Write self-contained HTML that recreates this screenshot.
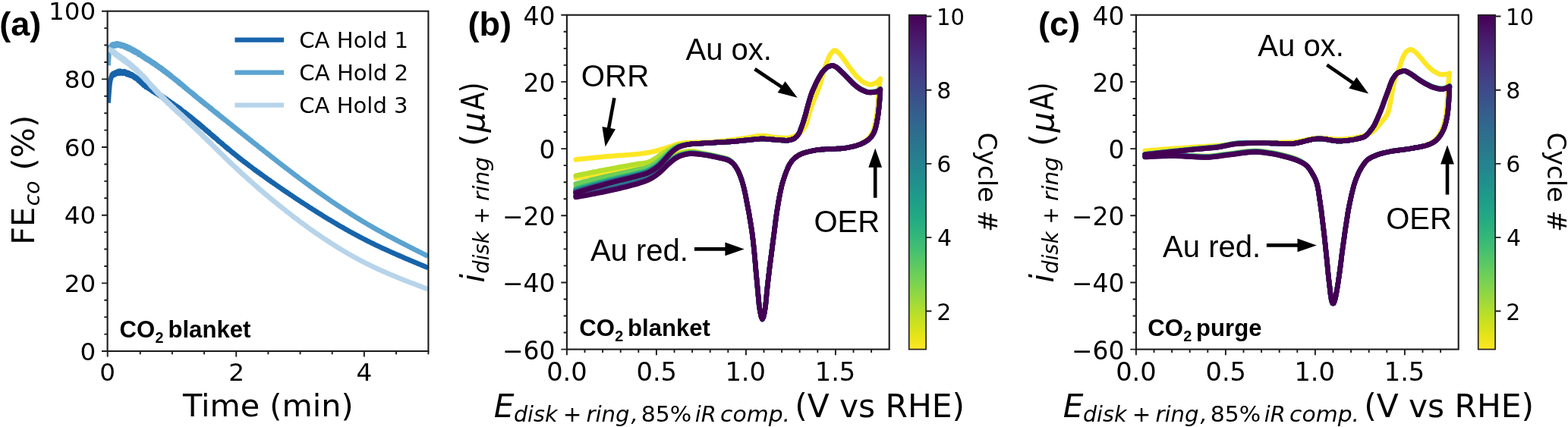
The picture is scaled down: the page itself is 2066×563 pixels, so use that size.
<!DOCTYPE html>
<html lang="en"><head><meta charset="utf-8"><title>Figure</title>
<style>html,body{margin:0;padding:0;background:#fff;overflow:hidden}svg{display:block}</style></head>
<body>
<svg width="2066" height="563" viewBox="0 0 2066 563" role="img" aria-label="Three-panel electrochemistry figure">
<rect width="2066" height="563" fill="#fff"/>
<filter id="soft" x="0" y="0" width="2066" height="563" filterUnits="userSpaceOnUse" color-interpolation-filters="sRGB"><feGaussianBlur stdDeviation="0.45"/></filter>
<g filter="url(#soft)">
<rect width="2066" height="563" fill="#fff"/>
<clipPath id="ca"><rect x="141.6" y="14.7" width="422.79999999999995" height="448.3"/></clipPath>
<g clip-path="url(#ca)">
<path d="M142.6 135.7L143.2 126.8L143.8 118.7L144.4 112.1L145 107.6L145.6 105.1L146.2 103L146.8 101.3L147.5 98.6L148.2 100L148.9 97L149.6 99.2L150.3 96.4L151 98.7L151.7 96L152.3 97.8L153 95L153.7 97.2L154.4 94.9L155.1 96.5L155.8 93.9L156.5 96.9L157.2 94.2L157.9 96.5L158.6 93.6L159.3 96.6L159.9 94.3L160.6 95.9L161.3 94.4L162 96.8L162.7 94.7L163.4 96.6L164.1 94.2L164.8 97L165.5 94.8L166.2 97.2L166.8 95.3L167.5 98.1L168.2 96.4L168.9 98.6L169.6 96.1L170.3 99.1L171 97.3L171.7 99.7L172.4 98L173.1 100L173.8 98L174.4 100.5L175.1 99.2L175.8 101.1L176.5 100.2L177.2 102.4L177.9 101.1L178.6 103.1L179.3 101.9L180 104L180.7 102.9L181.4 105.1L182 104L182.7 106.6L183.4 105.5L184.1 107.5L184.8 106.2L185.5 108.8L186.2 108L186.9 110.1L187.6 108.8L188.3 111.4L189 109.9L189.6 112.7L190.3 111.1L191 113.5L191.7 112.8L192.4 114.9L193.1 113.5L193.8 115.4L194.5 114.1L195.2 116.3L195.9 115L196.6 117.4L197.2 115.8L197.9 118.2L198.6 116.8L199.3 118.9L200 118L200.7 120.2L201.4 118.8L202.1 121.1L202.8 119.6L203.5 121.8L204.2 120.8L204.8 122.9L205.5 121.5L206.2 123.5L206.9 122.5L207.6 124.2L208.3 123.1L209 125.3L209.7 124.5L210.4 126.2L211.1 125.3L211.8 127.1L212.4 125.9L213.1 127.9L213.8 126.8L214.5 129L215.2 128.2L215.9 130L216.6 128.8L217.3 131L218 130L218.7 131.4L219.4 130.5L220 132.7L220.7 131.9L221.4 133.6L222.1 132.5L222.8 134.7L223.5 133.5L224.2 135.2L224.9 134.8L225.6 136.1L226.3 135.8L227 137.1L227.6 136.3L228.3 138.3L229 137.5L229.7 139.4L230.4 138.7L231.1 140.1L231.8 139.4L232.5 141.4L233.2 140.4L233.9 141.9L234.6 141.3L235.2 143L235.9 142.3L236.6 144.1L237.3 143.3L238 145.2L238.7 144.5L239.4 146L240.1 145.7L240.8 147L241.5 146.8L242.2 148L242.8 147.7L243.5 149.3L244.2 148.6L244.9 150L245.6 149.9L246.3 151.5L247 150.8L247.7 152.2L248.4 152L249.1 153.5L249.7 153.1L250.4 154.5L251.1 153.9L251.8 155.7L252.5 155.3L253.2 156.7L253.9 156.2L254.6 157.9L255.3 157.5L256 158.7L256.7 158.7L257.3 160L258 159.6L258.7 161.2L259.4 160.9L260.1 162.5L260.8 161.9L261.5 163.4L262.2 163.1L262.9 164.7L263.6 164.2L264.3 165.7L264.9 165.6L265.6 166.9L266.3 166.6L267 168L267.7 167.7L268.4 169.1L269.1 169.1L269.8 170.5L270.5 170.3L271.2 171.6L271.9 171.3L272.5 172.9L273.2 172.6L273.9 173.8L274.6 173.6L275.3 175.2L276 174.8L276.7 176.4L277.4 176.3L278.1 177.4L278.8 177.3L279.5 178.8L280.1 178.4L280.8 179.9L281.5 179.6L282.2 181.1L282.9 180.9L283.6 182.2L284.3 182.1L285 183.4L285.7 183.2L286.4 184.7L287.1 184.5L287.7 185.9L288.4 185.8L289.1 186.9L289.8 186.9L290.5 188.1L291.2 188.2L291.9 189.4L292.6 189.1L293.3 190.4L294 190.5L294.7 191.6L295.3 191.7L296 192.9L296.7 192.8L297.4 194.1L298.1 193.9L298.8 195.2L299.5 195L300.2 196.4L300.9 196.2L301.6 197.4L302.3 197.3L302.9 198.5L303.6 198.5L304.3 199.7L305 199.8L305.7 200.8L306.4 200.8L307.1 202L307.8 201.9L308.5 203.1L309.2 203L309.9 204.1L310.5 204.1L311.2 205.3L311.9 205.3L312.6 206.3L313.3 206.3L314 207.6L314.7 207.6L315.4 208.7L316.1 208.6L316.8 209.7L317.5 209.6L318.1 210.8L318.8 210.7L319.5 211.8L320.2 211.8L320.9 212.9L321.6 212.8L322.3 214L323 213.9L323.7 215L324.4 214.9L325.1 216L325.7 216L326.4 217.1L327.1 217.1L327.8 218.1L328.5 218.2L329.2 219.1L329.9 219.2L330.6 220.2L331.3 220.2L332 221.3L332.6 221.4L333.3 222.3L334 222.4L334.7 223.4L335.4 223.3L336.1 224.4L336.8 224.4L337.5 225.3L338.2 225.5L338.9 226.4L339.6 226.4L340.2 227.4L340.9 227.4L341.6 228.4L342.3 228.4L343 229.4L343.7 229.4L344.4 230.4L345.1 230.5L345.8 231.3L346.5 231.5L347.2 232.3L347.8 232.4L348.5 233.3L349.2 233.4L349.9 234.4L350.6 234.4L351.3 235.3L352 235.5L352.7 236.3L353.4 236.4L354.8 237.8L356.2 238.4L357.6 239.8L359 240.3L360.4 241.8L361.9 242.4L363.3 243.7L364.7 244.4L366.1 245.7L367.5 246.3L368.9 247.6L370.4 248.3L371.8 249.6L373.2 250.2L374.6 251.5L376 252.2L377.4 253.3L378.8 254L380.3 255.3L381.7 256L383.1 257.2L384.5 257.8L385.9 259.1L387.3 259.8L388.7 261L390.2 261.7L391.6 262.9L393 263.5L394.4 264.7L395.8 265.4L397.2 266.6L398.6 267.2L400.1 268.4L401.5 269.1L402.9 270.3L404.3 270.9L405.7 272.1L407.1 272.8L408.5 273.9L410 274.6L411.4 275.7L412.8 276.4L414.2 277.5L415.6 278.2L417 279.3L418.4 280L419.9 281.1L421.3 281.8L422.7 282.8L424.1 283.5L425.5 284.6L426.9 285.3L428.3 286.4L429.8 287L431.2 288.1L432.6 288.7L434 289.8L435.4 290.4L436.8 291.5L438.3 292.1L439.7 293.2L441.1 293.8L442.5 294.8L443.9 295.5L445.3 296.5L446.7 297.2L448.2 298.2L449.6 298.8L451 299.8L452.4 300.4L453.8 301.4L455.2 302L456.6 303L458.1 303.6L459.5 304.6L460.9 305.2L462.3 306.1L463.7 306.8L465.1 307.7L466.5 308.3L468 309.2L469.4 309.9L470.8 310.8L472.2 311.4L473.6 312.3L475 312.9L476.4 313.7L477.9 314.3L479.3 315.2L480.7 315.8L482.1 316.7L483.5 317.2L484.9 318.1L486.3 318.6L487.8 319.5L489.2 320.1L490.6 320.9L492 321.4L493.4 322.3L494.8 322.8L496.2 323.6L497.7 324.2L499.1 324.9L500.5 325.5L501.9 326.3L503.3 326.8L504.7 327.6L506.2 328.1L507.6 328.9L509 329.4L510.4 330.2L511.8 330.7L513.2 331.5L514.6 332L516.1 332.7L517.5 333.3L518.9 334L520.3 334.5L521.7 335.2L523.1 335.8L524.5 336.5L526 337L527.4 337.7L528.8 338.2L530.2 338.9L531.6 339.5L533 340.1L534.4 340.7L535.9 341.4L537.3 341.9L538.7 342.5L540.1 343.1L541.5 343.7L542.9 344.3L544.3 344.9L545.8 345.5L547.2 346.1L548.6 346.6L550 347.3L551.4 347.8L552.8 348.5L554.2 349L555.7 349.7L557.1 350.2L558.5 350.9L559.9 351.4L561.3 352L562.7 352.5L564.1 353.2" fill="none" stroke="#1764ab" stroke-width="6.6" stroke-linejoin="round" stroke-linecap="butt"/>
<path d="M142.6 86.4L143.2 75.1L143.8 65.3L144.4 62.5L145 62L145.6 61.5L146.2 61.1L146.8 60.7L147.5 59.3L148.2 61.1L148.9 58.4L149.6 60.8L150.3 58.5L151 60.5L151.7 58.1L152.3 60.5L153 57.4L153.7 60.1L154.4 57.3L155.1 59.7L155.8 57.7L156.5 59.7L157.2 57.9L157.9 59.9L158.6 58.4L159.3 60.7L159.9 58.7L160.6 60.6L161.3 59.1L162 61.2L162.7 59.4L163.4 61.6L164.1 59.8L164.8 62.4L165.5 60.5L166.2 62.9L166.8 60.9L167.5 63.7L168.2 62.1L168.9 64.4L169.6 62.1L170.3 64.9L171 62.8L171.7 65.4L172.4 63.7L173.1 66.1L173.8 64.5L174.4 67L175.1 65.1L175.8 67.8L176.5 65.8L177.2 67.9L177.9 66.7L178.6 69.3L179.3 67.5L180 69.5L180.7 68.5L181.4 70.3L182 68.9L182.7 71.9L183.4 69.9L184.1 72.5L184.8 70.9L185.5 73.1L186.2 72.2L186.9 74.3L187.6 73.1L188.3 74.9L189 73.6L189.6 76.1L190.3 74.8L191 76.9L191.7 75.9L192.4 77.8L193.1 76.4L193.8 78.9L194.5 77.6L195.2 79.3L195.9 78.2L196.6 80.3L197.2 79.2L197.9 81.1L198.6 80.1L199.3 82.2L200 81.1L200.7 83.1L201.4 82.1L202.1 84.1L202.8 82.7L203.5 84.7L204.2 84L204.8 85.6L205.5 84.7L206.2 86.9L206.9 86L207.6 87.7L208.3 86.7L209 88.8L209.7 87.9L210.4 89.9L211.1 88.6L211.8 90.4L212.4 89.5L213.1 91.8L213.8 90.6L214.5 92.7L215.2 91.9L215.9 93.9L216.6 92.8L217.3 94.6L218 94L218.7 96L219.4 95L220 96.8L220.7 95.9L221.4 98L222.1 97L222.8 98.7L223.5 98.1L224.2 100L224.9 99.2L225.6 101.2L226.3 100.5L227 102L227.6 101.7L228.3 103.2L229 102.8L229.7 104.4L230.4 103.8L231.1 105.3L231.8 105L232.5 106.5L233.2 106.1L233.9 107.6L234.6 107.1L235.2 108.9L235.9 108.1L236.6 110.2L237.3 109.6L238 111L238.7 110.5L239.4 112.1L240.1 111.6L240.8 113.3L241.5 112.8L242.2 114.6L242.8 113.9L243.5 115.5L244.2 115.3L244.9 116.9L245.6 116.5L246.3 117.7L247 117.5L247.7 119.1L248.4 118.8L249.1 120L249.7 120L250.4 121.3L251.1 120.9L251.8 122.4L252.5 121.9L253.2 123.6L253.9 123.2L254.6 124.7L255.3 124.3L256 126.1L256.7 125.5L257.3 126.9L258 126.7L258.7 128.1L259.4 127.8L260.1 129.3L260.8 129.1L261.5 130.2L262.2 130L262.9 131.6L263.6 131.1L264.3 132.7L264.9 132.3L265.6 133.9L266.3 133.5L267 134.8L267.7 134.4L268.4 136.1L269.1 135.7L269.8 137.2L270.5 136.8L271.2 138.2L271.9 138L272.5 139.1L273.2 138.9L273.9 140.2L274.6 140.1L275.3 141.4L276 141.3L276.7 142.6L277.4 142.2L278.1 143.7L278.8 143.3L279.5 144.9L280.1 144.6L280.8 145.9L281.5 145.8L282.2 146.9L282.9 146.8L283.6 148.1L284.3 147.8L285 149.3L285.7 148.9L286.4 150.4L287.1 150L287.7 151.5L288.4 151.3L289.1 152.5L289.8 152.4L290.5 153.7L291.2 153.4L291.9 154.7L292.6 154.6L293.3 155.9L294 155.6L294.7 156.8L295.3 156.7L296 158.1L296.7 158L297.4 159L298.1 159L298.8 160.1L299.5 160L300.2 161.4L300.9 161.2L301.6 162.5L302.3 162.4L302.9 163.4L303.6 163.4L304.3 164.6L305 164.4L305.7 165.7L306.4 165.7L307.1 166.9L307.8 166.8L308.5 167.8L309.2 167.8L309.9 169L310.5 169L311.2 170.2L311.9 170L312.6 171.2L313.3 171.1L314 172.4L314.7 172.4L315.4 173.5L316.1 173.4L316.8 174.4L317.5 174.5L318.1 175.6L318.8 175.7L319.5 176.6L320.2 176.8L320.9 177.8L321.6 177.8L322.3 178.9L323 178.9L323.7 180L324.4 180.1L325.1 181.2L325.7 181.1L326.4 182.3L327.1 182.3L327.8 183.3L328.5 183.5L329.2 184.5L329.9 184.6L330.6 185.5L331.3 185.6L332 186.7L332.6 186.7L333.3 187.8L334 187.7L334.7 188.9L335.4 188.9L336.1 190L336.8 190L337.5 191.1L338.2 191.1L338.9 192.1L339.6 192.3L340.2 193.2L340.9 193.4L341.6 194.3L342.3 194.4L343 195.5L343.7 195.5L344.4 196.5L345.1 196.6L345.8 197.5L346.5 197.7L347.2 198.7L347.8 198.9L348.5 199.8L349.2 200L349.9 200.8L350.6 201.1L351.3 201.9L352 202L352.7 203L353.4 203.1L354.8 204.6L356.2 205.4L357.6 207L359 207.6L360.4 209.1L361.9 209.8L363.3 211.3L364.7 212.1L366.1 213.5L367.5 214.3L368.9 215.8L370.4 216.4L371.8 217.9L373.2 218.7L374.6 220L376 220.8L377.4 222.2L378.8 223L380.3 224.3L381.7 225.2L383.1 226.5L384.5 227.4L385.9 228.7L387.3 229.5L388.7 230.8L390.2 231.6L391.6 232.9L393 233.8L394.4 235.1L395.8 235.9L397.2 237.2L398.6 238L400.1 239.2L401.5 240.1L402.9 241.3L404.3 242.2L405.7 243.4L407.1 244.2L408.5 245.5L410 246.3L411.4 247.6L412.8 248.3L414.2 249.6L415.6 250.4L417 251.6L418.4 252.4L419.9 253.7L421.3 254.4L422.7 255.7L424.1 256.5L425.5 257.6L426.9 258.4L428.3 259.6L429.8 260.4L431.2 261.6L432.6 262.3L434 263.5L435.4 264.3L436.8 265.5L438.3 266.3L439.7 267.4L441.1 268.2L442.5 269.3L443.9 270.1L445.3 271.2L446.7 271.9L448.2 273.1L449.6 273.9L451 274.9L452.4 275.7L453.8 276.8L455.2 277.5L456.6 278.6L458.1 279.4L459.5 280.4L460.9 281.2L462.3 282.3L463.7 283L465.1 284L466.5 284.8L468 285.8L469.4 286.6L470.8 287.6L472.2 288.3L473.6 289.3L475 290L476.4 291L477.9 291.8L479.3 292.7L480.7 293.4L482.1 294.4L483.5 295.1L484.9 296.1L486.3 296.8L487.8 297.7L489.2 298.4L490.6 299.3L492 300.1L493.4 301L494.8 301.6L496.2 302.6L497.7 303.2L499.1 304.2L500.5 304.8L501.9 305.7L503.3 306.4L504.7 307.3L506.2 308L507.6 308.8L509 309.5L510.4 310.4L511.8 311L513.2 311.9L514.6 312.5L516.1 313.4L517.5 314L518.9 314.9L520.3 315.5L521.7 316.4L523.1 317L524.5 317.9L526 318.5L527.4 319.3L528.8 320L530.2 320.8L531.6 321.4L533 322.3L534.4 322.9L535.9 323.7L537.3 324.3L538.7 325.1L540.1 325.8L541.5 326.6L542.9 327.2L544.3 328L545.8 328.7L547.2 329.4L548.6 330.1L550 330.9L551.4 331.5L552.8 332.3L554.2 332.9L555.7 333.7L557.1 334.4L558.5 335.1L559.9 335.8L561.3 336.5L562.7 337.2L564.1 338" fill="none" stroke="#5ba3d0" stroke-width="6.6" stroke-linejoin="round" stroke-linecap="butt"/>
<path d="M142.6 64L143.2 64.4L143.8 64.9L144.4 65.3L145 65.7L145.6 66.1L146.2 66.6L146.8 67L147.5 66.6L148.2 69.2L148.9 67.7L149.6 70.2L150.3 68L151 71L151.7 69L152.3 72.3L153 70.7L153.7 73.2L154.4 71.5L155.1 74.1L155.8 72.5L156.5 75.3L157.2 73.3L157.9 75.8L158.6 74.3L159.3 77.4L159.9 75.5L160.6 77.9L161.3 76.4L162 79.5L162.7 76.9L163.4 80.3L164.1 78L164.8 81.4L165.5 79.5L166.2 81.8L166.8 80.3L167.5 83.2L168.2 81.7L168.9 84L169.6 82.7L170.3 85.2L171 83.9L171.7 86.2L172.4 84.9L173.1 87.8L173.8 86L174.4 88.5L175.1 87.4L175.8 89.8L176.5 88.7L177.2 90.8L177.9 89.7L178.6 92L179.3 91L180 93.4L180.7 92.1L181.4 95L182 93.5L182.7 96.3L183.4 95.1L184.1 97.6L184.8 96.4L185.5 98.9L186.2 97.8L186.9 100.2L187.6 99.4L188.3 101.4L189 100.2L189.6 102.8L190.3 101.8L191 104.5L191.7 103.2L192.4 105.8L193.1 104.8L193.8 107.1L194.5 106.8L195.2 108.7L195.9 108.3L196.6 110.2L197.2 109.9L197.9 112L198.6 111.4L199.3 113.8L200 112.6L200.7 115.1L201.4 114.1L202.1 116.4L202.8 115.5L203.5 118.2L204.2 117.1L204.8 119.5L205.5 118.5L206.2 121.1L206.9 120.1L207.6 122.7L208.3 121.6L209 123.8L209.7 123.1L210.4 125.1L211.1 124.7L211.8 126.8L212.4 125.8L213.1 128.4L213.8 127.2L214.5 129.5L215.2 129L215.9 130.8L216.6 129.9L217.3 132.4L218 131.5L218.7 133.5L219.4 133L220 134.7L220.7 134.5L221.4 136.4L222.1 135.5L222.8 137.3L223.5 136.9L224.2 138.6L224.9 138.4L225.6 140.3L226.3 139.5L227 141.4L227.6 140.9L228.3 142.8L229 141.9L229.7 144L230.4 143.6L231.1 145.1L231.8 144.9L232.5 146.8L233.2 146L233.9 148L234.6 147.4L235.2 149L235.9 148.5L236.6 150.5L237.3 149.9L238 151.4L238.7 151L239.4 152.8L240.1 152.3L240.8 154L241.5 153.6L242.2 155.6L242.8 154.9L243.5 156.6L244.2 156.2L244.9 157.8L245.6 157.6L246.3 159.2L247 158.7L247.7 160.4L248.4 160L249.1 161.9L249.7 161.2L250.4 163L251.1 162.9L251.8 164.3L252.5 163.9L253.2 165.9L253.9 165.3L254.6 167L255.3 166.8L256 168.5L256.7 167.9L257.3 169.5L258 169.5L258.7 171.1L259.4 170.6L260.1 172.2L260.8 172.1L261.5 173.6L262.2 173.4L262.9 174.8L263.6 174.7L264.3 176.3L264.9 176L265.6 177.6L266.3 177.3L267 179.1L267.7 178.9L268.4 180.5L269.1 180.1L269.8 181.9L270.5 181.7L271.2 183L271.9 182.9L272.5 184.4L273.2 184.3L273.9 185.7L274.6 185.5L275.3 187.2L276 187L276.7 188.4L277.4 188.4L278.1 189.8L278.8 189.7L279.5 191.3L280.1 191.3L280.8 192.5L281.5 192.5L282.2 193.9L282.9 194L283.6 195.3L284.3 195.3L285 196.7L285.7 196.6L286.4 198L287.1 198L287.7 199.3L288.4 199.5L289.1 200.9L289.8 200.9L290.5 202.1L291.2 202.2L291.9 203.5L292.6 203.6L293.3 204.7L294 204.9L294.7 206.1L295.3 206.2L296 207.6L296.7 207.5L297.4 208.9L298.1 208.9L298.8 210.1L299.5 210.3L300.2 211.5L300.9 211.5L301.6 212.8L302.3 213L302.9 214.3L303.6 214.3L304.3 215.5L305 215.4L305.7 216.8L306.4 216.9L307.1 218.2L307.8 218.2L308.5 219.4L309.2 219.6L309.9 220.7L310.5 220.9L311.2 221.9L311.9 222L312.6 223.2L313.3 223.4L314 224.7L314.7 224.6L315.4 225.9L316.1 225.9L316.8 227.2L317.5 227.2L318.1 228.5L318.8 228.6L319.5 229.7L320.2 229.9L320.9 231L321.6 231L322.3 232.2L323 232.2L323.7 233.4L324.4 233.5L325.1 234.6L325.7 234.8L326.4 236L327.1 235.9L327.8 237.1L328.5 237.3L329.2 238.5L329.9 238.5L330.6 239.5L331.3 239.7L332 240.8L332.6 240.9L333.3 242L334 242.2L334.7 243.2L335.4 243.4L336.1 244.5L336.8 244.6L337.5 245.7L338.2 245.8L338.9 246.8L339.6 247L340.2 248.1L340.9 248.2L341.6 249.3L342.3 249.5L343 250.5L343.7 250.7L344.4 251.6L345.1 251.9L345.8 252.7L346.5 253L347.2 254L347.8 254.1L348.5 255.2L349.2 255.3L349.9 256.3L350.6 256.5L351.3 257.5L352 257.7L352.7 258.7L353.4 258.8L354.8 260.5L356.2 261.2L357.6 262.8L359 263.5L360.4 265L361.9 265.9L363.3 267.3L364.7 268.2L366.1 269.6L367.5 270.5L368.9 271.9L370.4 272.7L371.8 274.2L373.2 275L374.6 276.4L376 277.2L377.4 278.7L378.8 279.4L380.3 280.9L381.7 281.7L383.1 283L384.5 283.8L385.9 285.3L387.3 286.1L388.7 287.4L390.2 288.1L391.6 289.5L393 290.3L394.4 291.7L395.8 292.5L397.2 293.8L398.6 294.5L400.1 295.9L401.5 296.6L402.9 297.9L404.3 298.7L405.7 300L407.1 300.8L408.5 302L410 302.8L411.4 304L412.8 304.7L414.2 305.9L415.6 306.8L417 307.9L418.4 308.7L419.9 309.9L421.3 310.6L422.7 311.8L424.1 312.6L425.5 313.7L426.9 314.5L428.3 315.6L429.8 316.3L431.2 317.5L432.6 318.2L434 319.3L435.4 320L436.8 321.1L438.3 321.9L439.7 322.9L441.1 323.7L442.5 324.7L443.9 325.5L445.3 326.5L446.7 327.2L448.2 328.2L449.6 328.9L451 329.9L452.4 330.6L453.8 331.6L455.2 332.3L456.6 333.2L458.1 333.9L459.5 334.9L460.9 335.6L462.3 336.5L463.7 337.2L465.1 338.1L466.5 338.7L468 339.7L469.4 340.3L470.8 341.2L472.2 341.8L473.6 342.7L475 343.3L476.4 344.2L477.9 344.8L479.3 345.7L480.7 346.3L482.1 347.1L483.5 347.7L484.9 348.5L486.3 349.1L487.8 349.9L489.2 350.5L490.6 351.3L492 351.9L493.4 352.6L494.8 353.2L496.2 354L497.7 354.5L499.1 355.3L500.5 355.8L501.9 356.5L503.3 357.1L504.7 357.8L506.2 358.3L507.6 359L509 359.6L510.4 360.3L511.8 360.8L513.2 361.5L514.6 362L516.1 362.7L517.5 363.2L518.9 363.8L520.3 364.4L521.7 365L523.1 365.5L524.5 366.2L526 366.7L527.4 367.3L528.8 367.8L530.2 368.5L531.6 368.9L533 369.6L534.4 370.1L535.9 370.7L537.3 371.2L538.7 371.8L540.1 372.3L541.5 372.9L542.9 373.3L544.3 373.9L545.8 374.4L547.2 375L548.6 375.5L550 376.1L551.4 376.6L552.8 377.2L554.2 377.6L555.7 378.3L557.1 378.7L558.5 379.3L559.9 379.8L561.3 380.4L562.7 380.8L564.1 381.4" fill="none" stroke="#b7d4ea" stroke-width="6.6" stroke-linejoin="round" stroke-linecap="butt"/>
</g>
<path d="M141.7 463V470.6M311.22 463V470.6M479.84 463V470.6M184.75 463V467.3M226.91 463V467.3M269.06 463V467.3M353.38 463V467.3M395.53 463V467.3M437.69 463V467.3M522 463V467.3M564.4 463V467.3M141.6 463H134M141.6 373.34H134M141.6 283.68H134M141.6 194.02H134M141.6 104.36H134M141.6 14.7H134M141.6 440.58H137.3M141.6 418.17H137.3M141.6 395.75H137.3M141.6 350.93H137.3M141.6 328.51H137.3M141.6 306.1H137.3M141.6 261.26H137.3M141.6 238.85H137.3M141.6 216.44H137.3M141.6 171.61H137.3M141.6 149.19H137.3M141.6 126.77H137.3M141.6 81.94H137.3M141.6 59.53H137.3M141.6 37.12H137.3" stroke="#1c1c1c" stroke-width="1.9" fill="none"/>
<rect x="141.6" y="14.7" width="422.8" height="448.3" fill="none" stroke="#1c1c1c" stroke-width="2.1"/>
<text transform="translate(131.32,502.2) scale(1.0200,1)" font-size="32" font-family="'DejaVu Sans', 'Liberation Sans', sans-serif" font-weight="normal" font-style="normal" fill="#000">0</text>
<text transform="translate(301.28,502.2) scale(1.0200,1)" font-size="32" font-family="'DejaVu Sans', 'Liberation Sans', sans-serif" font-weight="normal" font-style="normal" fill="#000">2</text>
<text transform="translate(469.58,502.2) scale(1.0200,1)" font-size="32" font-family="'DejaVu Sans', 'Liberation Sans', sans-serif" font-weight="normal" font-style="normal" fill="#000">4</text>
<text transform="translate(105.5,474.65) scale(1.0200,1)" font-size="32" font-family="'DejaVu Sans', 'Liberation Sans', sans-serif" font-weight="normal" font-style="normal" fill="#000">0</text>
<text transform="translate(84.73,384.99) scale(1.0200,1)" font-size="32" font-family="'DejaVu Sans', 'Liberation Sans', sans-serif" font-weight="normal" font-style="normal" fill="#000">20</text>
<text transform="translate(84.73,295.33) scale(1.0200,1)" font-size="32" font-family="'DejaVu Sans', 'Liberation Sans', sans-serif" font-weight="normal" font-style="normal" fill="#000">40</text>
<text transform="translate(84.73,205.67) scale(1.0200,1)" font-size="32" font-family="'DejaVu Sans', 'Liberation Sans', sans-serif" font-weight="normal" font-style="normal" fill="#000">60</text>
<text transform="translate(84.73,116.01) scale(1.0200,1)" font-size="32" font-family="'DejaVu Sans', 'Liberation Sans', sans-serif" font-weight="normal" font-style="normal" fill="#000">80</text>
<text transform="translate(63.97,26.35) scale(1.0200,1)" font-size="32" font-family="'DejaVu Sans', 'Liberation Sans', sans-serif" font-weight="normal" font-style="normal" fill="#000">100</text>
<path d="M309.4 52.7H374" stroke="#1764ab" stroke-width="6.3" fill="none"/>
<text transform="translate(394.26,63.3) scale(1.0411,1)" font-size="28" font-family="'DejaVu Sans', 'Liberation Sans', sans-serif" font-weight="normal" font-style="normal" fill="#000">CA Hold 1</text>
<path d="M309.4 95.7H374" stroke="#5ba3d0" stroke-width="6.3" fill="none"/>
<text transform="translate(394.26,106.3) scale(1.0428,1)" font-size="28" font-family="'DejaVu Sans', 'Liberation Sans', sans-serif" font-weight="normal" font-style="normal" fill="#000">CA Hold 2</text>
<path d="M309.4 138.7H374" stroke="#b7d4ea" stroke-width="6.3" fill="none"/>
<text transform="translate(394.27,149.3) scale(1.0384,1)" font-size="28" font-family="'DejaVu Sans', 'Liberation Sans', sans-serif" font-weight="normal" font-style="normal" fill="#000">CA Hold 3</text>
<text transform="translate(241.02,549.3) scale(1.0134,1)" font-size="40.8" font-family="'DejaVu Sans', 'Liberation Sans', sans-serif" font-weight="normal" font-style="normal" fill="#000">Time (min)</text>
<text transform="translate(45,322.65) rotate(-90)" font-size="41.3" font-family="'DejaVu Sans', 'Liberation Sans', sans-serif" font-weight="normal" font-style="normal" fill="#000">FE</text>
<text transform="translate(51.6,271.4) rotate(-90) scale(0.9936,1)" font-size="28.6" font-family="'DejaVu Sans', 'Liberation Sans', sans-serif" font-weight="normal" font-style="italic" fill="#000">co</text>
<text transform="translate(44.6,224.63) rotate(-90) scale(1.0222,1)" font-size="41.3" font-family="'DejaVu Sans', 'Liberation Sans', sans-serif" font-weight="normal" font-style="normal" fill="#000">(%)</text>
<text transform="translate(-0.85,46.8) scale(1.0250,1)" font-size="44" font-family="'Liberation Sans', 'DejaVu Sans', sans-serif" font-weight="bold" font-style="normal" fill="#000">(a)</text>
<text transform="translate(157.62,445.3)" font-size="31.1" font-family="'Liberation Sans', 'DejaVu Sans', sans-serif" font-weight="bold" font-style="normal" fill="#000">CO</text>
<text transform="translate(204.57,452.2)" font-size="19.8" font-family="'Liberation Sans', 'DejaVu Sans', sans-serif" font-weight="bold" font-style="normal" fill="#000">2</text>
<text transform="translate(221.47,445.3)" font-size="31.1" font-family="'Liberation Sans', 'DejaVu Sans', sans-serif" font-weight="bold" font-style="normal" fill="#000">blanket</text>
<clipPath id="cb"><rect x="746.9" y="19.75" width="424.8" height="440.85"/></clipPath>
<g clip-path="url(#cb)" fill="none" stroke-width="6.5" stroke-linejoin="round" stroke-linecap="round">
<path d="M758.7 210.4L762.1 210L765.5 209.6L768.9 209.3L772.3 208.9L775.7 208.6L779.1 208.2L782.5 207.9L785.9 207.5L789.3 207.2L792.7 206.9L796.1 206.6L799.5 206.2L802.9 205.9L806.3 205.7L809.7 205.4L813.1 205.1L816.5 204.9L819.9 204.7L823.3 204.5L826.7 204.2L830.1 204L833.5 203.7L836.9 203.4L840.3 203.1L843.7 202.7L847.1 202.3L850.5 201.8L853.9 201.2L857.3 200.6L860.7 199.8L864.1 199L867.5 198.1L870.9 197.1L874.3 196.1L877.7 195L881.1 193.9L884.5 192.8L887.9 191.6L891.3 190.3L894.7 189.4L898.1 188.9L901.5 188.5L904.9 188.3L908.3 188.1L911.7 187.9L915.1 187.9L918.5 187.8L921.9 187.8L925.3 187.8L928.7 187.7L932.1 187.7L935.5 187.5L938.9 187.3L942.3 187L945.7 186.6L949.1 186.3L952.5 185.9L955.9 185.5L959.3 185L960.7 184.9L962 184.7L963.4 184.6L964.8 184.4L966.1 184.2L967.5 184.1L968.9 183.9L970.2 183.7L971.6 183.6L973 183.4L974.3 183.2L975.7 183L977.1 182.8L978.5 182.6L979.8 182.5L981.2 182.3L982.6 182.1L983.9 181.9L985.3 181.7L986.7 181.5L988 181.2L989.4 181L990.8 180.7L992.1 180.4L993.5 180.2L994.9 180L996.2 179.7L997.6 179.5L999 179.3L1000.3 179.2L1001.7 179.1L1003.1 179L1004.4 179L1005.8 179L1007.2 179.1L1008.6 179.2L1009.9 179.4L1011.3 179.6L1012.7 179.8L1014 180.1L1015.4 180.3L1016.8 180.6L1018.1 180.8L1019.5 181L1020.9 181.1L1022.2 181.3L1023.6 181.4L1025 181.5L1026.3 181.6L1027.7 181.7L1029.1 181.7L1030.4 181.8L1031.8 181.9L1033.2 181.9L1034.5 182L1035.9 182L1037.3 182L1038.7 181.8L1040 181.6L1041.4 181.3L1042.8 180.8L1044.1 180.3L1045.5 179.8L1046.9 179.2L1048.2 178.5L1049.6 177.8L1051 177.1L1052.3 176.3L1053.7 175.3L1054.9 174.2L1056.1 173L1057.3 171.7L1058.5 170.2L1059.7 168.5L1060.9 166.6L1062.1 164.3L1063.2 160.7L1064.4 156.2L1065.6 151.6L1066.8 147.6L1068 144.1L1069.2 140.7L1070.4 137.5L1071.6 134.3L1072.8 131.2L1074 128.2L1075.2 125.3L1076.4 122.3L1077.6 119.3L1078.8 116.2L1080 112.9L1081.1 109.2L1082.3 105.2L1083.5 100.9L1084.7 96.6L1085.9 92.4L1087.1 88.5L1088.3 85.1L1089.5 81.9L1090.7 78.8L1091.9 75.9L1093.1 73.4L1094.3 71.5L1095.5 69.9L1096.7 68.4L1097.9 67.3L1099 66.6L1100.2 66.5L1101.4 67L1102.6 67.8L1103.8 68.7L1105 69.7L1106.2 70.8L1107.4 72.2L1108.6 73.7L1109.8 75.4L1111 77.1L1112.2 78.7L1113.4 80.3L1114.6 82L1115.7 83.7L1116.9 85.4L1118.1 87.1L1119.3 88.8L1120.5 90.4L1121.7 92L1122.9 93.5L1124.1 95.1L1125.3 96.6L1126.5 98L1127.7 99.4L1128.9 100.7L1130.1 101.9L1131.3 103L1132.5 104.1L1133.6 105.2L1134.8 106.2L1136 107.2L1137.2 108L1138.4 108.7L1139.6 109.2L1140.8 109.8L1142 110.3L1143.2 110.8L1144.4 111.1L1145.6 111.4L1146.8 111.4L1148 111.4L1149.2 111.1L1150.4 110.8L1151.5 110.3L1152.7 109.8L1153.9 109.2L1155.1 108.6L1156.3 107.7L1157.5 106.6L1158.7 105.3L1159.9 104L1157.9 118.1L1156.7 136.2L1155.5 148.2L1154.3 155.9L1153.1 162.4L1151.9 167.7L1150.7 171.7L1149.5 174.7L1148.4 176.8L1147.2 178.7L1146 180.3L1144.8 181.7L1143.7 182.9L1142.5 184L1141.4 184.9L1140.3 185.8L1139.1 186.5L1138 187.3L1136.8 187.9L1135.7 188.6L1134.5 189.1L1133.4 189.7L1132.3 190.2L1131.1 190.6L1130 191L1128.8 191.4L1127.7 191.8L1126.5 192.1L1125.4 192.5L1124.3 192.8L1123.1 193.1L1122 193.4L1120.8 193.7L1119.7 193.9L1118.5 194.2L1117.4 194.4L1116.3 194.7L1115.1 194.9L1114 195.1L1112.8 195.2L1111.7 195.4L1110.5 195.5L1109.4 195.7L1108.3 195.8L1107.1 195.9L1106 195.9L1104.8 196L1103.7 196.1L1102.6 196.1L1101.4 196.2L1100.2 196.3L1099 196.3L1097.9 196.4L1096.7 196.4L1095.5 196.4L1094.3 196.5L1093.1 196.5L1091.9 196.6L1090.7 196.6L1089.5 196.7L1088.3 196.7L1087.1 196.8L1085.9 196.9L1084.7 196.9L1083.5 197L1082.3 197.1L1081.1 197.2L1080 197.3L1078.8 197.4L1077.6 197.6L1076.4 197.7L1075.2 197.9L1074 198.2L1072.8 198.4L1071.6 198.6L1070.4 198.8L1069.2 199.1L1068 199.3L1066.8 199.6L1065.6 199.9L1064.4 200.1L1063.2 200.5L1062.1 200.8L1060.9 201.1L1059.7 201.5L1058.5 201.9L1057.3 202.3L1056.1 202.8L1054.9 203.4L1053.7 204L1052.3 204.7L1051 205.6L1049.6 206.5L1048.2 207.5L1046.9 208.6L1045.5 209.9L1044.1 211.4L1042.8 213.2L1041.4 215.1L1040 217.3L1038.7 219.9L1037.3 223.1L1035.9 226.6L1034.5 230.3L1033.2 234.2L1031.8 238.5L1030.4 243.3L1029.1 248.9L1027.7 255.4L1026.3 262.8L1025 270.7L1023.6 279.3L1022.2 289.2L1020.9 299.9L1019.5 310.8L1018.1 321.3L1016.8 331.8L1015.4 342.3L1014 353.1L1012.7 364.3L1011.3 376.1L1009.9 390.5L1008.6 404L1007.2 412.4L1005.8 418.4L1004.4 420.9L1003.1 418.1L1001.7 411.9L1000.3 403.2L999 389.4L997.6 373.8L996.2 359.3L994.9 343.8L993.5 328.7L992.1 315.9L990.8 305.7L989.4 296.4L988 288.1L986.7 280.3L985.3 273L983.9 265.8L982.6 258.8L981.2 252.2L979.8 246.3L978.5 241.4L977.1 236.8L975.7 232.8L974.3 229.2L973 226L971.6 223.3L970.2 220.9L968.9 218.7L967.5 216.7L966.1 215.1L964.8 213.7L963.4 212.5L962 211.5L960.7 210.5L959.3 209.7L955.9 208.6L952.5 207.7L949.1 207L945.7 206.2L942.3 205.5L938.9 204.7L935.5 204L932.1 203.3L928.7 202.6L925.3 201.9L921.9 201.2L918.5 200.5L915.1 199.8L911.7 199.5L908.3 199.3L904.9 199.6L901.5 200.2L898.1 200.7L894.7 201.4L891.3 202.5L887.9 203.7L884.5 205L881.1 206.7L877.7 208.5L874.3 210.3L870.9 212.2L867.5 213.9L864.1 215.2L860.7 216.4L857.3 217.5L853.9 218.4L850.5 219.1L847.1 219.6L843.7 220L840.3 220.5L836.9 221L833.5 221.5L830.1 221.9L826.7 222.3L823.3 222.7L819.9 223.2L816.5 223.7L813.1 224.2L809.7 224.8L806.3 225.5L802.9 226.2L799.5 226.9L796.1 227.6L792.7 228.3L789.3 229L785.9 229.7L782.5 230.4L779.1 231L775.7 231.7L772.3 232.3L768.9 232.9L765.5 233.5L762.1 234.1L758.7 234.6" stroke="#fde725"/>
<path d="M758.7 231.6L762.1 230.9L765.5 230.2L768.9 229.5L772.3 228.9L775.7 228.2L779.1 227.5L782.5 226.8L785.9 226.2L789.3 225.5L792.7 224.8L796.1 224.2L799.5 223.5L802.9 222.9L806.3 222.2L809.7 221.6L813.1 221L816.5 220.3L819.9 219.7L823.3 219.1L826.7 218.5L830.1 217.9L833.5 217.3L836.9 216.7L840.3 216L843.7 215.6L847.1 215.2L850.5 214.7L853.9 213.9L857.3 212.6L860.7 210.7L864.1 208.6L867.5 206.2L870.9 203.6L874.3 201.4L877.7 199.4L881.1 197.3L884.5 195.3L887.9 193.6L891.3 192.4L894.7 191.5L898.1 191L901.5 190.7L904.9 190.5L908.3 190.1L911.7 189.8L915.1 189.6L918.5 189.3L921.9 189.2L925.3 189L928.7 188.8L932.1 188.6L935.5 188.4L938.9 188.2L942.3 188L945.7 187.8L949.1 187.7L952.5 187.5L955.9 187.3L959.3 187L960.7 187L962 186.9L963.4 186.8L964.8 186.7L966.1 186.6L967.5 186.4L968.9 186.3L970.2 186.2L971.6 186L973 185.9L974.3 185.8L975.7 185.6L977.1 185.5L978.5 185.3L979.8 185.2L981.2 185L982.6 184.9L983.9 184.8L985.3 184.7L986.7 184.5L988 184.4L989.4 184.2L990.8 184.1L992.1 183.9L993.5 183.8L994.9 183.6L996.2 183.5L997.6 183.4L999 183.3L1000.3 183.2L1001.7 183.1L1003.1 183.1L1004.4 183.1L1005.8 183.1L1007.2 183.1L1008.6 183.2L1009.9 183.3L1011.3 183.4L1012.7 183.5L1014 183.6L1015.4 183.7L1016.8 183.9L1018.1 184L1019.5 184.1L1020.9 184.2L1022.2 184.3L1023.6 184.4L1025 184.5L1026.3 184.6L1027.7 184.7L1029.1 184.8L1030.4 185L1031.8 185L1033.2 185.1L1034.5 185.2L1035.9 185.2L1037.3 185.2L1038.7 185L1040 184.8L1041.4 184.5L1042.8 184.1L1044.1 183.6L1045.5 183.1L1046.9 182.4L1048.2 181.3L1049.6 180L1051 178.4L1052.3 176.6L1053.7 173.9L1054.9 170.7L1056.1 167.4L1057.3 164L1058.5 160.4L1059.7 156.6L1060.9 152.5L1062.1 148.1L1063.2 143.7L1064.4 139.5L1065.6 135.2L1066.8 131.1L1068 127.1L1069.2 123.5L1070.4 120.4L1071.6 117.6L1072.8 115L1074 112.4L1075.2 109.7L1076.4 107.2L1077.6 104.9L1078.8 102.7L1080 100.7L1081.1 98.7L1082.3 96.9L1083.5 95.2L1084.7 93.7L1085.9 92.4L1087.1 91.2L1088.3 90L1089.5 89L1090.7 88.2L1091.9 87.7L1093.1 87.3L1094.3 86.9L1095.5 86.7L1096.7 86.5L1097.9 86.6L1099 87L1100.2 87.5L1101.4 88.1L1102.6 88.8L1103.8 89.7L1105 90.7L1106.2 91.9L1107.4 92.9L1108.6 94L1109.8 95.1L1111 96.2L1112.2 97.4L1113.4 98.6L1114.6 99.8L1115.7 101L1116.9 102.2L1118.1 103.4L1119.3 104.6L1120.5 105.9L1121.7 107.1L1122.9 108.3L1124.1 109.5L1125.3 110.6L1126.5 111.6L1127.7 112.6L1128.9 113.5L1130.1 114.5L1131.3 115.3L1132.5 116.1L1133.6 116.8L1134.8 117.5L1136 118L1137.2 118.6L1138.4 119.1L1139.6 119.7L1140.8 120.1L1142 120.6L1143.2 120.9L1144.4 121.1L1145.6 121.2L1146.8 121.2L1148 121.1L1149.2 121L1150.4 120.9L1151.5 120.8L1152.7 120.7L1153.9 120.5L1155.1 120.2L1156.3 119.8L1157.5 119L1158.7 118.2L1159.9 117.2L1159.9 118.1L1158.7 136.2L1157.5 148.2L1156.3 155.9L1155.1 162.4L1153.9 167.7L1152.7 171.7L1151.5 174.7L1150.4 176.8L1149.2 178.7L1148 180.3L1146.8 181.7L1145.6 182.9L1144.4 184L1143.2 184.9L1142 185.8L1140.8 186.5L1139.6 187.3L1138.4 187.9L1137.2 188.6L1136 189.1L1134.8 189.7L1133.6 190.2L1132.5 190.6L1131.3 191L1130.1 191.4L1128.9 191.8L1127.7 192.1L1126.5 192.5L1125.3 192.8L1124.1 193.1L1122.9 193.4L1121.7 193.7L1120.5 193.9L1119.3 194.2L1118.1 194.4L1116.9 194.7L1115.7 194.9L1114.6 195.1L1113.4 195.2L1112.2 195.4L1111 195.5L1109.8 195.7L1108.6 195.8L1107.4 195.9L1106.2 195.9L1105 196L1103.8 196.1L1102.6 196.1L1101.4 196.2L1100.2 196.3L1099 196.3L1097.9 196.4L1096.7 196.4L1095.5 196.4L1094.3 196.5L1093.1 196.5L1091.9 196.6L1090.7 196.6L1089.5 196.7L1088.3 196.7L1087.1 196.8L1085.9 196.9L1084.7 196.9L1083.5 197L1082.3 197.1L1081.1 197.2L1080 197.3L1078.8 197.4L1077.6 197.6L1076.4 197.7L1075.2 197.9L1074 198.2L1072.8 198.4L1071.6 198.6L1070.4 198.8L1069.2 199.1L1068 199.3L1066.8 199.6L1065.6 199.9L1064.4 200.1L1063.2 200.5L1062.1 200.8L1060.9 201.1L1059.7 201.5L1058.5 201.9L1057.3 202.3L1056.1 202.8L1054.9 203.4L1053.7 204L1052.3 204.7L1051 205.6L1049.6 206.5L1048.2 207.5L1046.9 208.6L1045.5 209.9L1044.1 211.4L1042.8 213.2L1041.4 215.1L1040 217.3L1038.7 219.9L1037.3 223.1L1035.9 226.6L1034.5 230.3L1033.2 234.2L1031.8 238.5L1030.4 243.3L1029.1 248.9L1027.7 255.4L1026.3 262.8L1025 270.7L1023.6 279.3L1022.2 289.2L1020.9 299.9L1019.5 310.8L1018.1 321.3L1016.8 331.8L1015.4 342.3L1014 353.1L1012.7 364.3L1011.3 376.1L1009.9 390.5L1008.6 404L1007.2 412.4L1005.8 418.4L1004.4 420.9L1003.1 418.1L1001.7 411.9L1000.3 403.2L999 389.4L997.6 373.8L996.2 359.3L994.9 343.8L993.5 328.7L992.1 315.9L990.8 305.7L989.4 296.4L988 288.1L986.7 280.3L985.3 273L983.9 265.8L982.6 258.8L981.2 252.2L979.8 246.3L978.5 241.4L977.1 236.9L975.7 232.8L974.3 229.2L973 226.1L971.6 223.4L970.2 221L968.9 218.8L967.5 216.8L966.1 215.2L964.8 213.8L963.4 212.7L962 211.6L960.7 210.7L959.3 209.9L955.9 208.7L952.5 207.9L949.1 207.2L945.7 206.4L942.3 205.6L938.9 204.9L935.5 204.1L932.1 203.5L928.7 202.8L925.3 202.1L921.9 201.4L918.5 200.6L915.1 200L911.7 199.7L908.3 199.7L904.9 200.2L901.5 200.9L898.1 201.8L894.7 202.9L891.3 204.6L887.9 206.3L884.5 208.4L881.1 210.7L877.7 213L874.3 215.2L870.9 217.6L867.5 220.2L864.1 222.6L860.7 224.8L857.3 226.7L853.9 228.2L850.5 229.3L847.1 230.1L843.7 230.9L840.3 231.6L836.9 232.4L833.5 233.2L830.1 234L826.7 234.7L823.3 235.4L819.9 236.2L816.5 236.9L813.1 237.5L809.7 238.2L806.3 238.8L802.9 239.4L799.5 239.9L796.1 240.5L792.7 241L789.3 241.5L785.9 242L782.5 242.5L779.1 243L775.7 243.4L772.3 243.9L768.9 244.3L765.5 244.7L762.1 245L758.7 245.4" stroke="#b5de2b"/>
<path d="M758.7 242.3L762.1 241.4L765.5 240.6L768.9 239.7L772.3 238.9L775.7 238.1L779.1 237.2L782.5 236.4L785.9 235.6L789.3 234.8L792.7 234L796.1 233.2L799.5 232.4L802.9 231.6L806.3 230.9L809.7 230.1L813.1 229.4L816.5 228.6L819.9 227.9L823.3 227.2L826.7 226.5L830.1 225.8L833.5 225L836.9 224.3L840.3 223.5L843.7 222.8L847.1 222.2L850.5 221.4L853.9 220.4L857.3 218.9L860.7 216.9L864.1 214.8L867.5 212.3L870.9 209.4L874.3 206.4L877.7 203.6L881.1 200.6L884.5 197.9L887.9 195.6L891.3 193.8L894.7 192.4L898.1 191.6L901.5 191L904.9 190.6L908.3 190.1L911.7 189.8L915.1 189.6L918.5 189.3L921.9 189.2L925.3 189L928.7 188.8L932.1 188.6L935.5 188.4L938.9 188.2L942.3 188L945.7 187.8L949.1 187.7L952.5 187.5L955.9 187.3L959.3 187L960.7 187L962 186.9L963.4 186.8L964.8 186.7L966.1 186.6L967.5 186.4L968.9 186.3L970.2 186.2L971.6 186L973 185.9L974.3 185.8L975.7 185.6L977.1 185.5L978.5 185.3L979.8 185.2L981.2 185L982.6 184.9L983.9 184.8L985.3 184.7L986.7 184.5L988 184.4L989.4 184.2L990.8 184.1L992.1 183.9L993.5 183.8L994.9 183.6L996.2 183.5L997.6 183.4L999 183.3L1000.3 183.2L1001.7 183.1L1003.1 183.1L1004.4 183.1L1005.8 183.1L1007.2 183.1L1008.6 183.2L1009.9 183.3L1011.3 183.4L1012.7 183.5L1014 183.6L1015.4 183.7L1016.8 183.9L1018.1 184L1019.5 184.1L1020.9 184.2L1022.2 184.3L1023.6 184.4L1025 184.5L1026.3 184.6L1027.7 184.7L1029.1 184.8L1030.4 185L1031.8 185L1033.2 185.1L1034.5 185.2L1035.9 185.2L1037.3 185.2L1038.7 185L1040 184.8L1041.4 184.5L1042.8 184.1L1044.1 183.6L1045.5 183.1L1046.9 182.4L1048.2 181.3L1049.6 180L1051 178.4L1052.3 176.6L1053.7 173.9L1054.9 170.7L1056.1 167.4L1057.3 164L1058.5 160.4L1059.7 156.6L1060.9 152.5L1062.1 148.1L1063.2 143.7L1064.4 139.5L1065.6 135.2L1066.8 131.1L1068 127.1L1069.2 123.5L1070.4 120.4L1071.6 117.6L1072.8 115L1074 112.4L1075.2 109.7L1076.4 107.2L1077.6 104.9L1078.8 102.7L1080 100.7L1081.1 98.7L1082.3 96.9L1083.5 95.2L1084.7 93.7L1085.9 92.4L1087.1 91.2L1088.3 90L1089.5 89L1090.7 88.2L1091.9 87.7L1093.1 87.3L1094.3 86.9L1095.5 86.7L1096.7 86.5L1097.9 86.6L1099 87L1100.2 87.5L1101.4 88.2L1102.6 88.8L1103.8 89.7L1105 90.8L1106.2 91.9L1107.4 93L1108.6 94.1L1109.8 95.2L1111 96.3L1112.2 97.5L1113.4 98.7L1114.6 99.9L1115.7 101.1L1116.9 102.3L1118.1 103.5L1119.3 104.7L1120.5 106L1121.7 107.2L1122.9 108.4L1124.1 109.6L1125.3 110.7L1126.5 111.7L1127.7 112.7L1128.9 113.6L1130.1 114.6L1131.3 115.4L1132.5 116.2L1133.6 117L1134.8 117.6L1136 118.1L1137.2 118.7L1138.4 119.2L1139.6 119.8L1140.8 120.2L1142 120.7L1143.2 121L1144.4 121.2L1145.6 121.3L1146.8 121.3L1148 121.2L1149.2 121.2L1150.4 121L1151.5 120.9L1152.7 120.8L1153.9 120.6L1155.1 120.4L1156.3 119.9L1157.5 119.1L1158.7 118.3L1159.9 117.3L1159.9 118.1L1158.7 136.2L1157.5 148.2L1156.3 155.9L1155.1 162.4L1153.9 167.7L1152.7 171.7L1151.5 174.7L1150.4 176.8L1149.2 178.7L1148 180.3L1146.8 181.7L1145.6 182.9L1144.4 184L1143.2 184.9L1142 185.8L1140.8 186.5L1139.6 187.3L1138.4 187.9L1137.2 188.6L1136 189.1L1134.8 189.7L1133.6 190.2L1132.5 190.6L1131.3 191L1130.1 191.4L1128.9 191.8L1127.7 192.1L1126.5 192.5L1125.3 192.8L1124.1 193.1L1122.9 193.4L1121.7 193.7L1120.5 193.9L1119.3 194.2L1118.1 194.4L1116.9 194.7L1115.7 194.9L1114.6 195.1L1113.4 195.2L1112.2 195.4L1111 195.5L1109.8 195.7L1108.6 195.8L1107.4 195.9L1106.2 195.9L1105 196L1103.8 196.1L1102.6 196.1L1101.4 196.2L1100.2 196.3L1099 196.3L1097.9 196.4L1096.7 196.4L1095.5 196.4L1094.3 196.5L1093.1 196.5L1091.9 196.6L1090.7 196.6L1089.5 196.7L1088.3 196.7L1087.1 196.8L1085.9 196.9L1084.7 196.9L1083.5 197L1082.3 197.1L1081.1 197.2L1080 197.3L1078.8 197.4L1077.6 197.6L1076.4 197.7L1075.2 197.9L1074 198.2L1072.8 198.4L1071.6 198.6L1070.4 198.8L1069.2 199.1L1068 199.3L1066.8 199.6L1065.6 199.9L1064.4 200.1L1063.2 200.5L1062.1 200.8L1060.9 201.1L1059.7 201.5L1058.5 201.9L1057.3 202.3L1056.1 202.8L1054.9 203.4L1053.7 204L1052.3 204.7L1051 205.6L1049.6 206.5L1048.2 207.5L1046.9 208.6L1045.5 209.9L1044.1 211.4L1042.8 213.2L1041.4 215.1L1040 217.3L1038.7 219.9L1037.3 223.1L1035.9 226.6L1034.5 230.3L1033.2 234.2L1031.8 238.5L1030.4 243.3L1029.1 248.9L1027.7 255.4L1026.3 262.8L1025 270.7L1023.6 279.3L1022.2 289.2L1020.9 299.9L1019.5 310.8L1018.1 321.3L1016.8 331.8L1015.4 342.3L1014 353.1L1012.7 364.3L1011.3 376.1L1009.9 390.5L1008.6 404L1007.2 412.4L1005.8 418.4L1004.4 420.9L1003.1 418.1L1001.7 411.9L1000.3 403.2L999 389.4L997.6 373.8L996.2 359.3L994.9 343.8L993.5 328.7L992.1 315.9L990.8 305.7L989.4 296.4L988 288.1L986.7 280.3L985.3 273L983.9 265.8L982.6 258.8L981.2 252.2L979.8 246.3L978.5 241.4L977.1 236.9L975.7 232.8L974.3 229.3L973 226.1L971.6 223.4L970.2 221.1L968.9 218.9L967.5 216.9L966.1 215.3L964.8 214L963.4 212.8L962 211.8L960.7 210.9L959.3 210.1L955.9 208.9L952.5 208.1L949.1 207.4L945.7 206.6L942.3 205.8L938.9 205.1L935.5 204.4L932.1 203.8L928.7 203.3L925.3 202.8L921.9 202.3L918.5 201.9L915.1 201.6L911.7 201.5L908.3 201.6L904.9 202.1L901.5 202.7L898.1 203.5L894.7 204.4L891.3 206L887.9 207.7L884.5 209.9L881.1 212.3L877.7 214.9L874.3 217.5L870.9 220.1L867.5 222.8L864.1 225.3L860.7 227.5L857.3 229.5L853.9 231.1L850.5 232.2L847.1 233.2L843.7 234L840.3 234.9L836.9 235.7L833.5 236.6L830.1 237.4L826.7 238.2L823.3 238.9L819.9 239.7L816.5 240.4L813.1 241.2L809.7 241.9L806.3 242.5L802.9 243.2L799.5 243.8L796.1 244.4L792.7 245L789.3 245.5L785.9 246.1L782.5 246.6L779.1 247.2L775.7 247.7L772.3 248.2L768.9 248.6L765.5 249.1L762.1 249.5L758.7 250" stroke="#6ece58"/>
<path d="M758.7 248.8L762.1 247.8L765.5 246.9L768.9 245.9L772.3 245L775.7 244.1L779.1 243.1L782.5 242.2L785.9 241.3L789.3 240.4L792.7 239.6L796.1 238.7L799.5 237.8L802.9 236.9L806.3 236.1L809.7 235.3L813.1 234.5L816.5 233.7L819.9 232.9L823.3 232.2L826.7 231.4L830.1 230.6L833.5 229.8L836.9 229L840.3 228.1L843.7 227.3L847.1 226.5L850.5 225.5L853.9 224.4L857.3 222.7L860.7 220.7L864.1 218.5L867.5 216L870.9 212.9L874.3 209.5L877.7 206.1L881.1 202.6L884.5 199.5L887.9 196.8L891.3 194.7L894.7 193L898.1 192L901.5 191.2L904.9 190.6L908.3 190.1L911.7 189.8L915.1 189.6L918.5 189.3L921.9 189.2L925.3 189L928.7 188.8L932.1 188.6L935.5 188.4L938.9 188.2L942.3 188L945.7 187.8L949.1 187.7L952.5 187.5L955.9 187.3L959.3 187L960.7 187L962 186.9L963.4 186.8L964.8 186.7L966.1 186.6L967.5 186.4L968.9 186.3L970.2 186.2L971.6 186L973 185.9L974.3 185.8L975.7 185.6L977.1 185.5L978.5 185.3L979.8 185.2L981.2 185L982.6 184.9L983.9 184.8L985.3 184.7L986.7 184.5L988 184.4L989.4 184.2L990.8 184.1L992.1 183.9L993.5 183.8L994.9 183.6L996.2 183.5L997.6 183.4L999 183.3L1000.3 183.2L1001.7 183.1L1003.1 183.1L1004.4 183.1L1005.8 183.1L1007.2 183.1L1008.6 183.2L1009.9 183.3L1011.3 183.4L1012.7 183.5L1014 183.6L1015.4 183.7L1016.8 183.9L1018.1 184L1019.5 184.1L1020.9 184.2L1022.2 184.3L1023.6 184.4L1025 184.5L1026.3 184.6L1027.7 184.7L1029.1 184.8L1030.4 185L1031.8 185L1033.2 185.1L1034.5 185.2L1035.9 185.2L1037.3 185.2L1038.7 185L1040 184.8L1041.4 184.5L1042.8 184.1L1044.1 183.6L1045.5 183.1L1046.9 182.4L1048.2 181.3L1049.6 180L1051 178.4L1052.3 176.6L1053.7 173.9L1054.9 170.7L1056.1 167.4L1057.3 164L1058.5 160.4L1059.7 156.6L1060.9 152.5L1062.1 148.1L1063.2 143.7L1064.4 139.5L1065.6 135.2L1066.8 131.1L1068 127.1L1069.2 123.5L1070.4 120.4L1071.6 117.6L1072.8 115L1074 112.4L1075.2 109.7L1076.4 107.2L1077.6 104.9L1078.8 102.7L1080 100.7L1081.1 98.7L1082.3 96.9L1083.5 95.2L1084.7 93.7L1085.9 92.4L1087.1 91.2L1088.3 90L1089.5 89L1090.7 88.2L1091.9 87.7L1093.1 87.3L1094.3 86.9L1095.5 86.7L1096.7 86.5L1097.9 86.6L1099 87L1100.2 87.5L1101.4 88.2L1102.6 88.9L1103.8 89.8L1105 90.9L1106.2 92L1107.4 93.1L1108.6 94.2L1109.8 95.3L1111 96.4L1112.2 97.6L1113.4 98.8L1114.6 100L1115.7 101.2L1116.9 102.4L1118.1 103.6L1119.3 104.8L1120.5 106.1L1121.7 107.3L1122.9 108.5L1124.1 109.7L1125.3 110.8L1126.5 111.8L1127.7 112.8L1128.9 113.8L1130.1 114.7L1131.3 115.5L1132.5 116.3L1133.6 117.1L1134.8 117.7L1136 118.2L1137.2 118.8L1138.4 119.4L1139.6 119.9L1140.8 120.4L1142 120.8L1143.2 121.1L1144.4 121.3L1145.6 121.4L1146.8 121.4L1148 121.3L1149.2 121.3L1150.4 121.2L1151.5 121L1152.7 120.9L1153.9 120.7L1155.1 120.5L1156.3 120L1157.5 119.2L1158.7 118.4L1159.9 117.4L1159.9 118.1L1158.7 136.2L1157.5 148.2L1156.3 155.9L1155.1 162.4L1153.9 167.7L1152.7 171.7L1151.5 174.7L1150.4 176.8L1149.2 178.7L1148 180.3L1146.8 181.7L1145.6 182.9L1144.4 184L1143.2 184.9L1142 185.8L1140.8 186.5L1139.6 187.3L1138.4 187.9L1137.2 188.6L1136 189.1L1134.8 189.7L1133.6 190.2L1132.5 190.6L1131.3 191L1130.1 191.4L1128.9 191.8L1127.7 192.1L1126.5 192.5L1125.3 192.8L1124.1 193.1L1122.9 193.4L1121.7 193.7L1120.5 193.9L1119.3 194.2L1118.1 194.4L1116.9 194.7L1115.7 194.9L1114.6 195.1L1113.4 195.2L1112.2 195.4L1111 195.5L1109.8 195.7L1108.6 195.8L1107.4 195.9L1106.2 195.9L1105 196L1103.8 196.1L1102.6 196.1L1101.4 196.2L1100.2 196.3L1099 196.3L1097.9 196.4L1096.7 196.4L1095.5 196.4L1094.3 196.5L1093.1 196.5L1091.9 196.6L1090.7 196.6L1089.5 196.7L1088.3 196.7L1087.1 196.8L1085.9 196.9L1084.7 196.9L1083.5 197L1082.3 197.1L1081.1 197.2L1080 197.3L1078.8 197.4L1077.6 197.6L1076.4 197.7L1075.2 197.9L1074 198.2L1072.8 198.4L1071.6 198.6L1070.4 198.8L1069.2 199.1L1068 199.3L1066.8 199.6L1065.6 199.9L1064.4 200.1L1063.2 200.5L1062.1 200.8L1060.9 201.1L1059.7 201.5L1058.5 201.9L1057.3 202.3L1056.1 202.8L1054.9 203.4L1053.7 204L1052.3 204.7L1051 205.6L1049.6 206.5L1048.2 207.5L1046.9 208.6L1045.5 209.9L1044.1 211.4L1042.8 213.2L1041.4 215.1L1040 217.3L1038.7 219.9L1037.3 223.1L1035.9 226.6L1034.5 230.3L1033.2 234.2L1031.8 238.5L1030.4 243.3L1029.1 248.9L1027.7 255.4L1026.3 262.8L1025 270.7L1023.6 279.3L1022.2 289.2L1020.9 299.9L1019.5 310.8L1018.1 321.3L1016.8 331.8L1015.4 342.3L1014 353.1L1012.7 364.3L1011.3 376.1L1009.9 390.5L1008.6 404L1007.2 412.4L1005.8 418.4L1004.4 420.9L1003.1 418.1L1001.7 411.9L1000.3 403.2L999 389.4L997.6 373.8L996.2 359.3L994.9 343.8L993.5 328.7L992.1 315.9L990.8 305.7L989.4 296.4L988 288.1L986.7 280.3L985.3 273L983.9 265.8L982.6 258.8L981.2 252.2L979.8 246.3L978.5 241.4L977.1 236.9L975.7 232.9L974.3 229.3L973 226.2L971.6 223.5L970.2 221.1L968.9 219L967.5 217L966.1 215.4L964.8 214.1L963.4 212.9L962 211.9L960.7 211L959.3 210.3L955.9 209.1L952.5 208.3L949.1 207.5L945.7 206.8L942.3 206L938.9 205.3L935.5 204.6L932.1 204L928.7 203.5L925.3 203L921.9 202.5L918.5 202.1L915.1 201.8L911.7 201.7L908.3 201.8L904.9 202.3L901.5 203L898.1 203.8L894.7 204.8L891.3 206.5L887.9 208.4L884.5 210.7L881.1 213.3L877.7 216.1L874.3 218.9L870.9 221.7L867.5 224.5L864.1 227L860.7 229.2L857.3 231.2L853.9 232.8L850.5 234.1L847.1 235.1L843.7 236L840.3 236.9L836.9 237.8L833.5 238.7L830.1 239.5L826.7 240.3L823.3 241.1L819.9 241.9L816.5 242.7L813.1 243.4L809.7 244.1L806.3 244.8L802.9 245.5L799.5 246.1L796.1 246.8L792.7 247.4L789.3 248L785.9 248.6L782.5 249.2L779.1 249.7L775.7 250.3L772.3 250.8L768.9 251.3L765.5 251.8L762.1 252.3L758.7 252.8" stroke="#35b779"/>
<path d="M758.7 250.7L762.1 249.7L765.5 248.7L768.9 247.7L772.3 246.8L775.7 245.8L779.1 244.9L782.5 243.9L785.9 243L789.3 242.1L792.7 241.2L796.1 240.3L799.5 239.4L802.9 238.5L806.3 237.6L809.7 236.8L813.1 236L816.5 235.2L819.9 234.4L823.3 233.6L826.7 232.8L830.1 232L833.5 231.2L836.9 230.3L840.3 229.4L843.7 228.6L847.1 227.7L850.5 226.8L853.9 225.5L857.3 223.9L860.7 221.9L864.1 219.6L867.5 217.1L870.9 214L874.3 210.5L877.7 206.9L881.1 203.3L884.5 200L887.9 197.2L891.3 195L894.7 193.2L898.1 192.1L901.5 191.3L904.9 190.7L908.3 190.2L911.7 189.8L915.1 189.6L918.5 189.3L921.9 189.2L925.3 189L928.7 188.8L932.1 188.6L935.5 188.4L938.9 188.2L942.3 188L945.7 187.8L949.1 187.7L952.5 187.5L955.9 187.3L959.3 187L960.7 187L962 186.9L963.4 186.8L964.8 186.7L966.1 186.6L967.5 186.4L968.9 186.3L970.2 186.2L971.6 186L973 185.9L974.3 185.8L975.7 185.6L977.1 185.5L978.5 185.3L979.8 185.2L981.2 185L982.6 184.9L983.9 184.8L985.3 184.7L986.7 184.5L988 184.4L989.4 184.2L990.8 184.1L992.1 183.9L993.5 183.8L994.9 183.6L996.2 183.5L997.6 183.4L999 183.3L1000.3 183.2L1001.7 183.1L1003.1 183.1L1004.4 183.1L1005.8 183.1L1007.2 183.1L1008.6 183.2L1009.9 183.3L1011.3 183.4L1012.7 183.5L1014 183.6L1015.4 183.7L1016.8 183.9L1018.1 184L1019.5 184.1L1020.9 184.2L1022.2 184.3L1023.6 184.4L1025 184.5L1026.3 184.6L1027.7 184.7L1029.1 184.8L1030.4 185L1031.8 185L1033.2 185.1L1034.5 185.2L1035.9 185.2L1037.3 185.2L1038.7 185L1040 184.8L1041.4 184.5L1042.8 184.1L1044.1 183.6L1045.5 183.1L1046.9 182.4L1048.2 181.3L1049.6 180L1051 178.4L1052.3 176.6L1053.7 173.9L1054.9 170.7L1056.1 167.4L1057.3 164L1058.5 160.4L1059.7 156.6L1060.9 152.5L1062.1 148.1L1063.2 143.7L1064.4 139.5L1065.6 135.2L1066.8 131.1L1068 127.1L1069.2 123.5L1070.4 120.4L1071.6 117.6L1072.8 115L1074 112.4L1075.2 109.7L1076.4 107.2L1077.6 104.9L1078.8 102.7L1080 100.7L1081.1 98.7L1082.3 96.9L1083.5 95.2L1084.7 93.7L1085.9 92.4L1087.1 91.2L1088.3 90L1089.5 89L1090.7 88.2L1091.9 87.7L1093.1 87.3L1094.3 86.9L1095.5 86.7L1096.7 86.5L1097.9 86.6L1099 87L1100.2 87.5L1101.4 88.2L1102.6 88.9L1103.8 89.8L1105 90.9L1106.2 92.1L1107.4 93.2L1108.6 94.3L1109.8 95.4L1111 96.5L1112.2 97.7L1113.4 98.9L1114.6 100.1L1115.7 101.3L1116.9 102.5L1118.1 103.7L1119.3 104.9L1120.5 106.2L1121.7 107.4L1122.9 108.6L1124.1 109.8L1125.3 110.9L1126.5 111.9L1127.7 112.9L1128.9 113.9L1130.1 114.8L1131.3 115.6L1132.5 116.4L1133.6 117.2L1134.8 117.8L1136 118.4L1137.2 118.9L1138.4 119.5L1139.6 120L1140.8 120.5L1142 120.9L1143.2 121.2L1144.4 121.4L1145.6 121.5L1146.8 121.5L1148 121.4L1149.2 121.4L1150.4 121.3L1151.5 121.1L1152.7 121L1153.9 120.8L1155.1 120.6L1156.3 120.1L1157.5 119.4L1158.7 118.5L1159.9 117.5L1159.9 118.1L1158.7 136.2L1157.5 148.2L1156.3 155.9L1155.1 162.4L1153.9 167.7L1152.7 171.7L1151.5 174.7L1150.4 176.8L1149.2 178.7L1148 180.3L1146.8 181.7L1145.6 182.9L1144.4 184L1143.2 184.9L1142 185.8L1140.8 186.5L1139.6 187.3L1138.4 187.9L1137.2 188.6L1136 189.1L1134.8 189.7L1133.6 190.2L1132.5 190.6L1131.3 191L1130.1 191.4L1128.9 191.8L1127.7 192.1L1126.5 192.5L1125.3 192.8L1124.1 193.1L1122.9 193.4L1121.7 193.7L1120.5 193.9L1119.3 194.2L1118.1 194.4L1116.9 194.7L1115.7 194.9L1114.6 195.1L1113.4 195.2L1112.2 195.4L1111 195.5L1109.8 195.7L1108.6 195.8L1107.4 195.9L1106.2 195.9L1105 196L1103.8 196.1L1102.6 196.1L1101.4 196.2L1100.2 196.3L1099 196.3L1097.9 196.4L1096.7 196.4L1095.5 196.4L1094.3 196.5L1093.1 196.5L1091.9 196.6L1090.7 196.6L1089.5 196.7L1088.3 196.7L1087.1 196.8L1085.9 196.9L1084.7 196.9L1083.5 197L1082.3 197.1L1081.1 197.2L1080 197.3L1078.8 197.4L1077.6 197.6L1076.4 197.7L1075.2 197.9L1074 198.2L1072.8 198.4L1071.6 198.6L1070.4 198.8L1069.2 199.1L1068 199.3L1066.8 199.6L1065.6 199.9L1064.4 200.1L1063.2 200.5L1062.1 200.8L1060.9 201.1L1059.7 201.5L1058.5 201.9L1057.3 202.3L1056.1 202.8L1054.9 203.4L1053.7 204L1052.3 204.7L1051 205.6L1049.6 206.5L1048.2 207.5L1046.9 208.6L1045.5 209.9L1044.1 211.4L1042.8 213.2L1041.4 215.1L1040 217.3L1038.7 219.9L1037.3 223.1L1035.9 226.6L1034.5 230.3L1033.2 234.2L1031.8 238.5L1030.4 243.3L1029.1 248.9L1027.7 255.4L1026.3 262.8L1025 270.7L1023.6 279.3L1022.2 289.2L1020.9 299.9L1019.5 310.8L1018.1 321.3L1016.8 331.8L1015.4 342.3L1014 353.1L1012.7 364.3L1011.3 376.1L1009.9 390.5L1008.6 404L1007.2 412.4L1005.8 418.4L1004.4 420.9L1003.1 418.1L1001.7 411.9L1000.3 403.2L999 389.4L997.6 373.8L996.2 359.3L994.9 343.8L993.5 328.7L992.1 315.9L990.8 305.7L989.4 296.4L988 288.1L986.7 280.3L985.3 273L983.9 265.8L982.6 258.8L981.2 252.2L979.8 246.3L978.5 241.4L977.1 236.9L975.7 232.9L974.3 229.3L973 226.2L971.6 223.5L970.2 221.2L968.9 219.1L967.5 217.1L966.1 215.5L964.8 214.2L963.4 213.1L962 212.1L960.7 211.2L959.3 210.4L955.9 209.3L952.5 208.4L949.1 207.7L945.7 207L942.3 206.2L938.9 205.5L935.5 204.8L932.1 204.2L928.7 203.7L925.3 203.2L921.9 202.7L918.5 202.3L915.1 202L911.7 201.8L908.3 202L904.9 202.5L901.5 203.2L898.1 204.1L894.7 205.2L891.3 206.9L887.9 208.9L884.5 211.3L881.1 214L877.7 217L874.3 219.9L870.9 222.8L867.5 225.7L864.1 228.2L860.7 230.4L857.3 232.4L853.9 234.1L850.5 235.4L847.1 236.4L843.7 237.4L840.3 238.3L836.9 239.2L833.5 240.1L830.1 241L826.7 241.8L823.3 242.6L819.9 243.4L816.5 244.2L813.1 245L809.7 245.7L806.3 246.4L802.9 247.1L799.5 247.8L796.1 248.4L792.7 249.1L789.3 249.7L785.9 250.3L782.5 250.9L779.1 251.5L775.7 252.1L772.3 252.7L768.9 253.2L765.5 253.7L762.1 254.2L758.7 254.7" stroke="#1f9e89"/>
<path d="M758.7 251.9L762.1 250.9L765.5 249.9L768.9 248.9L772.3 247.9L775.7 246.9L779.1 246L782.5 245L785.9 244.1L789.3 243.1L792.7 242.2L796.1 241.3L799.5 240.4L802.9 239.5L806.3 238.6L809.7 237.8L813.1 236.9L816.5 236.1L819.9 235.3L823.3 234.5L826.7 233.7L830.1 232.9L833.5 232.1L836.9 231.2L840.3 230.3L843.7 229.4L847.1 228.6L850.5 227.6L853.9 226.3L857.3 224.6L860.7 222.6L864.1 220.4L867.5 217.8L870.9 214.7L874.3 211.1L877.7 207.4L881.1 203.7L884.5 200.4L887.9 197.5L891.3 195.3L894.7 193.4L898.1 192.2L901.5 191.4L904.9 190.7L908.3 190.2L911.7 189.8L915.1 189.6L918.5 189.3L921.9 189.2L925.3 189L928.7 188.8L932.1 188.6L935.5 188.4L938.9 188.2L942.3 188L945.7 187.8L949.1 187.7L952.5 187.5L955.9 187.3L959.3 187L960.7 187L962 186.9L963.4 186.8L964.8 186.7L966.1 186.6L967.5 186.4L968.9 186.3L970.2 186.2L971.6 186L973 185.9L974.3 185.8L975.7 185.6L977.1 185.5L978.5 185.3L979.8 185.2L981.2 185L982.6 184.9L983.9 184.8L985.3 184.7L986.7 184.5L988 184.4L989.4 184.2L990.8 184.1L992.1 183.9L993.5 183.8L994.9 183.6L996.2 183.5L997.6 183.4L999 183.3L1000.3 183.2L1001.7 183.1L1003.1 183.1L1004.4 183.1L1005.8 183.1L1007.2 183.1L1008.6 183.2L1009.9 183.3L1011.3 183.4L1012.7 183.5L1014 183.6L1015.4 183.7L1016.8 183.9L1018.1 184L1019.5 184.1L1020.9 184.2L1022.2 184.3L1023.6 184.4L1025 184.5L1026.3 184.6L1027.7 184.7L1029.1 184.8L1030.4 185L1031.8 185L1033.2 185.1L1034.5 185.2L1035.9 185.2L1037.3 185.2L1038.7 185L1040 184.8L1041.4 184.5L1042.8 184.1L1044.1 183.6L1045.5 183.1L1046.9 182.4L1048.2 181.3L1049.6 180L1051 178.4L1052.3 176.6L1053.7 173.9L1054.9 170.7L1056.1 167.4L1057.3 164L1058.5 160.4L1059.7 156.6L1060.9 152.5L1062.1 148.1L1063.2 143.7L1064.4 139.5L1065.6 135.2L1066.8 131.1L1068 127.1L1069.2 123.5L1070.4 120.4L1071.6 117.6L1072.8 115L1074 112.4L1075.2 109.7L1076.4 107.2L1077.6 104.9L1078.8 102.7L1080 100.7L1081.1 98.7L1082.3 96.9L1083.5 95.2L1084.7 93.7L1085.9 92.4L1087.1 91.2L1088.3 90L1089.5 89L1090.7 88.2L1091.9 87.7L1093.1 87.3L1094.3 86.9L1095.5 86.7L1096.7 86.5L1097.9 86.6L1099 87L1100.2 87.6L1101.4 88.2L1102.6 88.9L1103.8 89.8L1105 91L1106.2 92.1L1107.4 93.2L1108.6 94.4L1109.8 95.5L1111 96.6L1112.2 97.8L1113.4 99L1114.6 100.2L1115.7 101.4L1116.9 102.6L1118.1 103.8L1119.3 105L1120.5 106.3L1121.7 107.5L1122.9 108.8L1124.1 109.9L1125.3 111L1126.5 112L1127.7 113L1128.9 114L1130.1 114.9L1131.3 115.7L1132.5 116.5L1133.6 117.3L1134.8 117.9L1136 118.5L1137.2 119L1138.4 119.6L1139.6 120.1L1140.8 120.6L1142 121L1143.2 121.3L1144.4 121.5L1145.6 121.6L1146.8 121.6L1148 121.5L1149.2 121.5L1150.4 121.4L1151.5 121.2L1152.7 121.1L1153.9 120.9L1155.1 120.7L1156.3 120.2L1157.5 119.5L1158.7 118.6L1159.9 117.6L1159.9 118.1L1158.7 136.2L1157.5 148.2L1156.3 155.9L1155.1 162.4L1153.9 167.7L1152.7 171.7L1151.5 174.7L1150.4 176.8L1149.2 178.7L1148 180.3L1146.8 181.7L1145.6 182.9L1144.4 184L1143.2 184.9L1142 185.8L1140.8 186.5L1139.6 187.3L1138.4 187.9L1137.2 188.6L1136 189.1L1134.8 189.7L1133.6 190.2L1132.5 190.6L1131.3 191L1130.1 191.4L1128.9 191.8L1127.7 192.1L1126.5 192.5L1125.3 192.8L1124.1 193.1L1122.9 193.4L1121.7 193.7L1120.5 193.9L1119.3 194.2L1118.1 194.4L1116.9 194.7L1115.7 194.9L1114.6 195.1L1113.4 195.2L1112.2 195.4L1111 195.5L1109.8 195.7L1108.6 195.8L1107.4 195.9L1106.2 195.9L1105 196L1103.8 196.1L1102.6 196.1L1101.4 196.2L1100.2 196.3L1099 196.3L1097.9 196.4L1096.7 196.4L1095.5 196.4L1094.3 196.5L1093.1 196.5L1091.9 196.6L1090.7 196.6L1089.5 196.7L1088.3 196.7L1087.1 196.8L1085.9 196.9L1084.7 196.9L1083.5 197L1082.3 197.1L1081.1 197.2L1080 197.3L1078.8 197.4L1077.6 197.6L1076.4 197.7L1075.2 197.9L1074 198.2L1072.8 198.4L1071.6 198.6L1070.4 198.8L1069.2 199.1L1068 199.3L1066.8 199.6L1065.6 199.9L1064.4 200.1L1063.2 200.5L1062.1 200.8L1060.9 201.1L1059.7 201.5L1058.5 201.9L1057.3 202.3L1056.1 202.8L1054.9 203.4L1053.7 204L1052.3 204.7L1051 205.6L1049.6 206.5L1048.2 207.5L1046.9 208.6L1045.5 209.9L1044.1 211.4L1042.8 213.2L1041.4 215.1L1040 217.3L1038.7 219.9L1037.3 223.1L1035.9 226.6L1034.5 230.3L1033.2 234.2L1031.8 238.5L1030.4 243.3L1029.1 248.9L1027.7 255.4L1026.3 262.8L1025 270.7L1023.6 279.3L1022.2 289.2L1020.9 299.9L1019.5 310.8L1018.1 321.3L1016.8 331.8L1015.4 342.3L1014 353.1L1012.7 364.3L1011.3 376.1L1009.9 390.5L1008.6 404L1007.2 412.4L1005.8 418.4L1004.4 420.9L1003.1 418.1L1001.7 411.9L1000.3 403.2L999 389.4L997.6 373.8L996.2 359.3L994.9 343.8L993.5 328.7L992.1 315.9L990.8 305.7L989.4 296.4L988 288.1L986.7 280.3L985.3 273L983.9 265.8L982.6 258.8L981.2 252.2L979.8 246.3L978.5 241.4L977.1 236.9L975.7 232.9L974.3 229.4L973 226.3L971.6 223.6L970.2 221.3L968.9 219.2L967.5 217.2L966.1 215.6L964.8 214.3L963.4 213.2L962 212.2L960.7 211.4L959.3 210.6L955.9 209.4L952.5 208.6L949.1 207.9L945.7 207.1L942.3 206.4L938.9 205.6L935.5 205L932.1 204.4L928.7 203.8L925.3 203.4L921.9 202.9L918.5 202.5L915.1 202.1L911.7 202L908.3 202.1L904.9 202.6L901.5 203.4L898.1 204.3L894.7 205.4L891.3 207.2L887.9 209.3L884.5 211.8L881.1 214.6L877.7 217.6L874.3 220.7L870.9 223.7L867.5 226.6L864.1 229.2L860.7 231.4L857.3 233.4L853.9 235L850.5 236.4L847.1 237.5L843.7 238.4L840.3 239.4L836.9 240.3L833.5 241.3L830.1 242.1L826.7 243L823.3 243.8L819.9 244.6L816.5 245.4L813.1 246.2L809.7 246.9L806.3 247.7L802.9 248.4L799.5 249L796.1 249.7L792.7 250.4L789.3 251L785.9 251.7L782.5 252.3L779.1 252.9L775.7 253.5L772.3 254.1L768.9 254.6L765.5 255.2L762.1 255.7L758.7 256.2" stroke="#26828e"/>
<path d="M758.7 252.6L762.1 251.6L765.5 250.6L768.9 249.6L772.3 248.6L775.7 247.6L779.1 246.7L782.5 245.7L785.9 244.8L789.3 243.8L792.7 242.9L796.1 242L799.5 241L802.9 240.1L806.3 239.3L809.7 238.4L813.1 237.6L816.5 236.7L819.9 235.9L823.3 235.1L826.7 234.3L830.1 233.5L833.5 232.7L836.9 231.8L840.3 230.9L843.7 230L847.1 229.1L850.5 228.1L853.9 226.8L857.3 225.1L860.7 223.1L864.1 220.9L867.5 218.3L870.9 215.2L874.3 211.5L877.7 207.8L881.1 204L884.5 200.7L887.9 197.7L891.3 195.4L894.7 193.5L898.1 192.3L901.5 191.4L904.9 190.7L908.3 190.2L911.7 189.8L915.1 189.6L918.5 189.3L921.9 189.2L925.3 189L928.7 188.8L932.1 188.6L935.5 188.4L938.9 188.2L942.3 188L945.7 187.8L949.1 187.7L952.5 187.5L955.9 187.3L959.3 187L960.7 187L962 186.9L963.4 186.8L964.8 186.7L966.1 186.6L967.5 186.4L968.9 186.3L970.2 186.2L971.6 186L973 185.9L974.3 185.8L975.7 185.6L977.1 185.5L978.5 185.3L979.8 185.2L981.2 185L982.6 184.9L983.9 184.8L985.3 184.7L986.7 184.5L988 184.4L989.4 184.2L990.8 184.1L992.1 183.9L993.5 183.8L994.9 183.6L996.2 183.5L997.6 183.4L999 183.3L1000.3 183.2L1001.7 183.1L1003.1 183.1L1004.4 183.1L1005.8 183.1L1007.2 183.1L1008.6 183.2L1009.9 183.3L1011.3 183.4L1012.7 183.5L1014 183.6L1015.4 183.7L1016.8 183.9L1018.1 184L1019.5 184.1L1020.9 184.2L1022.2 184.3L1023.6 184.4L1025 184.5L1026.3 184.6L1027.7 184.7L1029.1 184.8L1030.4 185L1031.8 185L1033.2 185.1L1034.5 185.2L1035.9 185.2L1037.3 185.2L1038.7 185L1040 184.8L1041.4 184.5L1042.8 184.1L1044.1 183.6L1045.5 183.1L1046.9 182.4L1048.2 181.3L1049.6 180L1051 178.4L1052.3 176.6L1053.7 173.9L1054.9 170.7L1056.1 167.4L1057.3 164L1058.5 160.4L1059.7 156.6L1060.9 152.5L1062.1 148.1L1063.2 143.7L1064.4 139.5L1065.6 135.2L1066.8 131.1L1068 127.1L1069.2 123.5L1070.4 120.4L1071.6 117.6L1072.8 115L1074 112.4L1075.2 109.7L1076.4 107.2L1077.6 104.9L1078.8 102.7L1080 100.7L1081.1 98.7L1082.3 96.9L1083.5 95.2L1084.7 93.7L1085.9 92.4L1087.1 91.2L1088.3 90L1089.5 89L1090.7 88.2L1091.9 87.7L1093.1 87.3L1094.3 86.9L1095.5 86.7L1096.7 86.5L1097.9 86.6L1099 87L1100.2 87.6L1101.4 88.3L1102.6 89L1103.8 89.9L1105 91L1106.2 92.2L1107.4 93.3L1108.6 94.4L1109.8 95.6L1111 96.8L1112.2 97.9L1113.4 99.1L1114.6 100.3L1115.7 101.5L1116.9 102.7L1118.1 103.9L1119.3 105.1L1120.5 106.4L1121.7 107.6L1122.9 108.9L1124.1 110L1125.3 111.1L1126.5 112.2L1127.7 113.1L1128.9 114.1L1130.1 115L1131.3 115.9L1132.5 116.7L1133.6 117.4L1134.8 118L1136 118.6L1137.2 119.1L1138.4 119.7L1139.6 120.2L1140.8 120.7L1142 121.1L1143.2 121.4L1144.4 121.6L1145.6 121.7L1146.8 121.7L1148 121.7L1149.2 121.6L1150.4 121.5L1151.5 121.3L1152.7 121.2L1153.9 121L1155.1 120.8L1156.3 120.3L1157.5 119.6L1158.7 118.7L1159.9 117.7L1159.9 118.1L1158.7 136.2L1157.5 148.2L1156.3 155.9L1155.1 162.4L1153.9 167.7L1152.7 171.7L1151.5 174.7L1150.4 176.8L1149.2 178.7L1148 180.3L1146.8 181.7L1145.6 182.9L1144.4 184L1143.2 184.9L1142 185.8L1140.8 186.5L1139.6 187.3L1138.4 187.9L1137.2 188.6L1136 189.1L1134.8 189.7L1133.6 190.2L1132.5 190.6L1131.3 191L1130.1 191.4L1128.9 191.8L1127.7 192.1L1126.5 192.5L1125.3 192.8L1124.1 193.1L1122.9 193.4L1121.7 193.7L1120.5 193.9L1119.3 194.2L1118.1 194.4L1116.9 194.7L1115.7 194.9L1114.6 195.1L1113.4 195.2L1112.2 195.4L1111 195.5L1109.8 195.7L1108.6 195.8L1107.4 195.9L1106.2 195.9L1105 196L1103.8 196.1L1102.6 196.1L1101.4 196.2L1100.2 196.3L1099 196.3L1097.9 196.4L1096.7 196.4L1095.5 196.4L1094.3 196.5L1093.1 196.5L1091.9 196.6L1090.7 196.6L1089.5 196.7L1088.3 196.7L1087.1 196.8L1085.9 196.9L1084.7 196.9L1083.5 197L1082.3 197.1L1081.1 197.2L1080 197.3L1078.8 197.4L1077.6 197.6L1076.4 197.7L1075.2 197.9L1074 198.2L1072.8 198.4L1071.6 198.6L1070.4 198.8L1069.2 199.1L1068 199.3L1066.8 199.6L1065.6 199.9L1064.4 200.1L1063.2 200.5L1062.1 200.8L1060.9 201.1L1059.7 201.5L1058.5 201.9L1057.3 202.3L1056.1 202.8L1054.9 203.4L1053.7 204L1052.3 204.7L1051 205.6L1049.6 206.5L1048.2 207.5L1046.9 208.6L1045.5 209.9L1044.1 211.4L1042.8 213.2L1041.4 215.1L1040 217.3L1038.7 219.9L1037.3 223.1L1035.9 226.6L1034.5 230.3L1033.2 234.2L1031.8 238.5L1030.4 243.3L1029.1 248.9L1027.7 255.4L1026.3 262.8L1025 270.7L1023.6 279.3L1022.2 289.2L1020.9 299.9L1019.5 310.8L1018.1 321.3L1016.8 331.8L1015.4 342.3L1014 353.1L1012.7 364.3L1011.3 376.1L1009.9 390.5L1008.6 404L1007.2 412.4L1005.8 418.4L1004.4 420.9L1003.1 418.1L1001.7 411.9L1000.3 403.2L999 389.4L997.6 373.8L996.2 359.3L994.9 343.8L993.5 328.7L992.1 315.9L990.8 305.7L989.4 296.4L988 288.1L986.7 280.3L985.3 273L983.9 265.8L982.6 258.8L981.2 252.2L979.8 246.3L978.5 241.4L977.1 236.9L975.7 232.9L974.3 229.4L973 226.3L971.6 223.7L970.2 221.4L968.9 219.2L967.5 217.3L966.1 215.7L964.8 214.5L963.4 213.4L962 212.4L960.7 211.5L959.3 210.8L955.9 209.6L952.5 208.8L949.1 208.1L945.7 207.3L942.3 206.5L938.9 205.8L935.5 205.1L932.1 204.5L928.7 204L925.3 203.5L921.9 203L918.5 202.6L915.1 202.3L911.7 202.2L908.3 202.3L904.9 202.8L901.5 203.6L898.1 204.5L894.7 205.7L891.3 207.5L887.9 209.6L884.5 212.2L881.1 215.1L877.7 218.2L874.3 221.4L870.9 224.5L867.5 227.4L864.1 230L860.7 232.2L857.3 234.2L853.9 235.9L850.5 237.2L847.1 238.4L843.7 239.4L840.3 240.3L836.9 241.3L833.5 242.2L830.1 243.1L826.7 244L823.3 244.8L819.9 245.6L816.5 246.4L813.1 247.2L809.7 248L806.3 248.7L802.9 249.4L799.5 250.1L796.1 250.8L792.7 251.5L789.3 252.2L785.9 252.8L782.5 253.5L779.1 254.1L775.7 254.7L772.3 255.3L768.9 255.9L765.5 256.4L762.1 257L758.7 257.5" stroke="#31688e"/>
<path d="M758.7 253.4L762.1 252.4L765.5 251.4L768.9 250.3L772.3 249.3L775.7 248.4L779.1 247.4L782.5 246.4L785.9 245.4L789.3 244.5L792.7 243.6L796.1 242.6L799.5 241.7L802.9 240.8L806.3 239.9L809.7 239L813.1 238.2L816.5 237.4L819.9 236.6L823.3 235.7L826.7 234.9L830.1 234.1L833.5 233.2L836.9 232.4L840.3 231.5L843.7 230.6L847.1 229.6L850.5 228.6L853.9 227.3L857.3 225.6L860.7 223.6L864.1 221.3L867.5 218.8L870.9 215.6L874.3 211.9L877.7 208.1L881.1 204.3L884.5 200.9L887.9 198L891.3 195.6L894.7 193.7L898.1 192.4L901.5 191.5L904.9 190.8L908.3 190.2L911.7 189.8L915.1 189.6L918.5 189.3L921.9 189.2L925.3 189L928.7 188.8L932.1 188.6L935.5 188.4L938.9 188.2L942.3 188L945.7 187.8L949.1 187.7L952.5 187.5L955.9 187.3L959.3 187L960.7 187L962 186.9L963.4 186.8L964.8 186.7L966.1 186.6L967.5 186.4L968.9 186.3L970.2 186.2L971.6 186L973 185.9L974.3 185.8L975.7 185.6L977.1 185.5L978.5 185.3L979.8 185.2L981.2 185L982.6 184.9L983.9 184.8L985.3 184.7L986.7 184.5L988 184.4L989.4 184.2L990.8 184.1L992.1 183.9L993.5 183.8L994.9 183.6L996.2 183.5L997.6 183.4L999 183.3L1000.3 183.2L1001.7 183.1L1003.1 183.1L1004.4 183.1L1005.8 183.1L1007.2 183.1L1008.6 183.2L1009.9 183.3L1011.3 183.4L1012.7 183.5L1014 183.6L1015.4 183.7L1016.8 183.9L1018.1 184L1019.5 184.1L1020.9 184.2L1022.2 184.3L1023.6 184.4L1025 184.5L1026.3 184.6L1027.7 184.7L1029.1 184.8L1030.4 185L1031.8 185L1033.2 185.1L1034.5 185.2L1035.9 185.2L1037.3 185.2L1038.7 185L1040 184.8L1041.4 184.5L1042.8 184.1L1044.1 183.6L1045.5 183.1L1046.9 182.4L1048.2 181.3L1049.6 180L1051 178.4L1052.3 176.6L1053.7 173.9L1054.9 170.7L1056.1 167.4L1057.3 164L1058.5 160.4L1059.7 156.6L1060.9 152.5L1062.1 148.1L1063.2 143.7L1064.4 139.5L1065.6 135.2L1066.8 131.1L1068 127.1L1069.2 123.5L1070.4 120.4L1071.6 117.6L1072.8 115L1074 112.4L1075.2 109.7L1076.4 107.2L1077.6 104.9L1078.8 102.7L1080 100.7L1081.1 98.7L1082.3 96.9L1083.5 95.2L1084.7 93.7L1085.9 92.4L1087.1 91.2L1088.3 90L1089.5 89L1090.7 88.2L1091.9 87.7L1093.1 87.3L1094.3 86.9L1095.5 86.7L1096.7 86.5L1097.9 86.6L1099 87L1100.2 87.6L1101.4 88.3L1102.6 89L1103.8 89.9L1105 91.1L1106.2 92.3L1107.4 93.4L1108.6 94.5L1109.8 95.7L1111 96.9L1112.2 98L1113.4 99.2L1114.6 100.4L1115.7 101.6L1116.9 102.8L1118.1 104L1119.3 105.2L1120.5 106.5L1121.7 107.7L1122.9 109L1124.1 110.1L1125.3 111.2L1126.5 112.3L1127.7 113.2L1128.9 114.2L1130.1 115.1L1131.3 116L1132.5 116.8L1133.6 117.5L1134.8 118.1L1136 118.7L1137.2 119.2L1138.4 119.8L1139.6 120.3L1140.8 120.8L1142 121.2L1143.2 121.5L1144.4 121.7L1145.6 121.8L1146.8 121.8L1148 121.8L1149.2 121.7L1150.4 121.6L1151.5 121.4L1152.7 121.3L1153.9 121.1L1155.1 120.9L1156.3 120.4L1157.5 119.7L1158.7 118.8L1159.9 117.8L1159.9 118.1L1158.7 136.2L1157.5 148.2L1156.3 155.9L1155.1 162.4L1153.9 167.7L1152.7 171.7L1151.5 174.7L1150.4 176.8L1149.2 178.7L1148 180.3L1146.8 181.7L1145.6 182.9L1144.4 184L1143.2 184.9L1142 185.8L1140.8 186.5L1139.6 187.3L1138.4 187.9L1137.2 188.6L1136 189.1L1134.8 189.7L1133.6 190.2L1132.5 190.6L1131.3 191L1130.1 191.4L1128.9 191.8L1127.7 192.1L1126.5 192.5L1125.3 192.8L1124.1 193.1L1122.9 193.4L1121.7 193.7L1120.5 193.9L1119.3 194.2L1118.1 194.4L1116.9 194.7L1115.7 194.9L1114.6 195.1L1113.4 195.2L1112.2 195.4L1111 195.5L1109.8 195.7L1108.6 195.8L1107.4 195.9L1106.2 195.9L1105 196L1103.8 196.1L1102.6 196.1L1101.4 196.2L1100.2 196.3L1099 196.3L1097.9 196.4L1096.7 196.4L1095.5 196.4L1094.3 196.5L1093.1 196.5L1091.9 196.6L1090.7 196.6L1089.5 196.7L1088.3 196.7L1087.1 196.8L1085.9 196.9L1084.7 196.9L1083.5 197L1082.3 197.1L1081.1 197.2L1080 197.3L1078.8 197.4L1077.6 197.6L1076.4 197.7L1075.2 197.9L1074 198.2L1072.8 198.4L1071.6 198.6L1070.4 198.8L1069.2 199.1L1068 199.3L1066.8 199.6L1065.6 199.9L1064.4 200.1L1063.2 200.5L1062.1 200.8L1060.9 201.1L1059.7 201.5L1058.5 201.9L1057.3 202.3L1056.1 202.8L1054.9 203.4L1053.7 204L1052.3 204.7L1051 205.6L1049.6 206.5L1048.2 207.5L1046.9 208.6L1045.5 209.9L1044.1 211.4L1042.8 213.2L1041.4 215.1L1040 217.3L1038.7 219.9L1037.3 223.1L1035.9 226.6L1034.5 230.3L1033.2 234.2L1031.8 238.5L1030.4 243.3L1029.1 248.9L1027.7 255.4L1026.3 262.8L1025 270.7L1023.6 279.3L1022.2 289.2L1020.9 299.9L1019.5 310.8L1018.1 321.3L1016.8 331.8L1015.4 342.3L1014 353.1L1012.7 364.3L1011.3 376.1L1009.9 390.5L1008.6 404L1007.2 412.4L1005.8 418.4L1004.4 420.9L1003.1 418.1L1001.7 411.9L1000.3 403.2L999 389.4L997.6 373.8L996.2 359.3L994.9 343.8L993.5 328.7L992.1 315.9L990.8 305.7L989.4 296.4L988 288.1L986.7 280.3L985.3 273L983.9 265.8L982.6 258.8L981.2 252.2L979.8 246.3L978.5 241.4L977.1 236.9L975.7 232.9L974.3 229.4L973 226.4L971.6 223.7L970.2 221.4L968.9 219.3L967.5 217.4L966.1 215.8L964.8 214.6L963.4 213.5L962 212.5L960.7 211.7L959.3 211L955.9 209.8L952.5 209L949.1 208.2L945.7 207.5L942.3 206.7L938.9 206L935.5 205.3L932.1 204.7L928.7 204.2L925.3 203.7L921.9 203.2L918.5 202.8L915.1 202.5L911.7 202.4L908.3 202.5L904.9 203L901.5 203.8L898.1 204.8L894.7 205.9L891.3 207.8L887.9 210L884.5 212.6L881.1 215.5L877.7 218.8L874.3 222L870.9 225.2L867.5 228.1L864.1 230.6L860.7 232.9L857.3 234.9L853.9 236.6L850.5 238L847.1 239.1L843.7 240.1L840.3 241.1L836.9 242.1L833.5 243L830.1 243.9L826.7 244.8L823.3 245.7L819.9 246.5L816.5 247.3L813.1 248.1L809.7 248.9L806.3 249.6L802.9 250.3L799.5 251L796.1 251.7L792.7 252.4L789.3 253.1L785.9 253.8L782.5 254.4L779.1 255.1L775.7 255.7L772.3 256.3L768.9 256.9L765.5 257.5L762.1 258L758.7 258.6" stroke="#3e4989"/>
<path d="M758.7 254L762.1 252.9L765.5 251.9L768.9 250.9L772.3 249.9L775.7 248.9L779.1 247.9L782.5 246.9L785.9 245.9L789.3 245L792.7 244L796.1 243.1L799.5 242.2L802.9 241.3L806.3 240.4L809.7 239.5L813.1 238.6L816.5 237.8L819.9 237L823.3 236.2L826.7 235.4L830.1 234.5L833.5 233.7L836.9 232.8L840.3 231.9L843.7 231L847.1 230L850.5 229L853.9 227.7L857.3 226L860.7 223.9L864.1 221.7L867.5 219.1L870.9 216L874.3 212.2L877.7 208.4L881.1 204.5L884.5 201.1L887.9 198.2L891.3 195.8L894.7 193.8L898.1 192.5L901.5 191.6L904.9 190.8L908.3 190.2L911.7 189.8L915.1 189.6L918.5 189.3L921.9 189.2L925.3 189L928.7 188.8L932.1 188.6L935.5 188.4L938.9 188.2L942.3 188L945.7 187.8L949.1 187.7L952.5 187.5L955.9 187.3L959.3 187L960.7 187L962 186.9L963.4 186.8L964.8 186.7L966.1 186.6L967.5 186.4L968.9 186.3L970.2 186.2L971.6 186L973 185.9L974.3 185.8L975.7 185.6L977.1 185.5L978.5 185.3L979.8 185.2L981.2 185L982.6 184.9L983.9 184.8L985.3 184.7L986.7 184.5L988 184.4L989.4 184.2L990.8 184.1L992.1 183.9L993.5 183.8L994.9 183.6L996.2 183.5L997.6 183.4L999 183.3L1000.3 183.2L1001.7 183.1L1003.1 183.1L1004.4 183.1L1005.8 183.1L1007.2 183.1L1008.6 183.2L1009.9 183.3L1011.3 183.4L1012.7 183.5L1014 183.6L1015.4 183.7L1016.8 183.9L1018.1 184L1019.5 184.1L1020.9 184.2L1022.2 184.3L1023.6 184.4L1025 184.5L1026.3 184.6L1027.7 184.7L1029.1 184.8L1030.4 185L1031.8 185L1033.2 185.1L1034.5 185.2L1035.9 185.2L1037.3 185.2L1038.7 185L1040 184.8L1041.4 184.5L1042.8 184.1L1044.1 183.6L1045.5 183.1L1046.9 182.4L1048.2 181.3L1049.6 180L1051 178.4L1052.3 176.6L1053.7 173.9L1054.9 170.7L1056.1 167.4L1057.3 164L1058.5 160.4L1059.7 156.6L1060.9 152.5L1062.1 148.1L1063.2 143.7L1064.4 139.5L1065.6 135.2L1066.8 131.1L1068 127.1L1069.2 123.5L1070.4 120.4L1071.6 117.6L1072.8 115L1074 112.4L1075.2 109.7L1076.4 107.2L1077.6 104.9L1078.8 102.7L1080 100.7L1081.1 98.7L1082.3 96.9L1083.5 95.2L1084.7 93.7L1085.9 92.4L1087.1 91.2L1088.3 90L1089.5 89L1090.7 88.2L1091.9 87.7L1093.1 87.3L1094.3 86.9L1095.5 86.7L1096.7 86.5L1097.9 86.6L1099 87L1100.2 87.6L1101.4 88.3L1102.6 89L1103.8 90L1105 91.1L1106.2 92.3L1107.4 93.5L1108.6 94.6L1109.8 95.8L1111 97L1112.2 98.2L1113.4 99.3L1114.6 100.5L1115.7 101.7L1116.9 102.9L1118.1 104.1L1119.3 105.4L1120.5 106.6L1121.7 107.8L1122.9 109.1L1124.1 110.2L1125.3 111.4L1126.5 112.4L1127.7 113.3L1128.9 114.3L1130.1 115.2L1131.3 116.1L1132.5 116.9L1133.6 117.6L1134.8 118.2L1136 118.8L1137.2 119.3L1138.4 119.9L1139.6 120.4L1140.8 120.9L1142 121.3L1143.2 121.6L1144.4 121.8L1145.6 121.9L1146.8 121.9L1148 121.9L1149.2 121.8L1150.4 121.7L1151.5 121.6L1152.7 121.4L1153.9 121.2L1155.1 121L1156.3 120.5L1157.5 119.8L1158.7 118.9L1159.9 118L1159.9 118.1L1158.7 136.2L1157.5 148.2L1156.3 155.9L1155.1 162.4L1153.9 167.7L1152.7 171.7L1151.5 174.7L1150.4 176.8L1149.2 178.7L1148 180.3L1146.8 181.7L1145.6 182.9L1144.4 184L1143.2 184.9L1142 185.8L1140.8 186.5L1139.6 187.3L1138.4 187.9L1137.2 188.6L1136 189.1L1134.8 189.7L1133.6 190.2L1132.5 190.6L1131.3 191L1130.1 191.4L1128.9 191.8L1127.7 192.1L1126.5 192.5L1125.3 192.8L1124.1 193.1L1122.9 193.4L1121.7 193.7L1120.5 193.9L1119.3 194.2L1118.1 194.4L1116.9 194.7L1115.7 194.9L1114.6 195.1L1113.4 195.2L1112.2 195.4L1111 195.5L1109.8 195.7L1108.6 195.8L1107.4 195.9L1106.2 195.9L1105 196L1103.8 196.1L1102.6 196.1L1101.4 196.2L1100.2 196.3L1099 196.3L1097.9 196.4L1096.7 196.4L1095.5 196.4L1094.3 196.5L1093.1 196.5L1091.9 196.6L1090.7 196.6L1089.5 196.7L1088.3 196.7L1087.1 196.8L1085.9 196.9L1084.7 196.9L1083.5 197L1082.3 197.1L1081.1 197.2L1080 197.3L1078.8 197.4L1077.6 197.6L1076.4 197.7L1075.2 197.9L1074 198.2L1072.8 198.4L1071.6 198.6L1070.4 198.8L1069.2 199.1L1068 199.3L1066.8 199.6L1065.6 199.9L1064.4 200.1L1063.2 200.5L1062.1 200.8L1060.9 201.1L1059.7 201.5L1058.5 201.9L1057.3 202.3L1056.1 202.8L1054.9 203.4L1053.7 204L1052.3 204.7L1051 205.6L1049.6 206.5L1048.2 207.5L1046.9 208.6L1045.5 209.9L1044.1 211.4L1042.8 213.2L1041.4 215.1L1040 217.3L1038.7 219.9L1037.3 223.1L1035.9 226.6L1034.5 230.3L1033.2 234.2L1031.8 238.5L1030.4 243.3L1029.1 248.9L1027.7 255.4L1026.3 262.8L1025 270.7L1023.6 279.3L1022.2 289.2L1020.9 299.9L1019.5 310.8L1018.1 321.3L1016.8 331.8L1015.4 342.3L1014 353.1L1012.7 364.3L1011.3 376.1L1009.9 390.5L1008.6 404L1007.2 412.4L1005.8 418.4L1004.4 420.9L1003.1 418.1L1001.7 411.9L1000.3 403.2L999 389.4L997.6 373.8L996.2 359.3L994.9 343.8L993.5 328.7L992.1 315.9L990.8 305.7L989.4 296.4L988 288.1L986.7 280.3L985.3 273L983.9 265.8L982.6 258.8L981.2 252.2L979.8 246.3L978.5 241.4L977.1 236.9L975.7 233L974.3 229.5L973 226.4L971.6 223.8L970.2 221.5L968.9 219.4L967.5 217.5L966.1 216L964.8 214.7L963.4 213.6L962 212.7L960.7 211.8L959.3 211.2L955.9 210L952.5 209.1L949.1 208.4L945.7 207.7L942.3 206.9L938.9 206.2L935.5 205.5L932.1 204.9L928.7 204.4L925.3 203.9L921.9 203.4L918.5 203L915.1 202.7L911.7 202.5L908.3 202.7L904.9 203.2L901.5 204L898.1 205L894.7 206.2L891.3 208.1L887.9 210.3L884.5 212.9L881.1 215.9L877.7 219.2L874.3 222.4L870.9 225.7L867.5 228.6L864.1 231.2L860.7 233.4L857.3 235.4L853.9 237.2L850.5 238.6L847.1 239.7L843.7 240.8L840.3 241.8L836.9 242.8L833.5 243.7L830.1 244.6L826.7 245.5L823.3 246.3L819.9 247.2L816.5 248L813.1 248.8L809.7 249.6L806.3 250.3L802.9 251L799.5 251.8L796.1 252.5L792.7 253.2L789.3 253.9L785.9 254.5L782.5 255.2L779.1 255.8L775.7 256.5L772.3 257.1L768.9 257.7L765.5 258.3L762.1 258.8L758.7 259.4" stroke="#482878"/>
<path d="M758.7 254.3L762.1 253.2L765.5 252.2L768.9 251.2L772.3 250.2L775.7 249.2L779.1 248.2L782.5 247.2L785.9 246.2L789.3 245.3L792.7 244.3L796.1 243.4L799.5 242.5L802.9 241.5L806.3 240.6L809.7 239.8L813.1 238.9L816.5 238.1L819.9 237.3L823.3 236.5L826.7 235.6L830.1 234.8L833.5 233.9L836.9 233L840.3 232.1L843.7 231.2L847.1 230.3L850.5 229.2L853.9 227.9L857.3 226.2L860.7 224.2L864.1 221.9L867.5 219.4L870.9 216.2L874.3 212.4L877.7 208.6L881.1 204.7L884.5 201.3L887.9 198.3L891.3 195.9L894.7 193.9L898.1 192.6L901.5 191.6L904.9 190.8L908.3 190.2L911.7 189.8L915.1 189.6L918.5 189.3L921.9 189.2L925.3 189L928.7 188.8L932.1 188.6L935.5 188.4L938.9 188.2L942.3 188L945.7 187.8L949.1 187.7L952.5 187.5L955.9 187.3L959.3 187L960.7 187L962 186.9L963.4 186.8L964.8 186.7L966.1 186.6L967.5 186.4L968.9 186.3L970.2 186.2L971.6 186L973 185.9L974.3 185.8L975.7 185.6L977.1 185.5L978.5 185.3L979.8 185.2L981.2 185L982.6 184.9L983.9 184.8L985.3 184.7L986.7 184.5L988 184.4L989.4 184.2L990.8 184.1L992.1 183.9L993.5 183.8L994.9 183.6L996.2 183.5L997.6 183.4L999 183.3L1000.3 183.2L1001.7 183.1L1003.1 183.1L1004.4 183.1L1005.8 183.1L1007.2 183.1L1008.6 183.2L1009.9 183.3L1011.3 183.4L1012.7 183.5L1014 183.6L1015.4 183.7L1016.8 183.9L1018.1 184L1019.5 184.1L1020.9 184.2L1022.2 184.3L1023.6 184.4L1025 184.5L1026.3 184.6L1027.7 184.7L1029.1 184.8L1030.4 185L1031.8 185L1033.2 185.1L1034.5 185.2L1035.9 185.2L1037.3 185.2L1038.7 185L1040 184.8L1041.4 184.5L1042.8 184.1L1044.1 183.6L1045.5 183.1L1046.9 182.4L1048.2 181.3L1049.6 180L1051 178.4L1052.3 176.6L1053.7 173.9L1054.9 170.7L1056.1 167.4L1057.3 164L1058.5 160.4L1059.7 156.6L1060.9 152.5L1062.1 148.1L1063.2 143.7L1064.4 139.5L1065.6 135.2L1066.8 131.1L1068 127.1L1069.2 123.5L1070.4 120.4L1071.6 117.6L1072.8 115L1074 112.4L1075.2 109.7L1076.4 107.2L1077.6 104.9L1078.8 102.7L1080 100.7L1081.1 98.7L1082.3 96.9L1083.5 95.2L1084.7 93.7L1085.9 92.4L1087.1 91.2L1088.3 90L1089.5 89L1090.7 88.2L1091.9 87.7L1093.1 87.3L1094.3 86.9L1095.5 86.7L1096.7 86.5L1097.9 86.6L1099 87L1100.2 87.6L1101.4 88.3L1102.6 89.1L1103.8 90L1105 91.2L1106.2 92.4L1107.4 93.6L1108.6 94.7L1109.8 95.9L1111 97.1L1112.2 98.3L1113.4 99.5L1114.6 100.7L1115.7 101.8L1116.9 103L1118.1 104.2L1119.3 105.5L1120.5 106.7L1121.7 108L1122.9 109.2L1124.1 110.4L1125.3 111.5L1126.5 112.5L1127.7 113.4L1128.9 114.4L1130.1 115.3L1131.3 116.2L1132.5 117L1133.6 117.7L1134.8 118.3L1136 118.9L1137.2 119.4L1138.4 120L1139.6 120.5L1140.8 121L1142 121.4L1143.2 121.7L1144.4 121.9L1145.6 122L1146.8 122L1148 122L1149.2 121.9L1150.4 121.8L1151.5 121.7L1152.7 121.5L1153.9 121.3L1155.1 121.1L1156.3 120.6L1157.5 119.9L1158.7 119L1159.9 118.1L1159.9 118.1L1158.7 136.2L1157.5 148.2L1156.3 155.9L1155.1 162.4L1153.9 167.7L1152.7 171.7L1151.5 174.7L1150.4 176.8L1149.2 178.7L1148 180.3L1146.8 181.7L1145.6 182.9L1144.4 184L1143.2 184.9L1142 185.8L1140.8 186.5L1139.6 187.3L1138.4 187.9L1137.2 188.6L1136 189.1L1134.8 189.7L1133.6 190.2L1132.5 190.6L1131.3 191L1130.1 191.4L1128.9 191.8L1127.7 192.1L1126.5 192.5L1125.3 192.8L1124.1 193.1L1122.9 193.4L1121.7 193.7L1120.5 193.9L1119.3 194.2L1118.1 194.4L1116.9 194.7L1115.7 194.9L1114.6 195.1L1113.4 195.2L1112.2 195.4L1111 195.5L1109.8 195.7L1108.6 195.8L1107.4 195.9L1106.2 195.9L1105 196L1103.8 196.1L1102.6 196.1L1101.4 196.2L1100.2 196.3L1099 196.3L1097.9 196.4L1096.7 196.4L1095.5 196.4L1094.3 196.5L1093.1 196.5L1091.9 196.6L1090.7 196.6L1089.5 196.7L1088.3 196.7L1087.1 196.8L1085.9 196.9L1084.7 196.9L1083.5 197L1082.3 197.1L1081.1 197.2L1080 197.3L1078.8 197.4L1077.6 197.6L1076.4 197.7L1075.2 197.9L1074 198.2L1072.8 198.4L1071.6 198.6L1070.4 198.8L1069.2 199.1L1068 199.3L1066.8 199.6L1065.6 199.9L1064.4 200.1L1063.2 200.5L1062.1 200.8L1060.9 201.1L1059.7 201.5L1058.5 201.9L1057.3 202.3L1056.1 202.8L1054.9 203.4L1053.7 204L1052.3 204.7L1051 205.6L1049.6 206.5L1048.2 207.5L1046.9 208.6L1045.5 209.9L1044.1 211.4L1042.8 213.2L1041.4 215.1L1040 217.3L1038.7 219.9L1037.3 223.1L1035.9 226.6L1034.5 230.3L1033.2 234.2L1031.8 238.5L1030.4 243.3L1029.1 248.9L1027.7 255.4L1026.3 262.8L1025 270.7L1023.6 279.3L1022.2 289.2L1020.9 299.9L1019.5 310.8L1018.1 321.3L1016.8 331.8L1015.4 342.3L1014 353.1L1012.7 364.3L1011.3 376.1L1009.9 390.5L1008.6 404L1007.2 412.4L1005.8 418.4L1004.4 420.9L1003.1 418.1L1001.7 411.9L1000.3 403.2L999 389.4L997.6 373.8L996.2 359.3L994.9 343.8L993.5 328.7L992.1 315.9L990.8 305.7L989.4 296.4L988 288.1L986.7 280.3L985.3 273L983.9 265.8L982.6 258.8L981.2 252.2L979.8 246.3L978.5 241.4L977.1 236.9L975.7 233L974.3 229.5L973 226.5L971.6 223.8L970.2 221.6L968.9 219.5L967.5 217.6L966.1 216.1L964.8 214.8L963.4 213.8L962 212.8L960.7 212L959.3 211.3L955.9 210.2L952.5 209.3L949.1 208.6L945.7 207.8L942.3 207.1L938.9 206.3L935.5 205.7L932.1 205.1L928.7 204.6L925.3 204.1L921.9 203.6L918.5 203.2L915.1 202.9L911.7 202.7L908.3 202.8L904.9 203.4L901.5 204.2L898.1 205.2L894.7 206.4L891.3 208.3L887.9 210.5L884.5 213.2L881.1 216.2L877.7 219.5L874.3 222.8L870.9 226.1L867.5 229L864.1 231.6L860.7 233.9L857.3 235.9L853.9 237.6L850.5 239L847.1 240.2L843.7 241.2L840.3 242.3L836.9 243.3L833.5 244.2L830.1 245.1L826.7 246L823.3 246.8L819.9 247.7L816.5 248.5L813.1 249.3L809.7 250.1L806.3 250.9L802.9 251.6L799.5 252.3L796.1 253L792.7 253.7L789.3 254.4L785.9 255.1L782.5 255.8L779.1 256.4L775.7 257.1L772.3 257.7L768.9 258.3L765.5 258.9L762.1 259.5L758.7 260" stroke="#440154"/>
</g>
<path d="M746.9 460.6V468.2M864.9 460.6V468.2M982.9 460.6V468.2M1100.9 460.6V468.2M770.5 460.6V464.9M794.1 460.6V464.9M817.7 460.6V464.9M841.3 460.6V464.9M888.5 460.6V464.9M912.1 460.6V464.9M935.7 460.6V464.9M959.3 460.6V464.9M1006.5 460.6V464.9M1030.1 460.6V464.9M1053.7 460.6V464.9M1077.3 460.6V464.9M1124.5 460.6V464.9M1148.1 460.6V464.9M746.9 460.6H739.3M746.9 372.43H739.3M746.9 284.26H739.3M746.9 196.09H739.3M746.9 107.92H739.3M746.9 19.75H739.3M746.9 438.56H742.6M746.9 416.52H742.6M746.9 394.47H742.6M746.9 350.39H742.6M746.9 328.35H742.6M746.9 306.3H742.6M746.9 262.22H742.6M746.9 240.18H742.6M746.9 218.13H742.6M746.9 174.05H742.6M746.9 152H742.6M746.9 129.96H742.6M746.9 85.88H742.6M746.9 63.84H742.6M746.9 41.79H742.6" stroke="#1c1c1c" stroke-width="1.9" fill="none"/>
<rect x="746.9" y="19.75" width="424.8" height="440.85" fill="none" stroke="#1c1c1c" stroke-width="2.1"/>
<text transform="translate(720.14,501.6) scale(1.0200,1)" font-size="33" font-family="'DejaVu Sans', 'Liberation Sans', sans-serif" font-weight="normal" font-style="normal" fill="#000">0.0</text>
<text transform="translate(838.5,501.6) scale(1.0200,1)" font-size="33" font-family="'DejaVu Sans', 'Liberation Sans', sans-serif" font-weight="normal" font-style="normal" fill="#000">0.5</text>
<text transform="translate(955.4,501.6) scale(1.0200,1)" font-size="33" font-family="'DejaVu Sans', 'Liberation Sans', sans-serif" font-weight="normal" font-style="normal" fill="#000">1.0</text>
<text transform="translate(1073.76,501.6) scale(1.0200,1)" font-size="33" font-family="'DejaVu Sans', 'Liberation Sans', sans-serif" font-weight="normal" font-style="normal" fill="#000">1.5</text>
<text transform="translate(661.95,473.61)" font-size="33" font-family="'DejaVu Sans', 'Liberation Sans', sans-serif" font-weight="normal" font-style="normal" fill="#000">−60</text>
<text transform="translate(661.95,385.44)" font-size="33" font-family="'DejaVu Sans', 'Liberation Sans', sans-serif" font-weight="normal" font-style="normal" fill="#000">−40</text>
<text transform="translate(661.95,297.27)" font-size="33" font-family="'DejaVu Sans', 'Liberation Sans', sans-serif" font-weight="normal" font-style="normal" fill="#000">−20</text>
<text transform="translate(710.6,209.1)" font-size="33" font-family="'DejaVu Sans', 'Liberation Sans', sans-serif" font-weight="normal" font-style="normal" fill="#000">0</text>
<text transform="translate(689.6,120.93)" font-size="33" font-family="'DejaVu Sans', 'Liberation Sans', sans-serif" font-weight="normal" font-style="normal" fill="#000">20</text>
<text transform="translate(689.6,32.76)" font-size="33" font-family="'DejaVu Sans', 'Liberation Sans', sans-serif" font-weight="normal" font-style="normal" fill="#000">40</text>
<linearGradient id="gb" x1="0" y1="0" x2="0" y2="1"><stop offset="0.0000" stop-color="#440154"/><stop offset="0.0213" stop-color="#46085c"/><stop offset="0.0426" stop-color="#471063"/><stop offset="0.0638" stop-color="#48186a"/><stop offset="0.0851" stop-color="#481f70"/><stop offset="0.1064" stop-color="#482677"/><stop offset="0.1277" stop-color="#472d7b"/><stop offset="0.1489" stop-color="#463480"/><stop offset="0.1702" stop-color="#443a83"/><stop offset="0.1915" stop-color="#424186"/><stop offset="0.2128" stop-color="#3f4788"/><stop offset="0.2340" stop-color="#3d4d8a"/><stop offset="0.2553" stop-color="#3a538b"/><stop offset="0.2766" stop-color="#38598c"/><stop offset="0.2979" stop-color="#355f8d"/><stop offset="0.3191" stop-color="#32648e"/><stop offset="0.3404" stop-color="#306a8e"/><stop offset="0.3617" stop-color="#2e6f8e"/><stop offset="0.3830" stop-color="#2b748e"/><stop offset="0.4043" stop-color="#29798e"/><stop offset="0.4255" stop-color="#277e8e"/><stop offset="0.4468" stop-color="#25838e"/><stop offset="0.4681" stop-color="#23888e"/><stop offset="0.4894" stop-color="#218e8d"/><stop offset="0.5106" stop-color="#20928c"/><stop offset="0.5319" stop-color="#1f988b"/><stop offset="0.5532" stop-color="#1e9d89"/><stop offset="0.5745" stop-color="#1fa287"/><stop offset="0.5957" stop-color="#22a785"/><stop offset="0.6170" stop-color="#25ac82"/><stop offset="0.6383" stop-color="#2cb17e"/><stop offset="0.6596" stop-color="#32b67a"/><stop offset="0.6809" stop-color="#3bbb75"/><stop offset="0.7021" stop-color="#44bf70"/><stop offset="0.7234" stop-color="#50c46a"/><stop offset="0.7447" stop-color="#5ac864"/><stop offset="0.7660" stop-color="#67cc5c"/><stop offset="0.7872" stop-color="#73d056"/><stop offset="0.8085" stop-color="#7fd34e"/><stop offset="0.8298" stop-color="#8ed645"/><stop offset="0.8511" stop-color="#9bd93c"/><stop offset="0.8723" stop-color="#aadc32"/><stop offset="0.8936" stop-color="#b8de29"/><stop offset="0.9149" stop-color="#c8e020"/><stop offset="0.9362" stop-color="#d5e21a"/><stop offset="0.9574" stop-color="#e5e419"/><stop offset="0.9787" stop-color="#f1e51d"/><stop offset="1.0000" stop-color="#fde725"/></linearGradient>
<rect x="1197.7" y="19.75" width="22.4" height="440.85" fill="url(#gb)" stroke="#222" stroke-width="1.7"/>
<text transform="translate(1234.2,421.62)" font-size="30" font-family="'DejaVu Sans', 'Liberation Sans', sans-serif" font-weight="normal" font-style="normal" fill="#000">2</text>
<text transform="translate(1234.94,324.42)" font-size="30" font-family="'DejaVu Sans', 'Liberation Sans', sans-serif" font-weight="normal" font-style="normal" fill="#000">4</text>
<text transform="translate(1234.31,227.22)" font-size="30" font-family="'DejaVu Sans', 'Liberation Sans', sans-serif" font-weight="normal" font-style="normal" fill="#000">6</text>
<text transform="translate(1234.36,130.02)" font-size="30" font-family="'DejaVu Sans', 'Liberation Sans', sans-serif" font-weight="normal" font-style="normal" fill="#000">8</text>
<text transform="translate(1234.1,32.82) scale(0.9700,1)" font-size="30" font-family="'DejaVu Sans', 'Liberation Sans', sans-serif" font-weight="normal" font-style="normal" fill="#000">10</text>
<path d="M1220.1 410.3h7.3M1220.1 313.1h7.3M1220.1 215.9h7.3M1220.1 118.7h7.3M1220.1 21.5h7.3" stroke="#1c1c1c" stroke-width="1.9" fill="none"/>
<text transform="translate(1288.6,174.61) rotate(90) scale(0.9922,1)" font-size="34" font-family="'DejaVu Sans', 'Liberation Sans', sans-serif" font-weight="normal" font-style="normal" fill="#000">Cycle #</text>
<text transform="translate(650.87,549.6)" font-size="42.2" font-family="'DejaVu Sans', 'Liberation Sans', sans-serif" font-weight="normal" font-style="italic" fill="#000">E</text>
<text transform="translate(676.89,555.7) scale(0.9797,1)" font-size="29.2" font-family="'DejaVu Sans', 'Liberation Sans', sans-serif" font-weight="normal" font-style="italic" fill="#000">disk</text>
<text transform="translate(741.69,555.7) scale(1.0066,1)" font-size="29.2" font-family="'DejaVu Sans', 'Liberation Sans', sans-serif" font-weight="normal" font-style="normal" fill="#000">+</text>
<text transform="translate(772.47,555.7)" font-size="29.2" font-family="'DejaVu Sans', 'Liberation Sans', sans-serif" font-weight="normal" font-style="italic" fill="#000">ring</text>
<text transform="translate(831.41,555.7)" font-size="29.2" font-family="'DejaVu Sans', 'Liberation Sans', sans-serif" font-weight="normal" font-style="italic" fill="#000">,</text>
<text transform="translate(844.67,555.7) scale(1.0260,1)" font-size="29.2" font-family="'DejaVu Sans', 'Liberation Sans', sans-serif" font-weight="normal" font-style="normal" fill="#000">85%</text>
<text transform="translate(915.69,555.7) scale(0.9874,1)" font-size="29.2" font-family="'DejaVu Sans', 'Liberation Sans', sans-serif" font-weight="normal" font-style="italic" fill="#000">iR</text>
<text transform="translate(949.03,555.7) scale(1.0205,1)" font-size="29.2" font-family="'DejaVu Sans', 'Liberation Sans', sans-serif" font-weight="normal" font-style="italic" fill="#000">comp.</text>
<text transform="translate(1047.16,549.6) scale(1.0030,1)" font-size="42.2" font-family="'DejaVu Sans', 'Liberation Sans', sans-serif" font-weight="normal" font-style="normal" fill="#000">(V vs RHE)</text>
<text transform="translate(638.2,372.68) rotate(-90)" font-size="42.2" font-family="'DejaVu Sans', 'Liberation Sans', sans-serif" font-weight="normal" font-style="italic" fill="#000">i</text>
<text transform="translate(643.6,360.76) rotate(-90) scale(0.9420,1)" font-size="29.2" font-family="'DejaVu Sans', 'Liberation Sans', sans-serif" font-weight="normal" font-style="italic" fill="#000">disk</text>
<text transform="translate(643.6,295.69) rotate(-90) scale(0.9355,1)" font-size="29.2" font-family="'DejaVu Sans', 'Liberation Sans', sans-serif" font-weight="normal" font-style="normal" fill="#000">+</text>
<text transform="translate(643.6,265.05) rotate(-90) scale(1.0199,1)" font-size="29.2" font-family="'DejaVu Sans', 'Liberation Sans', sans-serif" font-weight="normal" font-style="italic" fill="#000">ring</text>
<text transform="translate(638.2,193.03) rotate(-90)" font-size="42.2" font-family="'DejaVu Sans', 'Liberation Sans', sans-serif" font-weight="normal" font-style="normal" fill="#000">(</text>
<text transform="translate(638.2,174.44) rotate(-90)" font-size="42.2" font-family="'DejaVu Sans', 'Liberation Sans', sans-serif" font-weight="normal" font-style="italic" fill="#000">μ</text>
<text transform="translate(638.2,145.37) rotate(-90) scale(0.8121,1)" font-size="42.2" font-family="'DejaVu Sans', 'Liberation Sans', sans-serif" font-weight="normal" font-style="normal" fill="#000">A)</text>
<text transform="translate(616.55,46.8) scale(1.0250,1)" font-size="44" font-family="'Liberation Sans', 'DejaVu Sans', sans-serif" font-weight="bold" font-style="normal" fill="#000">(b)</text>
<text transform="translate(763.22,443)" font-size="31.1" font-family="'Liberation Sans', 'DejaVu Sans', sans-serif" font-weight="bold" font-style="normal" fill="#000">CO</text>
<text transform="translate(810.17,449.9)" font-size="19.8" font-family="'Liberation Sans', 'DejaVu Sans', sans-serif" font-weight="bold" font-style="normal" fill="#000">2</text>
<text transform="translate(827.07,443)" font-size="31.1" font-family="'Liberation Sans', 'DejaVu Sans', sans-serif" font-weight="bold" font-style="normal" fill="#000">blanket</text>
<text transform="translate(765.79,114.1) scale(1.0066,1)" font-size="40" font-family="'Liberation Sans', 'DejaVu Sans', sans-serif" font-weight="normal" font-style="normal" fill="#000">ORR</text>
<text transform="translate(903.42,78.6) scale(1.0012,1)" font-size="40" font-family="'Liberation Sans', 'DejaVu Sans', sans-serif" font-weight="normal" font-style="normal" fill="#000">Au ox.</text>
<text transform="translate(777.92,344) scale(1.0005,1)" font-size="40" font-family="'Liberation Sans', 'DejaVu Sans', sans-serif" font-weight="normal" font-style="normal" fill="#000">Au red.</text>
<text transform="translate(1072.4,306.3) scale(1.0008,1)" font-size="40" font-family="'Liberation Sans', 'DejaVu Sans', sans-serif" font-weight="normal" font-style="normal" fill="#000">OER</text>
<path d="M809.4 129.2L801.81 170.48" stroke="#000" stroke-width="4.6" fill="none"/>
<path d="M797.6 193.4L793.42 166.91L810.93 170.13Z" fill="#000"/>
<path d="M994.5 91L1031.26 115.7" stroke="#000" stroke-width="4.6" fill="none"/>
<path d="M1050.6 128.7L1024.64 121.98L1034.57 107.2Z" fill="#000"/>
<path d="M914.9 328.4L957.4 328.4" stroke="#000" stroke-width="4.6" fill="none"/>
<path d="M980.7 328.4L955.4 337.3L955.4 319.5Z" fill="#000"/>
<path d="M1153.2 260.8L1153.2 218.7" stroke="#000" stroke-width="4.6" fill="none"/>
<path d="M1153.2 195.4L1162.1 220.7L1144.3 220.7Z" fill="#000"/>
<clipPath id="cc"><rect x="1496.9" y="19.75" width="424.8" height="440.85"/></clipPath>
<g clip-path="url(#cc)" fill="none" stroke-width="6.5" stroke-linejoin="round" stroke-linecap="round">
<path d="M1508.7 198.7L1512.1 198.5L1515.5 198.2L1518.9 197.9L1522.3 197.7L1525.7 197.4L1529.1 197.1L1532.5 196.9L1535.9 196.6L1539.3 196.4L1542.7 196.1L1546.1 195.9L1549.5 195.6L1552.9 195.4L1556.3 195.2L1559.7 194.9L1563.1 194.7L1566.5 194.5L1569.9 194.2L1573.3 194L1576.7 193.8L1580.1 193.6L1583.5 193.4L1586.9 193.2L1590.3 193L1593.7 192.8L1597.1 192.6L1600.5 192.3L1603.9 192.1L1607.3 191.8L1610.7 191.5L1614.1 191.1L1617.5 190.8L1620.9 190.4L1624.3 190.1L1627.7 189.8L1631.1 189.5L1634.5 189.3L1637.9 189.1L1641.3 188.9L1644.7 188.7L1648.1 188.6L1651.5 188.4L1654.9 188.3L1658.3 188.2L1661.7 188.1L1665.1 188.1L1668.5 188L1671.9 188L1675.3 188L1678.7 188L1682.1 187.9L1685.5 187.9L1688.9 187.9L1692.3 187.8L1695.7 187.8L1699.1 187.7L1702.5 187.6L1705.9 187.2L1709.3 186.7L1710.7 186.5L1712 186.2L1713.4 186L1714.8 185.7L1716.1 185.4L1717.5 185.1L1718.9 184.8L1720.2 184.5L1721.6 184.2L1723 183.9L1724.3 183.6L1725.7 183.4L1727.1 183.1L1728.5 182.9L1729.8 182.7L1731.2 182.5L1732.6 182.3L1733.9 182.2L1735.3 182.1L1736.7 182L1738 182L1739.4 182L1740.8 182L1742.1 182.1L1743.5 182.2L1744.9 182.3L1746.2 182.4L1747.6 182.5L1749 182.6L1750.3 182.8L1751.7 182.9L1753.1 183.1L1754.4 183.2L1755.8 183.3L1757.2 183.5L1758.6 183.6L1759.9 183.6L1761.3 183.7L1762.7 183.7L1764 183.7L1765.4 183.7L1766.8 183.7L1768.1 183.6L1769.5 183.6L1770.9 183.5L1772.2 183.4L1773.6 183.2L1775 183.1L1776.3 182.9L1777.7 182.8L1779.1 182.6L1780.4 182.4L1781.8 182.2L1783.2 181.9L1784.5 181.7L1785.9 181.5L1787.3 181.2L1788.7 180.9L1790 180.6L1791.4 180.4L1792.8 180.1L1794.1 179.7L1795.5 179.4L1796.9 179.1L1798.2 178.7L1799.6 178.2L1801 177.6L1802.3 177L1803.7 176.3L1804.9 175.7L1806.1 175L1807.3 174.2L1808.5 173.5L1809.7 172.6L1810.9 171.8L1812.1 170.8L1813.2 169.6L1814.4 168.3L1815.6 166.8L1816.8 165.3L1818 163.7L1819.2 162.1L1820.4 160.6L1821.6 159.2L1822.8 157.8L1824 156.4L1825.2 154.9L1826.4 153.2L1827.6 151.2L1828.8 148.7L1830 144.7L1831.1 139.4L1832.3 133.1L1833.5 126.2L1834.7 119.4L1835.9 113L1837.1 107.4L1838.3 103.1L1839.5 100L1840.7 97.4L1841.9 94.8L1843.1 91.7L1844.3 88L1845.5 84.1L1846.7 80.3L1847.9 77.1L1849 74.6L1850.2 72.2L1851.4 70.1L1852.6 68.5L1853.8 67.5L1855 66.6L1856.2 65.9L1857.4 65.4L1858.6 65.2L1859.8 65.5L1861 66L1862.2 66.8L1863.4 67.6L1864.6 68.4L1865.7 69.4L1866.9 70.6L1868.1 71.9L1869.3 73.2L1870.5 74.6L1871.7 75.9L1872.9 77.3L1874.1 78.7L1875.3 80.2L1876.5 81.7L1877.7 83.2L1878.9 84.5L1880.1 85.8L1881.3 87L1882.5 88.2L1883.6 89.4L1884.8 90.6L1886 91.6L1887.2 92.6L1888.4 93.4L1889.6 94.1L1890.8 94.8L1892 95.5L1893.2 96.2L1894.4 96.8L1895.6 97.4L1896.8 97.8L1898 98.1L1899.2 98.2L1900.4 98.2L1901.5 98.2L1902.7 98.2L1903.9 98.1L1905.1 98L1906.3 97.8L1907.5 97.5L1908.7 97.1L1909.9 96.7L1907.9 114.1L1906.7 137.7L1905.5 149.5L1904.3 156.3L1903.1 161.6L1901.9 165.9L1900.7 169.3L1899.5 172L1898.4 174.3L1897.2 176.3L1896 178.2L1894.8 180L1893.7 181.5L1892.5 182.9L1891.4 184.1L1890.3 185.3L1889.1 186.2L1888 187.1L1886.8 187.9L1885.7 188.5L1884.5 189.1L1883.4 189.7L1882.3 190.2L1881.1 190.6L1880 191.1L1878.8 191.4L1877.7 191.8L1876.5 192.1L1875.4 192.4L1874.3 192.7L1873.1 193L1872 193.2L1870.8 193.5L1869.7 193.7L1868.5 194L1867.4 194.2L1866.3 194.4L1865.1 194.6L1864 194.8L1862.8 195L1861.7 195.2L1860.5 195.5L1859.4 195.7L1858.3 195.9L1857.1 196.1L1856 196.3L1854.8 196.4L1853.7 196.6L1852.6 196.8L1851.4 196.9L1850.2 197.1L1849 197.3L1847.9 197.4L1846.7 197.6L1845.5 197.7L1844.3 197.9L1843.1 198L1841.9 198.2L1840.7 198.3L1839.5 198.5L1838.3 198.7L1837.1 198.9L1835.9 199L1834.7 199.2L1833.5 199.4L1832.3 199.6L1831.1 199.9L1830 200.1L1828.8 200.3L1827.6 200.6L1826.4 200.9L1825.2 201.1L1824 201.4L1822.8 201.7L1821.6 202L1820.4 202.4L1819.2 202.7L1818 203L1816.8 203.4L1815.6 203.8L1814.4 204.2L1813.2 204.7L1812.1 205.2L1810.9 205.7L1809.7 206.2L1808.5 206.7L1807.3 207.3L1806.1 208L1804.9 208.6L1803.7 209.3L1802.3 210.3L1801 211.5L1799.6 213L1798.2 214.7L1796.9 216.5L1795.5 218.5L1794.1 220.5L1792.8 222.8L1791.4 225.3L1790 228.1L1788.7 231.2L1787.3 234.5L1785.9 238.2L1784.5 242.4L1783.2 247.2L1781.8 252.5L1780.4 258.3L1779.1 264.6L1777.7 271.2L1776.3 278.6L1775 286.9L1773.6 295.9L1772.2 305.3L1770.9 314.8L1769.5 324.5L1768.1 334.9L1766.8 345.8L1765.4 356.5L1764 366.5L1762.7 375.2L1761.3 383.7L1759.9 391.2L1758.6 396.7L1757.2 400L1755.8 400L1754.4 396.6L1753.1 388.1L1751.7 375.9L1750.3 363.8L1749 350.3L1747.6 336.2L1746.2 322.8L1744.9 310.6L1743.5 298.7L1742.1 287.3L1740.8 276.7L1739.4 266.9L1738 257.3L1736.7 248.8L1735.3 242.5L1733.9 238.4L1732.6 235.2L1731.2 232.5L1729.8 230.1L1728.5 227.7L1727.1 225.4L1725.7 223.2L1724.3 221.2L1723 219.5L1721.6 218L1720.2 216.8L1718.9 215.7L1717.5 214.8L1716.1 213.9L1714.8 213L1713.4 212.3L1712 211.5L1710.7 210.9L1709.3 210.2L1705.9 208.9L1702.5 207.8L1699.1 206.7L1695.7 205.8L1692.3 204.9L1688.9 204L1685.5 203.2L1682.1 202.5L1678.7 201.8L1675.3 201.2L1671.9 200.7L1668.5 200.2L1665.1 199.7L1661.7 199.3L1658.3 199L1654.9 198.9L1651.5 199L1648.1 199.1L1644.7 199.4L1641.3 199.8L1637.9 200.2L1634.5 200.6L1631.1 201.1L1627.7 201.6L1624.3 202.1L1620.9 202.5L1617.5 202.9L1614.1 203.3L1610.7 203.8L1607.3 204.3L1603.9 204.7L1600.5 205.2L1597.1 205.6L1593.7 205.8L1590.3 206L1586.9 206L1583.5 205.9L1580.1 205.8L1576.7 205.6L1573.3 205.4L1569.9 205.2L1566.5 205L1563.1 204.8L1559.7 204.6L1556.3 204.4L1552.9 204.3L1549.5 204.2L1546.1 204.2L1542.7 204.2L1539.3 204.3L1535.9 204.3L1532.5 204.4L1529.1 204.5L1525.7 204.6L1522.3 204.7L1518.9 204.9L1515.5 205.1L1512.1 205.3L1508.7 205.5" stroke="#fde725"/>
<path d="M1508.7 203.2L1512.1 202.8L1515.5 202.4L1518.9 202L1522.3 201.6L1525.7 201.3L1529.1 200.9L1532.5 200.5L1535.9 200.1L1539.3 199.8L1542.7 199.4L1546.1 199.1L1549.5 198.7L1552.9 198.3L1556.3 198L1559.7 197.7L1563.1 197.3L1566.5 197L1569.9 196.6L1573.3 196.3L1576.7 196L1580.1 195.7L1583.5 195.4L1586.9 195.1L1590.3 194.8L1593.7 194.5L1597.1 194.2L1600.5 193.8L1603.9 193.4L1607.3 192.9L1610.7 192.3L1614.1 191.6L1617.5 190.9L1620.9 190.2L1624.3 189.5L1627.7 189L1631.1 188.7L1634.5 188.5L1637.9 188.3L1641.3 188.3L1644.7 188.3L1648.1 188.3L1651.5 188.3L1654.9 188.4L1658.3 188.5L1661.7 188.6L1665.1 188.6L1668.5 188.7L1671.9 188.8L1675.3 188.9L1678.7 189L1682.1 189.1L1685.5 189.2L1688.9 189.3L1692.3 189.4L1695.7 189.5L1699.1 189.5L1702.5 189.4L1705.9 189L1709.3 188.5L1710.7 188.2L1712 187.9L1713.4 187.6L1714.8 187.3L1716.1 186.9L1717.5 186.6L1718.9 186.2L1720.2 185.9L1721.6 185.5L1723 185.2L1724.3 184.8L1725.7 184.5L1727.1 184.2L1728.5 183.9L1729.8 183.7L1731.2 183.5L1732.6 183.3L1733.9 183.1L1735.3 183L1736.7 182.9L1738 182.9L1739.4 182.9L1740.8 182.9L1742.1 183.1L1743.5 183.2L1744.9 183.4L1746.2 183.6L1747.6 183.8L1749 184L1750.3 184.3L1751.7 184.5L1753.1 184.8L1754.4 185L1755.8 185.2L1757.2 185.4L1758.6 185.6L1759.9 185.8L1761.3 185.9L1762.7 185.9L1764 186L1765.4 185.9L1766.8 185.9L1768.1 185.9L1769.5 185.8L1770.9 185.7L1772.2 185.6L1773.6 185.5L1775 185.3L1776.3 185.2L1777.7 185L1779.1 184.8L1780.4 184.6L1781.8 184.4L1783.2 184.1L1784.5 183.9L1785.9 183.6L1787.3 183.3L1788.7 183L1790 182.7L1791.4 182.3L1792.8 182L1794.1 181.6L1795.5 181.2L1796.9 180.8L1798.2 180L1799.6 179L1801 177.8L1802.3 176.4L1803.7 174.8L1804.9 173.3L1806.1 171.8L1807.3 170.2L1808.5 168.6L1809.7 166.8L1810.9 164.8L1812.1 162.4L1813.2 159.9L1814.4 157.3L1815.6 154.6L1816.8 151.8L1818 149L1819.2 146.1L1820.4 143L1821.6 139.8L1822.8 136.5L1824 133.1L1825.2 129.8L1826.4 126.5L1827.6 123.3L1828.8 120.2L1830 116.9L1831.1 113.6L1832.3 110.3L1833.5 107.4L1834.7 104.8L1835.9 102.9L1837.1 101.1L1838.3 99.5L1839.5 98L1840.7 96.8L1841.9 96L1843.1 95.4L1844.3 94.9L1845.5 94.5L1846.7 94.2L1847.9 93.9L1849 93.7L1850.2 93.5L1851.4 93.5L1852.6 93.8L1853.8 94.3L1855 94.9L1856.2 95.6L1857.4 96.2L1858.6 96.8L1859.8 97.5L1861 98.3L1862.2 99.1L1863.4 99.9L1864.6 100.8L1865.7 101.6L1866.9 102.5L1868.1 103.4L1869.3 104.2L1870.5 105L1871.7 105.8L1872.9 106.6L1874.1 107.3L1875.3 108L1876.5 108.7L1877.7 109.4L1878.9 110.1L1880.1 110.7L1881.3 111.3L1882.5 111.9L1883.6 112.5L1884.8 113.1L1886 113.6L1887.2 114.1L1888.4 114.5L1889.6 114.8L1890.8 115.1L1892 115.5L1893.2 115.8L1894.4 116.1L1895.6 116.4L1896.8 116.6L1898 116.7L1899.2 116.8L1900.4 116.7L1901.5 116.6L1902.7 116.4L1903.9 116.1L1905.1 115.6L1906.3 115.1L1907.5 114.6L1908.7 113.9L1909.9 113.2L1909.9 114.1L1908.7 137.7L1907.5 149.5L1906.3 156.3L1905.1 161.6L1903.9 165.9L1902.7 169.3L1901.5 172L1900.4 174.3L1899.2 176.3L1898 178.2L1896.8 180L1895.6 181.5L1894.4 182.9L1893.2 184.1L1892 185.3L1890.8 186.2L1889.6 187.1L1888.4 187.9L1887.2 188.5L1886 189.1L1884.8 189.7L1883.6 190.2L1882.5 190.6L1881.3 191.1L1880.1 191.4L1878.9 191.8L1877.7 192.1L1876.5 192.4L1875.3 192.7L1874.1 193L1872.9 193.2L1871.7 193.5L1870.5 193.7L1869.3 194L1868.1 194.2L1866.9 194.4L1865.7 194.6L1864.6 194.8L1863.4 195L1862.2 195.2L1861 195.5L1859.8 195.7L1858.6 195.9L1857.4 196.1L1856.2 196.3L1855 196.4L1853.8 196.6L1852.6 196.8L1851.4 196.9L1850.2 197.1L1849 197.3L1847.9 197.4L1846.7 197.6L1845.5 197.7L1844.3 197.9L1843.1 198L1841.9 198.2L1840.7 198.3L1839.5 198.5L1838.3 198.7L1837.1 198.9L1835.9 199L1834.7 199.2L1833.5 199.4L1832.3 199.6L1831.1 199.9L1830 200.1L1828.8 200.3L1827.6 200.6L1826.4 200.9L1825.2 201.1L1824 201.4L1822.8 201.7L1821.6 202L1820.4 202.4L1819.2 202.7L1818 203L1816.8 203.4L1815.6 203.8L1814.4 204.2L1813.2 204.7L1812.1 205.2L1810.9 205.7L1809.7 206.2L1808.5 206.7L1807.3 207.3L1806.1 208L1804.9 208.6L1803.7 209.3L1802.3 210.3L1801 211.5L1799.6 213L1798.2 214.7L1796.9 216.5L1795.5 218.5L1794.1 220.5L1792.8 222.8L1791.4 225.3L1790 228.1L1788.7 231.2L1787.3 234.5L1785.9 238.2L1784.5 242.4L1783.2 247.2L1781.8 252.5L1780.4 258.3L1779.1 264.6L1777.7 271.2L1776.3 278.6L1775 286.9L1773.6 295.9L1772.2 305.3L1770.9 314.8L1769.5 324.5L1768.1 334.9L1766.8 345.8L1765.4 356.5L1764 366.5L1762.7 375.2L1761.3 383.7L1759.9 391.2L1758.6 396.7L1757.2 400L1755.8 400L1754.4 396.6L1753.1 388.1L1751.7 375.9L1750.3 363.8L1749 350.3L1747.6 336.2L1746.2 322.8L1744.9 310.6L1743.5 298.7L1742.1 287.3L1740.8 276.7L1739.4 266.9L1738 257.3L1736.7 248.8L1735.3 242.5L1733.9 238.4L1732.6 235.2L1731.2 232.5L1729.8 230.1L1728.5 227.7L1727.1 225.4L1725.7 223.2L1724.3 221.3L1723 219.5L1721.6 218.1L1720.2 216.9L1718.9 215.8L1717.5 214.9L1716.1 214L1714.8 213.2L1713.4 212.4L1712 211.7L1710.7 211L1709.3 210.4L1705.9 209.1L1702.5 207.9L1699.1 206.9L1695.7 206L1692.3 205.1L1688.9 204.2L1685.5 203.4L1682.1 202.6L1678.7 202L1675.3 201.4L1671.9 200.9L1668.5 200.4L1665.1 199.9L1661.7 199.5L1658.3 199.2L1654.9 199.1L1651.5 199.1L1648.1 199.3L1644.7 199.6L1641.3 199.9L1637.9 200.4L1634.5 200.8L1631.1 201.3L1627.7 201.8L1624.3 202.2L1620.9 202.7L1617.5 203.1L1614.1 203.5L1610.7 204L1607.3 204.4L1603.9 204.9L1600.5 205.4L1597.1 205.7L1593.7 206L1590.3 206.1L1586.9 206.1L1583.5 206.1L1580.1 205.9L1576.7 205.8L1573.3 205.6L1569.9 205.4L1566.5 205.2L1563.1 205L1559.7 204.8L1556.3 204.6L1552.9 204.5L1549.5 204.4L1546.1 204.4L1542.7 204.4L1539.3 204.4L1535.9 204.5L1532.5 204.6L1529.1 204.7L1525.7 204.8L1522.3 204.9L1518.9 205.1L1515.5 205.3L1512.1 205.5L1508.7 205.7" stroke="#b5de2b"/>
<path d="M1508.7 203.3L1512.1 202.9L1515.5 202.5L1518.9 202.1L1522.3 201.7L1525.7 201.4L1529.1 201L1532.5 200.6L1535.9 200.2L1539.3 199.9L1542.7 199.5L1546.1 199.2L1549.5 198.8L1552.9 198.5L1556.3 198.1L1559.7 197.8L1563.1 197.4L1566.5 197.1L1569.9 196.7L1573.3 196.4L1576.7 196.1L1580.1 195.8L1583.5 195.5L1586.9 195.2L1590.3 194.9L1593.7 194.6L1597.1 194.3L1600.5 193.9L1603.9 193.5L1607.3 193L1610.7 192.4L1614.1 191.7L1617.5 191L1620.9 190.3L1624.3 189.6L1627.7 189.1L1631.1 188.8L1634.5 188.6L1637.9 188.4L1641.3 188.4L1644.7 188.4L1648.1 188.3L1651.5 188.4L1654.9 188.4L1658.3 188.5L1661.7 188.6L1665.1 188.6L1668.5 188.7L1671.9 188.8L1675.3 188.9L1678.7 189L1682.1 189.1L1685.5 189.2L1688.9 189.3L1692.3 189.4L1695.7 189.5L1699.1 189.5L1702.5 189.4L1705.9 189L1709.3 188.5L1710.7 188.2L1712 187.9L1713.4 187.6L1714.8 187.3L1716.1 186.9L1717.5 186.6L1718.9 186.2L1720.2 185.9L1721.6 185.5L1723 185.2L1724.3 184.8L1725.7 184.5L1727.1 184.2L1728.5 183.9L1729.8 183.7L1731.2 183.5L1732.6 183.3L1733.9 183.1L1735.3 183L1736.7 182.9L1738 182.9L1739.4 182.9L1740.8 182.9L1742.1 183.1L1743.5 183.2L1744.9 183.4L1746.2 183.6L1747.6 183.8L1749 184L1750.3 184.3L1751.7 184.5L1753.1 184.8L1754.4 185L1755.8 185.2L1757.2 185.4L1758.6 185.6L1759.9 185.8L1761.3 185.9L1762.7 185.9L1764 186L1765.4 185.9L1766.8 185.9L1768.1 185.9L1769.5 185.8L1770.9 185.7L1772.2 185.6L1773.6 185.5L1775 185.3L1776.3 185.2L1777.7 185L1779.1 184.8L1780.4 184.6L1781.8 184.4L1783.2 184.1L1784.5 183.9L1785.9 183.6L1787.3 183.3L1788.7 183L1790 182.7L1791.4 182.3L1792.8 182L1794.1 181.6L1795.5 181.2L1796.9 180.8L1798.2 180L1799.6 179L1801 177.8L1802.3 176.4L1803.7 174.8L1804.9 173.3L1806.1 171.8L1807.3 170.2L1808.5 168.6L1809.7 166.8L1810.9 164.8L1812.1 162.4L1813.2 159.9L1814.4 157.3L1815.6 154.6L1816.8 151.8L1818 149L1819.2 146.1L1820.4 143L1821.6 139.8L1822.8 136.5L1824 133.1L1825.2 129.8L1826.4 126.5L1827.6 123.3L1828.8 120.2L1830 116.9L1831.1 113.6L1832.3 110.3L1833.5 107.4L1834.7 104.8L1835.9 102.9L1837.1 101.1L1838.3 99.5L1839.5 98L1840.7 96.8L1841.9 96L1843.1 95.4L1844.3 94.9L1845.5 94.5L1846.7 94.2L1847.9 93.9L1849 93.7L1850.2 93.5L1851.4 93.5L1852.6 93.8L1853.8 94.4L1855 95L1856.2 95.6L1857.4 96.2L1858.6 96.9L1859.8 97.6L1861 98.4L1862.2 99.2L1863.4 100L1864.6 100.9L1865.7 101.7L1866.9 102.6L1868.1 103.5L1869.3 104.3L1870.5 105.1L1871.7 105.9L1872.9 106.7L1874.1 107.4L1875.3 108.1L1876.5 108.8L1877.7 109.5L1878.9 110.2L1880.1 110.8L1881.3 111.4L1882.5 112L1883.6 112.6L1884.8 113.2L1886 113.7L1887.2 114.2L1888.4 114.6L1889.6 114.9L1890.8 115.3L1892 115.6L1893.2 115.9L1894.4 116.2L1895.6 116.5L1896.8 116.7L1898 116.8L1899.2 116.9L1900.4 116.9L1901.5 116.7L1902.7 116.5L1903.9 116.2L1905.1 115.7L1906.3 115.3L1907.5 114.7L1908.7 114L1909.9 113.4L1909.9 114.1L1908.7 137.7L1907.5 149.5L1906.3 156.3L1905.1 161.6L1903.9 165.9L1902.7 169.3L1901.5 172L1900.4 174.3L1899.2 176.3L1898 178.2L1896.8 180L1895.6 181.5L1894.4 182.9L1893.2 184.1L1892 185.3L1890.8 186.2L1889.6 187.1L1888.4 187.9L1887.2 188.5L1886 189.1L1884.8 189.7L1883.6 190.2L1882.5 190.6L1881.3 191.1L1880.1 191.4L1878.9 191.8L1877.7 192.1L1876.5 192.4L1875.3 192.7L1874.1 193L1872.9 193.2L1871.7 193.5L1870.5 193.7L1869.3 194L1868.1 194.2L1866.9 194.4L1865.7 194.6L1864.6 194.8L1863.4 195L1862.2 195.2L1861 195.5L1859.8 195.7L1858.6 195.9L1857.4 196.1L1856.2 196.3L1855 196.4L1853.8 196.6L1852.6 196.8L1851.4 196.9L1850.2 197.1L1849 197.3L1847.9 197.4L1846.7 197.6L1845.5 197.7L1844.3 197.9L1843.1 198L1841.9 198.2L1840.7 198.3L1839.5 198.5L1838.3 198.7L1837.1 198.9L1835.9 199L1834.7 199.2L1833.5 199.4L1832.3 199.6L1831.1 199.9L1830 200.1L1828.8 200.3L1827.6 200.6L1826.4 200.9L1825.2 201.1L1824 201.4L1822.8 201.7L1821.6 202L1820.4 202.4L1819.2 202.7L1818 203L1816.8 203.4L1815.6 203.8L1814.4 204.2L1813.2 204.7L1812.1 205.2L1810.9 205.7L1809.7 206.2L1808.5 206.7L1807.3 207.3L1806.1 208L1804.9 208.6L1803.7 209.3L1802.3 210.3L1801 211.5L1799.6 213L1798.2 214.7L1796.9 216.5L1795.5 218.5L1794.1 220.5L1792.8 222.8L1791.4 225.3L1790 228.1L1788.7 231.2L1787.3 234.5L1785.9 238.2L1784.5 242.4L1783.2 247.2L1781.8 252.5L1780.4 258.3L1779.1 264.6L1777.7 271.2L1776.3 278.6L1775 286.9L1773.6 295.9L1772.2 305.3L1770.9 314.8L1769.5 324.5L1768.1 334.9L1766.8 345.8L1765.4 356.5L1764 366.5L1762.7 375.2L1761.3 383.7L1759.9 391.2L1758.6 396.7L1757.2 400L1755.8 400L1754.4 396.6L1753.1 388.1L1751.7 375.9L1750.3 363.8L1749 350.3L1747.6 336.2L1746.2 322.8L1744.9 310.6L1743.5 298.7L1742.1 287.3L1740.8 276.7L1739.4 266.9L1738 257.3L1736.7 248.8L1735.3 242.5L1733.9 238.4L1732.6 235.2L1731.2 232.5L1729.8 230.1L1728.5 227.7L1727.1 225.4L1725.7 223.2L1724.3 221.3L1723 219.6L1721.6 218.1L1720.2 217L1718.9 215.9L1717.5 215L1716.1 214.1L1714.8 213.3L1713.4 212.5L1712 211.9L1710.7 211.2L1709.3 210.5L1705.9 209.3L1702.5 208.1L1699.1 207.1L1695.7 206.2L1692.3 205.3L1688.9 204.4L1685.5 203.6L1682.1 202.8L1678.7 202.2L1675.3 201.6L1671.9 201.1L1668.5 200.5L1665.1 200.1L1661.7 199.6L1658.3 199.4L1654.9 199.3L1651.5 199.3L1648.1 199.5L1644.7 199.8L1641.3 200.1L1637.9 200.5L1634.5 201L1631.1 201.5L1627.7 202L1624.3 202.4L1620.9 202.9L1617.5 203.3L1614.1 203.7L1610.7 204.1L1607.3 204.6L1603.9 205.1L1600.5 205.5L1597.1 205.9L1593.7 206.2L1590.3 206.3L1586.9 206.3L1583.5 206.2L1580.1 206.1L1576.7 206L1573.3 205.8L1569.9 205.6L1566.5 205.3L1563.1 205.1L1559.7 204.9L1556.3 204.8L1552.9 204.7L1549.5 204.6L1546.1 204.6L1542.7 204.6L1539.3 204.6L1535.9 204.7L1532.5 204.7L1529.1 204.8L1525.7 205L1522.3 205.1L1518.9 205.3L1515.5 205.4L1512.1 205.6L1508.7 205.9" stroke="#6ece58"/>
<path d="M1508.7 203.4L1512.1 203L1515.5 202.6L1518.9 202.2L1522.3 201.8L1525.7 201.5L1529.1 201.1L1532.5 200.7L1535.9 200.4L1539.3 200L1542.7 199.6L1546.1 199.3L1549.5 198.9L1552.9 198.6L1556.3 198.2L1559.7 197.9L1563.1 197.5L1566.5 197.2L1569.9 196.8L1573.3 196.5L1576.7 196.2L1580.1 195.9L1583.5 195.6L1586.9 195.3L1590.3 195L1593.7 194.7L1597.1 194.4L1600.5 194L1603.9 193.7L1607.3 193.1L1610.7 192.5L1614.1 191.8L1617.5 191.1L1620.9 190.4L1624.3 189.7L1627.7 189.2L1631.1 188.9L1634.5 188.7L1637.9 188.5L1641.3 188.5L1644.7 188.4L1648.1 188.4L1651.5 188.4L1654.9 188.4L1658.3 188.5L1661.7 188.6L1665.1 188.6L1668.5 188.7L1671.9 188.8L1675.3 188.9L1678.7 189L1682.1 189.1L1685.5 189.2L1688.9 189.3L1692.3 189.4L1695.7 189.5L1699.1 189.5L1702.5 189.4L1705.9 189L1709.3 188.5L1710.7 188.2L1712 187.9L1713.4 187.6L1714.8 187.3L1716.1 186.9L1717.5 186.6L1718.9 186.2L1720.2 185.9L1721.6 185.5L1723 185.2L1724.3 184.8L1725.7 184.5L1727.1 184.2L1728.5 183.9L1729.8 183.7L1731.2 183.5L1732.6 183.3L1733.9 183.1L1735.3 183L1736.7 182.9L1738 182.9L1739.4 182.9L1740.8 182.9L1742.1 183.1L1743.5 183.2L1744.9 183.4L1746.2 183.6L1747.6 183.8L1749 184L1750.3 184.3L1751.7 184.5L1753.1 184.8L1754.4 185L1755.8 185.2L1757.2 185.4L1758.6 185.6L1759.9 185.8L1761.3 185.9L1762.7 185.9L1764 186L1765.4 185.9L1766.8 185.9L1768.1 185.9L1769.5 185.8L1770.9 185.7L1772.2 185.6L1773.6 185.5L1775 185.3L1776.3 185.2L1777.7 185L1779.1 184.8L1780.4 184.6L1781.8 184.4L1783.2 184.1L1784.5 183.9L1785.9 183.6L1787.3 183.3L1788.7 183L1790 182.7L1791.4 182.3L1792.8 182L1794.1 181.6L1795.5 181.2L1796.9 180.8L1798.2 180L1799.6 179L1801 177.8L1802.3 176.4L1803.7 174.8L1804.9 173.3L1806.1 171.8L1807.3 170.2L1808.5 168.6L1809.7 166.8L1810.9 164.8L1812.1 162.4L1813.2 159.9L1814.4 157.3L1815.6 154.6L1816.8 151.8L1818 149L1819.2 146.1L1820.4 143L1821.6 139.8L1822.8 136.5L1824 133.1L1825.2 129.8L1826.4 126.5L1827.6 123.3L1828.8 120.2L1830 116.9L1831.1 113.6L1832.3 110.3L1833.5 107.4L1834.7 104.8L1835.9 102.9L1837.1 101.1L1838.3 99.5L1839.5 98L1840.7 96.8L1841.9 96L1843.1 95.4L1844.3 94.9L1845.5 94.5L1846.7 94.2L1847.9 93.9L1849 93.7L1850.2 93.6L1851.4 93.6L1852.6 93.9L1853.8 94.4L1855 95.1L1856.2 95.7L1857.4 96.3L1858.6 97L1859.8 97.7L1861 98.5L1862.2 99.3L1863.4 100.1L1864.6 101L1865.7 101.9L1866.9 102.7L1868.1 103.6L1869.3 104.4L1870.5 105.2L1871.7 106L1872.9 106.8L1874.1 107.5L1875.3 108.2L1876.5 108.9L1877.7 109.6L1878.9 110.3L1880.1 110.9L1881.3 111.5L1882.5 112.1L1883.6 112.7L1884.8 113.3L1886 113.8L1887.2 114.3L1888.4 114.7L1889.6 115L1890.8 115.4L1892 115.7L1893.2 116L1894.4 116.3L1895.6 116.6L1896.8 116.8L1898 116.9L1899.2 117L1900.4 117L1901.5 116.8L1902.7 116.6L1903.9 116.3L1905.1 115.9L1906.3 115.4L1907.5 114.8L1908.7 114.2L1909.9 113.5L1909.9 114.1L1908.7 137.7L1907.5 149.5L1906.3 156.3L1905.1 161.6L1903.9 165.9L1902.7 169.3L1901.5 172L1900.4 174.3L1899.2 176.3L1898 178.2L1896.8 180L1895.6 181.5L1894.4 182.9L1893.2 184.1L1892 185.3L1890.8 186.2L1889.6 187.1L1888.4 187.9L1887.2 188.5L1886 189.1L1884.8 189.7L1883.6 190.2L1882.5 190.6L1881.3 191.1L1880.1 191.4L1878.9 191.8L1877.7 192.1L1876.5 192.4L1875.3 192.7L1874.1 193L1872.9 193.2L1871.7 193.5L1870.5 193.7L1869.3 194L1868.1 194.2L1866.9 194.4L1865.7 194.6L1864.6 194.8L1863.4 195L1862.2 195.2L1861 195.5L1859.8 195.7L1858.6 195.9L1857.4 196.1L1856.2 196.3L1855 196.4L1853.8 196.6L1852.6 196.8L1851.4 196.9L1850.2 197.1L1849 197.3L1847.9 197.4L1846.7 197.6L1845.5 197.7L1844.3 197.9L1843.1 198L1841.9 198.2L1840.7 198.3L1839.5 198.5L1838.3 198.7L1837.1 198.9L1835.9 199L1834.7 199.2L1833.5 199.4L1832.3 199.6L1831.1 199.9L1830 200.1L1828.8 200.3L1827.6 200.6L1826.4 200.9L1825.2 201.1L1824 201.4L1822.8 201.7L1821.6 202L1820.4 202.4L1819.2 202.7L1818 203L1816.8 203.4L1815.6 203.8L1814.4 204.2L1813.2 204.7L1812.1 205.2L1810.9 205.7L1809.7 206.2L1808.5 206.7L1807.3 207.3L1806.1 208L1804.9 208.6L1803.7 209.3L1802.3 210.3L1801 211.5L1799.6 213L1798.2 214.7L1796.9 216.5L1795.5 218.5L1794.1 220.5L1792.8 222.8L1791.4 225.3L1790 228.1L1788.7 231.2L1787.3 234.5L1785.9 238.2L1784.5 242.4L1783.2 247.2L1781.8 252.5L1780.4 258.3L1779.1 264.6L1777.7 271.2L1776.3 278.6L1775 286.9L1773.6 295.9L1772.2 305.3L1770.9 314.8L1769.5 324.5L1768.1 334.9L1766.8 345.8L1765.4 356.5L1764 366.5L1762.7 375.2L1761.3 383.7L1759.9 391.2L1758.6 396.7L1757.2 400L1755.8 400L1754.4 396.6L1753.1 388.1L1751.7 375.9L1750.3 363.8L1749 350.3L1747.6 336.2L1746.2 322.8L1744.9 310.6L1743.5 298.7L1742.1 287.3L1740.8 276.7L1739.4 266.9L1738 257.3L1736.7 248.8L1735.3 242.5L1733.9 238.4L1732.6 235.2L1731.2 232.5L1729.8 230.1L1728.5 227.7L1727.1 225.4L1725.7 223.3L1724.3 221.3L1723 219.6L1721.6 218.2L1720.2 217L1718.9 216L1717.5 215.1L1716.1 214.2L1714.8 213.4L1713.4 212.7L1712 212L1710.7 211.3L1709.3 210.7L1705.9 209.4L1702.5 208.3L1699.1 207.3L1695.7 206.3L1692.3 205.4L1688.9 204.6L1685.5 203.8L1682.1 203L1678.7 202.3L1675.3 201.7L1671.9 201.2L1668.5 200.7L1665.1 200.2L1661.7 199.8L1658.3 199.5L1654.9 199.4L1651.5 199.5L1648.1 199.7L1644.7 199.9L1641.3 200.3L1637.9 200.7L1634.5 201.2L1631.1 201.6L1627.7 202.1L1624.3 202.6L1620.9 203L1617.5 203.4L1614.1 203.8L1610.7 204.3L1607.3 204.8L1603.9 205.3L1600.5 205.7L1597.1 206.1L1593.7 206.4L1590.3 206.5L1586.9 206.5L1583.5 206.4L1580.1 206.3L1576.7 206.1L1573.3 205.9L1569.9 205.7L1566.5 205.5L1563.1 205.3L1559.7 205.1L1556.3 205L1552.9 204.8L1549.5 204.8L1546.1 204.7L1542.7 204.7L1539.3 204.8L1535.9 204.8L1532.5 204.9L1529.1 205L1525.7 205.1L1522.3 205.3L1518.9 205.4L1515.5 205.6L1512.1 205.8L1508.7 206.1" stroke="#35b779"/>
<path d="M1508.7 203.5L1512.1 203.1L1515.5 202.7L1518.9 202.3L1522.3 201.9L1525.7 201.6L1529.1 201.2L1532.5 200.8L1535.9 200.5L1539.3 200.1L1542.7 199.7L1546.1 199.4L1549.5 199L1552.9 198.7L1556.3 198.3L1559.7 198L1563.1 197.6L1566.5 197.3L1569.9 196.9L1573.3 196.6L1576.7 196.3L1580.1 196L1583.5 195.7L1586.9 195.4L1590.3 195.1L1593.7 194.8L1597.1 194.5L1600.5 194.1L1603.9 193.8L1607.3 193.3L1610.7 192.6L1614.1 191.9L1617.5 191.2L1620.9 190.5L1624.3 189.8L1627.7 189.3L1631.1 189L1634.5 188.8L1637.9 188.6L1641.3 188.6L1644.7 188.5L1648.1 188.5L1651.5 188.5L1654.9 188.5L1658.3 188.5L1661.7 188.6L1665.1 188.6L1668.5 188.7L1671.9 188.8L1675.3 188.9L1678.7 189L1682.1 189.1L1685.5 189.2L1688.9 189.3L1692.3 189.4L1695.7 189.5L1699.1 189.5L1702.5 189.4L1705.9 189L1709.3 188.5L1710.7 188.2L1712 187.9L1713.4 187.6L1714.8 187.3L1716.1 186.9L1717.5 186.6L1718.9 186.2L1720.2 185.9L1721.6 185.5L1723 185.2L1724.3 184.8L1725.7 184.5L1727.1 184.2L1728.5 183.9L1729.8 183.7L1731.2 183.5L1732.6 183.3L1733.9 183.1L1735.3 183L1736.7 182.9L1738 182.9L1739.4 182.9L1740.8 182.9L1742.1 183.1L1743.5 183.2L1744.9 183.4L1746.2 183.6L1747.6 183.8L1749 184L1750.3 184.3L1751.7 184.5L1753.1 184.8L1754.4 185L1755.8 185.2L1757.2 185.4L1758.6 185.6L1759.9 185.8L1761.3 185.9L1762.7 185.9L1764 186L1765.4 185.9L1766.8 185.9L1768.1 185.9L1769.5 185.8L1770.9 185.7L1772.2 185.6L1773.6 185.5L1775 185.3L1776.3 185.2L1777.7 185L1779.1 184.8L1780.4 184.6L1781.8 184.4L1783.2 184.1L1784.5 183.9L1785.9 183.6L1787.3 183.3L1788.7 183L1790 182.7L1791.4 182.3L1792.8 182L1794.1 181.6L1795.5 181.2L1796.9 180.8L1798.2 180L1799.6 179L1801 177.8L1802.3 176.4L1803.7 174.8L1804.9 173.3L1806.1 171.8L1807.3 170.2L1808.5 168.6L1809.7 166.8L1810.9 164.8L1812.1 162.4L1813.2 159.9L1814.4 157.3L1815.6 154.6L1816.8 151.8L1818 149L1819.2 146.1L1820.4 143L1821.6 139.8L1822.8 136.5L1824 133.1L1825.2 129.8L1826.4 126.5L1827.6 123.3L1828.8 120.2L1830 116.9L1831.1 113.6L1832.3 110.3L1833.5 107.4L1834.7 104.8L1835.9 102.9L1837.1 101.1L1838.3 99.5L1839.5 98L1840.7 96.8L1841.9 96L1843.1 95.4L1844.3 94.9L1845.5 94.5L1846.7 94.2L1847.9 93.9L1849 93.7L1850.2 93.6L1851.4 93.6L1852.6 93.9L1853.8 94.5L1855 95.1L1856.2 95.8L1857.4 96.4L1858.6 97.1L1859.8 97.8L1861 98.6L1862.2 99.4L1863.4 100.2L1864.6 101.1L1865.7 102L1866.9 102.8L1868.1 103.7L1869.3 104.5L1870.5 105.3L1871.7 106.1L1872.9 106.9L1874.1 107.6L1875.3 108.3L1876.5 109L1877.7 109.7L1878.9 110.4L1880.1 111L1881.3 111.6L1882.5 112.2L1883.6 112.8L1884.8 113.4L1886 113.9L1887.2 114.4L1888.4 114.8L1889.6 115.1L1890.8 115.5L1892 115.8L1893.2 116.1L1894.4 116.4L1895.6 116.7L1896.8 116.9L1898 117L1899.2 117.1L1900.4 117.1L1901.5 116.9L1902.7 116.7L1903.9 116.4L1905.1 116L1906.3 115.5L1907.5 114.9L1908.7 114.3L1909.9 113.6L1909.9 114.1L1908.7 137.7L1907.5 149.5L1906.3 156.3L1905.1 161.6L1903.9 165.9L1902.7 169.3L1901.5 172L1900.4 174.3L1899.2 176.3L1898 178.2L1896.8 180L1895.6 181.5L1894.4 182.9L1893.2 184.1L1892 185.3L1890.8 186.2L1889.6 187.1L1888.4 187.9L1887.2 188.5L1886 189.1L1884.8 189.7L1883.6 190.2L1882.5 190.6L1881.3 191.1L1880.1 191.4L1878.9 191.8L1877.7 192.1L1876.5 192.4L1875.3 192.7L1874.1 193L1872.9 193.2L1871.7 193.5L1870.5 193.7L1869.3 194L1868.1 194.2L1866.9 194.4L1865.7 194.6L1864.6 194.8L1863.4 195L1862.2 195.2L1861 195.5L1859.8 195.7L1858.6 195.9L1857.4 196.1L1856.2 196.3L1855 196.4L1853.8 196.6L1852.6 196.8L1851.4 196.9L1850.2 197.1L1849 197.3L1847.9 197.4L1846.7 197.6L1845.5 197.7L1844.3 197.9L1843.1 198L1841.9 198.2L1840.7 198.3L1839.5 198.5L1838.3 198.7L1837.1 198.9L1835.9 199L1834.7 199.2L1833.5 199.4L1832.3 199.6L1831.1 199.9L1830 200.1L1828.8 200.3L1827.6 200.6L1826.4 200.9L1825.2 201.1L1824 201.4L1822.8 201.7L1821.6 202L1820.4 202.4L1819.2 202.7L1818 203L1816.8 203.4L1815.6 203.8L1814.4 204.2L1813.2 204.7L1812.1 205.2L1810.9 205.7L1809.7 206.2L1808.5 206.7L1807.3 207.3L1806.1 208L1804.9 208.6L1803.7 209.3L1802.3 210.3L1801 211.5L1799.6 213L1798.2 214.7L1796.9 216.5L1795.5 218.5L1794.1 220.5L1792.8 222.8L1791.4 225.3L1790 228.1L1788.7 231.2L1787.3 234.5L1785.9 238.2L1784.5 242.4L1783.2 247.2L1781.8 252.5L1780.4 258.3L1779.1 264.6L1777.7 271.2L1776.3 278.6L1775 286.9L1773.6 295.9L1772.2 305.3L1770.9 314.8L1769.5 324.5L1768.1 334.9L1766.8 345.8L1765.4 356.5L1764 366.5L1762.7 375.2L1761.3 383.7L1759.9 391.2L1758.6 396.7L1757.2 400L1755.8 400L1754.4 396.6L1753.1 388.1L1751.7 375.9L1750.3 363.8L1749 350.3L1747.6 336.2L1746.2 322.8L1744.9 310.6L1743.5 298.7L1742.1 287.3L1740.8 276.7L1739.4 266.9L1738 257.3L1736.7 248.8L1735.3 242.5L1733.9 238.4L1732.6 235.2L1731.2 232.5L1729.8 230.1L1728.5 227.7L1727.1 225.4L1725.7 223.3L1724.3 221.4L1723 219.7L1721.6 218.3L1720.2 217.1L1718.9 216.1L1717.5 215.2L1716.1 214.3L1714.8 213.5L1713.4 212.8L1712 212.2L1710.7 211.5L1709.3 210.9L1705.9 209.6L1702.5 208.5L1699.1 207.4L1695.7 206.5L1692.3 205.6L1688.9 204.7L1685.5 203.9L1682.1 203.2L1678.7 202.5L1675.3 201.9L1671.9 201.4L1668.5 200.9L1665.1 200.4L1661.7 200L1658.3 199.7L1654.9 199.6L1651.5 199.7L1648.1 199.9L1644.7 200.1L1641.3 200.5L1637.9 200.9L1634.5 201.3L1631.1 201.8L1627.7 202.3L1624.3 202.8L1620.9 203.2L1617.5 203.6L1614.1 204L1610.7 204.5L1607.3 205L1603.9 205.5L1600.5 205.9L1597.1 206.3L1593.7 206.5L1590.3 206.7L1586.9 206.7L1583.5 206.6L1580.1 206.5L1576.7 206.3L1573.3 206.1L1569.9 205.9L1566.5 205.7L1563.1 205.5L1559.7 205.3L1556.3 205.1L1552.9 205L1549.5 204.9L1546.1 204.9L1542.7 204.9L1539.3 205L1535.9 205L1532.5 205.1L1529.1 205.2L1525.7 205.3L1522.3 205.4L1518.9 205.6L1515.5 205.8L1512.1 206L1508.7 206.2" stroke="#1f9e89"/>
<path d="M1508.7 203.6L1512.1 203.2L1515.5 202.8L1518.9 202.4L1522.3 202.1L1525.7 201.7L1529.1 201.3L1532.5 200.9L1535.9 200.6L1539.3 200.2L1542.7 199.8L1546.1 199.5L1549.5 199.1L1552.9 198.8L1556.3 198.4L1559.7 198.1L1563.1 197.7L1566.5 197.4L1569.9 197.1L1573.3 196.7L1576.7 196.4L1580.1 196.1L1583.5 195.8L1586.9 195.5L1590.3 195.2L1593.7 194.9L1597.1 194.6L1600.5 194.3L1603.9 193.9L1607.3 193.4L1610.7 192.7L1614.1 192L1617.5 191.3L1620.9 190.6L1624.3 189.9L1627.7 189.4L1631.1 189.1L1634.5 188.9L1637.9 188.8L1641.3 188.7L1644.7 188.6L1648.1 188.5L1651.5 188.5L1654.9 188.5L1658.3 188.5L1661.7 188.6L1665.1 188.6L1668.5 188.7L1671.9 188.8L1675.3 188.9L1678.7 189L1682.1 189.1L1685.5 189.2L1688.9 189.3L1692.3 189.4L1695.7 189.5L1699.1 189.5L1702.5 189.4L1705.9 189L1709.3 188.5L1710.7 188.2L1712 187.9L1713.4 187.6L1714.8 187.3L1716.1 186.9L1717.5 186.6L1718.9 186.2L1720.2 185.9L1721.6 185.5L1723 185.2L1724.3 184.8L1725.7 184.5L1727.1 184.2L1728.5 183.9L1729.8 183.7L1731.2 183.5L1732.6 183.3L1733.9 183.1L1735.3 183L1736.7 182.9L1738 182.9L1739.4 182.9L1740.8 182.9L1742.1 183.1L1743.5 183.2L1744.9 183.4L1746.2 183.6L1747.6 183.8L1749 184L1750.3 184.3L1751.7 184.5L1753.1 184.8L1754.4 185L1755.8 185.2L1757.2 185.4L1758.6 185.6L1759.9 185.8L1761.3 185.9L1762.7 185.9L1764 186L1765.4 185.9L1766.8 185.9L1768.1 185.9L1769.5 185.8L1770.9 185.7L1772.2 185.6L1773.6 185.5L1775 185.3L1776.3 185.2L1777.7 185L1779.1 184.8L1780.4 184.6L1781.8 184.4L1783.2 184.1L1784.5 183.9L1785.9 183.6L1787.3 183.3L1788.7 183L1790 182.7L1791.4 182.3L1792.8 182L1794.1 181.6L1795.5 181.2L1796.9 180.8L1798.2 180L1799.6 179L1801 177.8L1802.3 176.4L1803.7 174.8L1804.9 173.3L1806.1 171.8L1807.3 170.2L1808.5 168.6L1809.7 166.8L1810.9 164.8L1812.1 162.4L1813.2 159.9L1814.4 157.3L1815.6 154.6L1816.8 151.8L1818 149L1819.2 146.1L1820.4 143L1821.6 139.8L1822.8 136.5L1824 133.1L1825.2 129.8L1826.4 126.5L1827.6 123.3L1828.8 120.2L1830 116.9L1831.1 113.6L1832.3 110.3L1833.5 107.4L1834.7 104.8L1835.9 102.9L1837.1 101.1L1838.3 99.5L1839.5 98L1840.7 96.8L1841.9 96L1843.1 95.4L1844.3 94.9L1845.5 94.5L1846.7 94.2L1847.9 93.9L1849 93.7L1850.2 93.6L1851.4 93.6L1852.6 94L1853.8 94.5L1855 95.2L1856.2 95.8L1857.4 96.5L1858.6 97.2L1859.8 97.9L1861 98.7L1862.2 99.5L1863.4 100.3L1864.6 101.2L1865.7 102.1L1866.9 102.9L1868.1 103.8L1869.3 104.6L1870.5 105.4L1871.7 106.2L1872.9 107L1874.1 107.7L1875.3 108.4L1876.5 109.1L1877.7 109.8L1878.9 110.5L1880.1 111.1L1881.3 111.7L1882.5 112.3L1883.6 112.9L1884.8 113.5L1886 114L1887.2 114.5L1888.4 114.9L1889.6 115.2L1890.8 115.6L1892 115.9L1893.2 116.2L1894.4 116.5L1895.6 116.8L1896.8 117L1898 117.1L1899.2 117.2L1900.4 117.2L1901.5 117L1902.7 116.8L1903.9 116.5L1905.1 116.1L1906.3 115.6L1907.5 115L1908.7 114.4L1909.9 113.7L1909.9 114.1L1908.7 137.7L1907.5 149.5L1906.3 156.3L1905.1 161.6L1903.9 165.9L1902.7 169.3L1901.5 172L1900.4 174.3L1899.2 176.3L1898 178.2L1896.8 180L1895.6 181.5L1894.4 182.9L1893.2 184.1L1892 185.3L1890.8 186.2L1889.6 187.1L1888.4 187.9L1887.2 188.5L1886 189.1L1884.8 189.7L1883.6 190.2L1882.5 190.6L1881.3 191.1L1880.1 191.4L1878.9 191.8L1877.7 192.1L1876.5 192.4L1875.3 192.7L1874.1 193L1872.9 193.2L1871.7 193.5L1870.5 193.7L1869.3 194L1868.1 194.2L1866.9 194.4L1865.7 194.6L1864.6 194.8L1863.4 195L1862.2 195.2L1861 195.5L1859.8 195.7L1858.6 195.9L1857.4 196.1L1856.2 196.3L1855 196.4L1853.8 196.6L1852.6 196.8L1851.4 196.9L1850.2 197.1L1849 197.3L1847.9 197.4L1846.7 197.6L1845.5 197.7L1844.3 197.9L1843.1 198L1841.9 198.2L1840.7 198.3L1839.5 198.5L1838.3 198.7L1837.1 198.9L1835.9 199L1834.7 199.2L1833.5 199.4L1832.3 199.6L1831.1 199.9L1830 200.1L1828.8 200.3L1827.6 200.6L1826.4 200.9L1825.2 201.1L1824 201.4L1822.8 201.7L1821.6 202L1820.4 202.4L1819.2 202.7L1818 203L1816.8 203.4L1815.6 203.8L1814.4 204.2L1813.2 204.7L1812.1 205.2L1810.9 205.7L1809.7 206.2L1808.5 206.7L1807.3 207.3L1806.1 208L1804.9 208.6L1803.7 209.3L1802.3 210.3L1801 211.5L1799.6 213L1798.2 214.7L1796.9 216.5L1795.5 218.5L1794.1 220.5L1792.8 222.8L1791.4 225.3L1790 228.1L1788.7 231.2L1787.3 234.5L1785.9 238.2L1784.5 242.4L1783.2 247.2L1781.8 252.5L1780.4 258.3L1779.1 264.6L1777.7 271.2L1776.3 278.6L1775 286.9L1773.6 295.9L1772.2 305.3L1770.9 314.8L1769.5 324.5L1768.1 334.9L1766.8 345.8L1765.4 356.5L1764 366.5L1762.7 375.2L1761.3 383.7L1759.9 391.2L1758.6 396.7L1757.2 400L1755.8 400L1754.4 396.6L1753.1 388.1L1751.7 375.9L1750.3 363.8L1749 350.3L1747.6 336.2L1746.2 322.8L1744.9 310.6L1743.5 298.7L1742.1 287.3L1740.8 276.7L1739.4 266.9L1738 257.3L1736.7 248.8L1735.3 242.5L1733.9 238.4L1732.6 235.2L1731.2 232.5L1729.8 230.1L1728.5 227.7L1727.1 225.4L1725.7 223.3L1724.3 221.4L1723 219.7L1721.6 218.3L1720.2 217.2L1718.9 216.2L1717.5 215.3L1716.1 214.4L1714.8 213.7L1713.4 213L1712 212.3L1710.7 211.7L1709.3 211.1L1705.9 209.8L1702.5 208.6L1699.1 207.6L1695.7 206.7L1692.3 205.8L1688.9 204.9L1685.5 204.1L1682.1 203.4L1678.7 202.7L1675.3 202.1L1671.9 201.6L1668.5 201.1L1665.1 200.6L1661.7 200.2L1658.3 199.9L1654.9 199.8L1651.5 199.9L1648.1 200L1644.7 200.3L1641.3 200.7L1637.9 201.1L1634.5 201.5L1631.1 202L1627.7 202.5L1624.3 203L1620.9 203.4L1617.5 203.8L1614.1 204.2L1610.7 204.7L1607.3 205.1L1603.9 205.6L1600.5 206.1L1597.1 206.4L1593.7 206.7L1590.3 206.8L1586.9 206.8L1583.5 206.8L1580.1 206.6L1576.7 206.5L1573.3 206.3L1569.9 206.1L1566.5 205.9L1563.1 205.7L1559.7 205.5L1556.3 205.3L1552.9 205.2L1549.5 205.1L1546.1 205.1L1542.7 205.1L1539.3 205.1L1535.9 205.2L1532.5 205.3L1529.1 205.4L1525.7 205.5L1522.3 205.6L1518.9 205.8L1515.5 206L1512.1 206.2L1508.7 206.4" stroke="#26828e"/>
<path d="M1508.7 203.7L1512.1 203.3L1515.5 202.9L1518.9 202.5L1522.3 202.2L1525.7 201.8L1529.1 201.4L1532.5 201L1535.9 200.7L1539.3 200.3L1542.7 199.9L1546.1 199.6L1549.5 199.2L1552.9 198.9L1556.3 198.5L1559.7 198.2L1563.1 197.8L1566.5 197.5L1569.9 197.2L1573.3 196.8L1576.7 196.5L1580.1 196.2L1583.5 195.9L1586.9 195.6L1590.3 195.3L1593.7 195L1597.1 194.7L1600.5 194.4L1603.9 194L1607.3 193.5L1610.7 192.8L1614.1 192.1L1617.5 191.4L1620.9 190.7L1624.3 190.1L1627.7 189.5L1631.1 189.2L1634.5 189L1637.9 188.9L1641.3 188.7L1644.7 188.7L1648.1 188.6L1651.5 188.6L1654.9 188.5L1658.3 188.5L1661.7 188.6L1665.1 188.6L1668.5 188.7L1671.9 188.8L1675.3 188.9L1678.7 189L1682.1 189.1L1685.5 189.2L1688.9 189.3L1692.3 189.4L1695.7 189.5L1699.1 189.5L1702.5 189.4L1705.9 189L1709.3 188.5L1710.7 188.2L1712 187.9L1713.4 187.6L1714.8 187.3L1716.1 186.9L1717.5 186.6L1718.9 186.2L1720.2 185.9L1721.6 185.5L1723 185.2L1724.3 184.8L1725.7 184.5L1727.1 184.2L1728.5 183.9L1729.8 183.7L1731.2 183.5L1732.6 183.3L1733.9 183.1L1735.3 183L1736.7 182.9L1738 182.9L1739.4 182.9L1740.8 182.9L1742.1 183.1L1743.5 183.2L1744.9 183.4L1746.2 183.6L1747.6 183.8L1749 184L1750.3 184.3L1751.7 184.5L1753.1 184.8L1754.4 185L1755.8 185.2L1757.2 185.4L1758.6 185.6L1759.9 185.8L1761.3 185.9L1762.7 185.9L1764 186L1765.4 185.9L1766.8 185.9L1768.1 185.9L1769.5 185.8L1770.9 185.7L1772.2 185.6L1773.6 185.5L1775 185.3L1776.3 185.2L1777.7 185L1779.1 184.8L1780.4 184.6L1781.8 184.4L1783.2 184.1L1784.5 183.9L1785.9 183.6L1787.3 183.3L1788.7 183L1790 182.7L1791.4 182.3L1792.8 182L1794.1 181.6L1795.5 181.2L1796.9 180.8L1798.2 180L1799.6 179L1801 177.8L1802.3 176.4L1803.7 174.8L1804.9 173.3L1806.1 171.8L1807.3 170.2L1808.5 168.6L1809.7 166.8L1810.9 164.8L1812.1 162.4L1813.2 159.9L1814.4 157.3L1815.6 154.6L1816.8 151.8L1818 149L1819.2 146.1L1820.4 143L1821.6 139.8L1822.8 136.5L1824 133.1L1825.2 129.8L1826.4 126.5L1827.6 123.3L1828.8 120.2L1830 116.9L1831.1 113.6L1832.3 110.3L1833.5 107.4L1834.7 104.8L1835.9 102.9L1837.1 101.1L1838.3 99.5L1839.5 98L1840.7 96.8L1841.9 96L1843.1 95.4L1844.3 94.9L1845.5 94.5L1846.7 94.2L1847.9 93.9L1849 93.7L1850.2 93.6L1851.4 93.6L1852.6 94L1853.8 94.5L1855 95.2L1856.2 95.9L1857.4 96.6L1858.6 97.3L1859.8 98L1861 98.8L1862.2 99.6L1863.4 100.5L1864.6 101.3L1865.7 102.2L1866.9 103L1868.1 103.9L1869.3 104.7L1870.5 105.6L1871.7 106.3L1872.9 107.1L1874.1 107.8L1875.3 108.5L1876.5 109.3L1877.7 109.9L1878.9 110.6L1880.1 111.2L1881.3 111.8L1882.5 112.4L1883.6 113L1884.8 113.6L1886 114.1L1887.2 114.6L1888.4 115L1889.6 115.3L1890.8 115.7L1892 116L1893.2 116.3L1894.4 116.6L1895.6 116.9L1896.8 117.1L1898 117.2L1899.2 117.3L1900.4 117.3L1901.5 117.1L1902.7 116.9L1903.9 116.6L1905.1 116.2L1906.3 115.7L1907.5 115.1L1908.7 114.5L1909.9 113.8L1909.9 114.1L1908.7 137.7L1907.5 149.5L1906.3 156.3L1905.1 161.6L1903.9 165.9L1902.7 169.3L1901.5 172L1900.4 174.3L1899.2 176.3L1898 178.2L1896.8 180L1895.6 181.5L1894.4 182.9L1893.2 184.1L1892 185.3L1890.8 186.2L1889.6 187.1L1888.4 187.9L1887.2 188.5L1886 189.1L1884.8 189.7L1883.6 190.2L1882.5 190.6L1881.3 191.1L1880.1 191.4L1878.9 191.8L1877.7 192.1L1876.5 192.4L1875.3 192.7L1874.1 193L1872.9 193.2L1871.7 193.5L1870.5 193.7L1869.3 194L1868.1 194.2L1866.9 194.4L1865.7 194.6L1864.6 194.8L1863.4 195L1862.2 195.2L1861 195.5L1859.8 195.7L1858.6 195.9L1857.4 196.1L1856.2 196.3L1855 196.4L1853.8 196.6L1852.6 196.8L1851.4 196.9L1850.2 197.1L1849 197.3L1847.9 197.4L1846.7 197.6L1845.5 197.7L1844.3 197.9L1843.1 198L1841.9 198.2L1840.7 198.3L1839.5 198.5L1838.3 198.7L1837.1 198.9L1835.9 199L1834.7 199.2L1833.5 199.4L1832.3 199.6L1831.1 199.9L1830 200.1L1828.8 200.3L1827.6 200.6L1826.4 200.9L1825.2 201.1L1824 201.4L1822.8 201.7L1821.6 202L1820.4 202.4L1819.2 202.7L1818 203L1816.8 203.4L1815.6 203.8L1814.4 204.2L1813.2 204.7L1812.1 205.2L1810.9 205.7L1809.7 206.2L1808.5 206.7L1807.3 207.3L1806.1 208L1804.9 208.6L1803.7 209.3L1802.3 210.3L1801 211.5L1799.6 213L1798.2 214.7L1796.9 216.5L1795.5 218.5L1794.1 220.5L1792.8 222.8L1791.4 225.3L1790 228.1L1788.7 231.2L1787.3 234.5L1785.9 238.2L1784.5 242.4L1783.2 247.2L1781.8 252.5L1780.4 258.3L1779.1 264.6L1777.7 271.2L1776.3 278.6L1775 286.9L1773.6 295.9L1772.2 305.3L1770.9 314.8L1769.5 324.5L1768.1 334.9L1766.8 345.8L1765.4 356.5L1764 366.5L1762.7 375.2L1761.3 383.7L1759.9 391.2L1758.6 396.7L1757.2 400L1755.8 400L1754.4 396.6L1753.1 388.1L1751.7 375.9L1750.3 363.8L1749 350.3L1747.6 336.2L1746.2 322.8L1744.9 310.6L1743.5 298.7L1742.1 287.3L1740.8 276.7L1739.4 266.9L1738 257.3L1736.7 248.8L1735.3 242.5L1733.9 238.4L1732.6 235.2L1731.2 232.5L1729.8 230.1L1728.5 227.7L1727.1 225.4L1725.7 223.3L1724.3 221.4L1723 219.8L1721.6 218.4L1720.2 217.3L1718.9 216.3L1717.5 215.4L1716.1 214.5L1714.8 213.8L1713.4 213.1L1712 212.5L1710.7 211.8L1709.3 211.2L1705.9 210L1702.5 208.8L1699.1 207.8L1695.7 206.9L1692.3 206L1688.9 205.1L1685.5 204.3L1682.1 203.5L1678.7 202.9L1675.3 202.3L1671.9 201.8L1668.5 201.2L1665.1 200.8L1661.7 200.4L1658.3 200.1L1654.9 200L1651.5 200L1648.1 200.2L1644.7 200.5L1641.3 200.8L1637.9 201.2L1634.5 201.7L1631.1 202.2L1627.7 202.7L1624.3 203.1L1620.9 203.6L1617.5 204L1614.1 204.4L1610.7 204.8L1607.3 205.3L1603.9 205.8L1600.5 206.2L1597.1 206.6L1593.7 206.9L1590.3 207L1586.9 207L1583.5 206.9L1580.1 206.8L1576.7 206.7L1573.3 206.5L1569.9 206.3L1566.5 206.1L1563.1 205.8L1559.7 205.7L1556.3 205.5L1552.9 205.4L1549.5 205.3L1546.1 205.3L1542.7 205.3L1539.3 205.3L1535.9 205.4L1532.5 205.4L1529.1 205.5L1525.7 205.7L1522.3 205.8L1518.9 206L1515.5 206.1L1512.1 206.4L1508.7 206.6" stroke="#31688e"/>
<path d="M1508.7 203.8L1512.1 203.4L1515.5 203L1518.9 202.6L1522.3 202.3L1525.7 201.9L1529.1 201.5L1532.5 201.1L1535.9 200.8L1539.3 200.4L1542.7 200L1546.1 199.7L1549.5 199.3L1552.9 199L1556.3 198.6L1559.7 198.3L1563.1 197.9L1566.5 197.6L1569.9 197.3L1573.3 196.9L1576.7 196.6L1580.1 196.3L1583.5 196L1586.9 195.7L1590.3 195.4L1593.7 195.1L1597.1 194.8L1600.5 194.5L1603.9 194.1L1607.3 193.6L1610.7 192.9L1614.1 192.2L1617.5 191.5L1620.9 190.8L1624.3 190.2L1627.7 189.6L1631.1 189.3L1634.5 189.1L1637.9 189L1641.3 188.8L1644.7 188.7L1648.1 188.7L1651.5 188.6L1654.9 188.6L1658.3 188.6L1661.7 188.6L1665.1 188.6L1668.5 188.7L1671.9 188.8L1675.3 188.9L1678.7 189L1682.1 189.1L1685.5 189.2L1688.9 189.3L1692.3 189.4L1695.7 189.5L1699.1 189.5L1702.5 189.4L1705.9 189L1709.3 188.5L1710.7 188.2L1712 187.9L1713.4 187.6L1714.8 187.3L1716.1 186.9L1717.5 186.6L1718.9 186.2L1720.2 185.9L1721.6 185.5L1723 185.2L1724.3 184.8L1725.7 184.5L1727.1 184.2L1728.5 183.9L1729.8 183.7L1731.2 183.5L1732.6 183.3L1733.9 183.1L1735.3 183L1736.7 182.9L1738 182.9L1739.4 182.9L1740.8 182.9L1742.1 183.1L1743.5 183.2L1744.9 183.4L1746.2 183.6L1747.6 183.8L1749 184L1750.3 184.3L1751.7 184.5L1753.1 184.8L1754.4 185L1755.8 185.2L1757.2 185.4L1758.6 185.6L1759.9 185.8L1761.3 185.9L1762.7 185.9L1764 186L1765.4 185.9L1766.8 185.9L1768.1 185.9L1769.5 185.8L1770.9 185.7L1772.2 185.6L1773.6 185.5L1775 185.3L1776.3 185.2L1777.7 185L1779.1 184.8L1780.4 184.6L1781.8 184.4L1783.2 184.1L1784.5 183.9L1785.9 183.6L1787.3 183.3L1788.7 183L1790 182.7L1791.4 182.3L1792.8 182L1794.1 181.6L1795.5 181.2L1796.9 180.8L1798.2 180L1799.6 179L1801 177.8L1802.3 176.4L1803.7 174.8L1804.9 173.3L1806.1 171.8L1807.3 170.2L1808.5 168.6L1809.7 166.8L1810.9 164.8L1812.1 162.4L1813.2 159.9L1814.4 157.3L1815.6 154.6L1816.8 151.8L1818 149L1819.2 146.1L1820.4 143L1821.6 139.8L1822.8 136.5L1824 133.1L1825.2 129.8L1826.4 126.5L1827.6 123.3L1828.8 120.2L1830 116.9L1831.1 113.6L1832.3 110.3L1833.5 107.4L1834.7 104.8L1835.9 102.9L1837.1 101.1L1838.3 99.5L1839.5 98L1840.7 96.8L1841.9 96L1843.1 95.4L1844.3 94.9L1845.5 94.5L1846.7 94.2L1847.9 93.9L1849 93.7L1850.2 93.6L1851.4 93.7L1852.6 94L1853.8 94.6L1855 95.3L1856.2 96L1857.4 96.6L1858.6 97.3L1859.8 98.1L1861 98.9L1862.2 99.7L1863.4 100.6L1864.6 101.4L1865.7 102.3L1866.9 103.1L1868.1 104L1869.3 104.9L1870.5 105.7L1871.7 106.4L1872.9 107.2L1874.1 107.9L1875.3 108.7L1876.5 109.4L1877.7 110L1878.9 110.7L1880.1 111.3L1881.3 111.9L1882.5 112.5L1883.6 113.1L1884.8 113.7L1886 114.2L1887.2 114.7L1888.4 115.1L1889.6 115.4L1890.8 115.8L1892 116.1L1893.2 116.4L1894.4 116.7L1895.6 117L1896.8 117.2L1898 117.3L1899.2 117.4L1900.4 117.4L1901.5 117.2L1902.7 117L1903.9 116.7L1905.1 116.3L1906.3 115.8L1907.5 115.2L1908.7 114.6L1909.9 113.9L1909.9 114.1L1908.7 137.7L1907.5 149.5L1906.3 156.3L1905.1 161.6L1903.9 165.9L1902.7 169.3L1901.5 172L1900.4 174.3L1899.2 176.3L1898 178.2L1896.8 180L1895.6 181.5L1894.4 182.9L1893.2 184.1L1892 185.3L1890.8 186.2L1889.6 187.1L1888.4 187.9L1887.2 188.5L1886 189.1L1884.8 189.7L1883.6 190.2L1882.5 190.6L1881.3 191.1L1880.1 191.4L1878.9 191.8L1877.7 192.1L1876.5 192.4L1875.3 192.7L1874.1 193L1872.9 193.2L1871.7 193.5L1870.5 193.7L1869.3 194L1868.1 194.2L1866.9 194.4L1865.7 194.6L1864.6 194.8L1863.4 195L1862.2 195.2L1861 195.5L1859.8 195.7L1858.6 195.9L1857.4 196.1L1856.2 196.3L1855 196.4L1853.8 196.6L1852.6 196.8L1851.4 196.9L1850.2 197.1L1849 197.3L1847.9 197.4L1846.7 197.6L1845.5 197.7L1844.3 197.9L1843.1 198L1841.9 198.2L1840.7 198.3L1839.5 198.5L1838.3 198.7L1837.1 198.9L1835.9 199L1834.7 199.2L1833.5 199.4L1832.3 199.6L1831.1 199.9L1830 200.1L1828.8 200.3L1827.6 200.6L1826.4 200.9L1825.2 201.1L1824 201.4L1822.8 201.7L1821.6 202L1820.4 202.4L1819.2 202.7L1818 203L1816.8 203.4L1815.6 203.8L1814.4 204.2L1813.2 204.7L1812.1 205.2L1810.9 205.7L1809.7 206.2L1808.5 206.7L1807.3 207.3L1806.1 208L1804.9 208.6L1803.7 209.3L1802.3 210.3L1801 211.5L1799.6 213L1798.2 214.7L1796.9 216.5L1795.5 218.5L1794.1 220.5L1792.8 222.8L1791.4 225.3L1790 228.1L1788.7 231.2L1787.3 234.5L1785.9 238.2L1784.5 242.4L1783.2 247.2L1781.8 252.5L1780.4 258.3L1779.1 264.6L1777.7 271.2L1776.3 278.6L1775 286.9L1773.6 295.9L1772.2 305.3L1770.9 314.8L1769.5 324.5L1768.1 334.9L1766.8 345.8L1765.4 356.5L1764 366.5L1762.7 375.2L1761.3 383.7L1759.9 391.2L1758.6 396.7L1757.2 400L1755.8 400L1754.4 396.6L1753.1 388.1L1751.7 375.9L1750.3 363.8L1749 350.3L1747.6 336.2L1746.2 322.8L1744.9 310.6L1743.5 298.7L1742.1 287.3L1740.8 276.7L1739.4 266.9L1738 257.3L1736.7 248.8L1735.3 242.5L1733.9 238.4L1732.6 235.2L1731.2 232.5L1729.8 230.1L1728.5 227.7L1727.1 225.5L1725.7 223.4L1724.3 221.5L1723 219.8L1721.6 218.4L1720.2 217.3L1718.9 216.3L1717.5 215.5L1716.1 214.6L1714.8 213.9L1713.4 213.2L1712 212.6L1710.7 212L1709.3 211.4L1705.9 210.1L1702.5 209L1699.1 208L1695.7 207L1692.3 206.1L1688.9 205.3L1685.5 204.5L1682.1 203.7L1678.7 203L1675.3 202.5L1671.9 201.9L1668.5 201.4L1665.1 200.9L1661.7 200.5L1658.3 200.3L1654.9 200.1L1651.5 200.2L1648.1 200.4L1644.7 200.7L1641.3 201L1637.9 201.4L1634.5 201.9L1631.1 202.3L1627.7 202.8L1624.3 203.3L1620.9 203.7L1617.5 204.1L1614.1 204.5L1610.7 205L1607.3 205.5L1603.9 206L1600.5 206.4L1597.1 206.8L1593.7 207.1L1590.3 207.2L1586.9 207.2L1583.5 207.1L1580.1 207L1576.7 206.8L1573.3 206.6L1569.9 206.4L1566.5 206.2L1563.1 206L1559.7 205.8L1556.3 205.7L1552.9 205.5L1549.5 205.5L1546.1 205.4L1542.7 205.5L1539.3 205.5L1535.9 205.5L1532.5 205.6L1529.1 205.7L1525.7 205.8L1522.3 206L1518.9 206.1L1515.5 206.3L1512.1 206.5L1508.7 206.8" stroke="#3e4989"/>
<path d="M1508.7 203.9L1512.1 203.5L1515.5 203.1L1518.9 202.8L1522.3 202.4L1525.7 202L1529.1 201.6L1532.5 201.2L1535.9 200.9L1539.3 200.5L1542.7 200.2L1546.1 199.8L1549.5 199.4L1552.9 199.1L1556.3 198.7L1559.7 198.4L1563.1 198.1L1566.5 197.7L1569.9 197.4L1573.3 197L1576.7 196.7L1580.1 196.4L1583.5 196.1L1586.9 195.8L1590.3 195.5L1593.7 195.2L1597.1 194.9L1600.5 194.6L1603.9 194.2L1607.3 193.7L1610.7 193L1614.1 192.3L1617.5 191.6L1620.9 190.9L1624.3 190.3L1627.7 189.8L1631.1 189.4L1634.5 189.2L1637.9 189.1L1641.3 188.9L1644.7 188.8L1648.1 188.7L1651.5 188.6L1654.9 188.6L1658.3 188.6L1661.7 188.6L1665.1 188.6L1668.5 188.7L1671.9 188.8L1675.3 188.9L1678.7 189L1682.1 189.1L1685.5 189.2L1688.9 189.3L1692.3 189.4L1695.7 189.5L1699.1 189.5L1702.5 189.4L1705.9 189L1709.3 188.5L1710.7 188.2L1712 187.9L1713.4 187.6L1714.8 187.3L1716.1 186.9L1717.5 186.6L1718.9 186.2L1720.2 185.9L1721.6 185.5L1723 185.2L1724.3 184.8L1725.7 184.5L1727.1 184.2L1728.5 183.9L1729.8 183.7L1731.2 183.5L1732.6 183.3L1733.9 183.1L1735.3 183L1736.7 182.9L1738 182.9L1739.4 182.9L1740.8 182.9L1742.1 183.1L1743.5 183.2L1744.9 183.4L1746.2 183.6L1747.6 183.8L1749 184L1750.3 184.3L1751.7 184.5L1753.1 184.8L1754.4 185L1755.8 185.2L1757.2 185.4L1758.6 185.6L1759.9 185.8L1761.3 185.9L1762.7 185.9L1764 186L1765.4 185.9L1766.8 185.9L1768.1 185.9L1769.5 185.8L1770.9 185.7L1772.2 185.6L1773.6 185.5L1775 185.3L1776.3 185.2L1777.7 185L1779.1 184.8L1780.4 184.6L1781.8 184.4L1783.2 184.1L1784.5 183.9L1785.9 183.6L1787.3 183.3L1788.7 183L1790 182.7L1791.4 182.3L1792.8 182L1794.1 181.6L1795.5 181.2L1796.9 180.8L1798.2 180L1799.6 179L1801 177.8L1802.3 176.4L1803.7 174.8L1804.9 173.3L1806.1 171.8L1807.3 170.2L1808.5 168.6L1809.7 166.8L1810.9 164.8L1812.1 162.4L1813.2 159.9L1814.4 157.3L1815.6 154.6L1816.8 151.8L1818 149L1819.2 146.1L1820.4 143L1821.6 139.8L1822.8 136.5L1824 133.1L1825.2 129.8L1826.4 126.5L1827.6 123.3L1828.8 120.2L1830 116.9L1831.1 113.6L1832.3 110.3L1833.5 107.4L1834.7 104.8L1835.9 102.9L1837.1 101.1L1838.3 99.5L1839.5 98L1840.7 96.8L1841.9 96L1843.1 95.4L1844.3 94.9L1845.5 94.5L1846.7 94.2L1847.9 93.9L1849 93.7L1850.2 93.6L1851.4 93.7L1852.6 94.1L1853.8 94.6L1855 95.3L1856.2 96.1L1857.4 96.7L1858.6 97.4L1859.8 98.2L1861 99L1862.2 99.8L1863.4 100.7L1864.6 101.5L1865.7 102.4L1866.9 103.3L1868.1 104.1L1869.3 105L1870.5 105.8L1871.7 106.5L1872.9 107.3L1874.1 108L1875.3 108.8L1876.5 109.5L1877.7 110.1L1878.9 110.8L1880.1 111.4L1881.3 112L1882.5 112.6L1883.6 113.2L1884.8 113.8L1886 114.3L1887.2 114.8L1888.4 115.2L1889.6 115.5L1890.8 115.9L1892 116.2L1893.2 116.6L1894.4 116.8L1895.6 117.1L1896.8 117.3L1898 117.4L1899.2 117.5L1900.4 117.5L1901.5 117.4L1902.7 117.1L1903.9 116.8L1905.1 116.4L1906.3 115.9L1907.5 115.3L1908.7 114.7L1909.9 114L1909.9 114.1L1908.7 137.7L1907.5 149.5L1906.3 156.3L1905.1 161.6L1903.9 165.9L1902.7 169.3L1901.5 172L1900.4 174.3L1899.2 176.3L1898 178.2L1896.8 180L1895.6 181.5L1894.4 182.9L1893.2 184.1L1892 185.3L1890.8 186.2L1889.6 187.1L1888.4 187.9L1887.2 188.5L1886 189.1L1884.8 189.7L1883.6 190.2L1882.5 190.6L1881.3 191.1L1880.1 191.4L1878.9 191.8L1877.7 192.1L1876.5 192.4L1875.3 192.7L1874.1 193L1872.9 193.2L1871.7 193.5L1870.5 193.7L1869.3 194L1868.1 194.2L1866.9 194.4L1865.7 194.6L1864.6 194.8L1863.4 195L1862.2 195.2L1861 195.5L1859.8 195.7L1858.6 195.9L1857.4 196.1L1856.2 196.3L1855 196.4L1853.8 196.6L1852.6 196.8L1851.4 196.9L1850.2 197.1L1849 197.3L1847.9 197.4L1846.7 197.6L1845.5 197.7L1844.3 197.9L1843.1 198L1841.9 198.2L1840.7 198.3L1839.5 198.5L1838.3 198.7L1837.1 198.9L1835.9 199L1834.7 199.2L1833.5 199.4L1832.3 199.6L1831.1 199.9L1830 200.1L1828.8 200.3L1827.6 200.6L1826.4 200.9L1825.2 201.1L1824 201.4L1822.8 201.7L1821.6 202L1820.4 202.4L1819.2 202.7L1818 203L1816.8 203.4L1815.6 203.8L1814.4 204.2L1813.2 204.7L1812.1 205.2L1810.9 205.7L1809.7 206.2L1808.5 206.7L1807.3 207.3L1806.1 208L1804.9 208.6L1803.7 209.3L1802.3 210.3L1801 211.5L1799.6 213L1798.2 214.7L1796.9 216.5L1795.5 218.5L1794.1 220.5L1792.8 222.8L1791.4 225.3L1790 228.1L1788.7 231.2L1787.3 234.5L1785.9 238.2L1784.5 242.4L1783.2 247.2L1781.8 252.5L1780.4 258.3L1779.1 264.6L1777.7 271.2L1776.3 278.6L1775 286.9L1773.6 295.9L1772.2 305.3L1770.9 314.8L1769.5 324.5L1768.1 334.9L1766.8 345.8L1765.4 356.5L1764 366.5L1762.7 375.2L1761.3 383.7L1759.9 391.2L1758.6 396.7L1757.2 400L1755.8 400L1754.4 396.6L1753.1 388.1L1751.7 375.9L1750.3 363.8L1749 350.3L1747.6 336.2L1746.2 322.8L1744.9 310.6L1743.5 298.7L1742.1 287.3L1740.8 276.7L1739.4 266.9L1738 257.3L1736.7 248.8L1735.3 242.5L1733.9 238.4L1732.6 235.2L1731.2 232.5L1729.8 230.1L1728.5 227.7L1727.1 225.5L1725.7 223.4L1724.3 221.5L1723 219.9L1721.6 218.5L1720.2 217.4L1718.9 216.4L1717.5 215.6L1716.1 214.8L1714.8 214L1713.4 213.4L1712 212.8L1710.7 212.2L1709.3 211.6L1705.9 210.3L1702.5 209.2L1699.1 208.1L1695.7 207.2L1692.3 206.3L1688.9 205.5L1685.5 204.6L1682.1 203.9L1678.7 203.2L1675.3 202.6L1671.9 202.1L1668.5 201.6L1665.1 201.1L1661.7 200.7L1658.3 200.4L1654.9 200.3L1651.5 200.4L1648.1 200.6L1644.7 200.8L1641.3 201.2L1637.9 201.6L1634.5 202L1631.1 202.5L1627.7 203L1624.3 203.5L1620.9 203.9L1617.5 204.3L1614.1 204.7L1610.7 205.2L1607.3 205.7L1603.9 206.2L1600.5 206.6L1597.1 207L1593.7 207.2L1590.3 207.4L1586.9 207.4L1583.5 207.3L1580.1 207.2L1576.7 207L1573.3 206.8L1569.9 206.6L1566.5 206.4L1563.1 206.2L1559.7 206L1556.3 205.8L1552.9 205.7L1549.5 205.6L1546.1 205.6L1542.7 205.6L1539.3 205.7L1535.9 205.7L1532.5 205.8L1529.1 205.9L1525.7 206L1522.3 206.2L1518.9 206.3L1515.5 206.5L1512.1 206.7L1508.7 206.9" stroke="#482878"/>
<path d="M1508.7 204L1512.1 203.6L1515.5 203.2L1518.9 202.9L1522.3 202.5L1525.7 202.1L1529.1 201.7L1532.5 201.4L1535.9 201L1539.3 200.6L1542.7 200.3L1546.1 199.9L1549.5 199.5L1552.9 199.2L1556.3 198.8L1559.7 198.5L1563.1 198.2L1566.5 197.8L1569.9 197.5L1573.3 197.1L1576.7 196.8L1580.1 196.5L1583.5 196.2L1586.9 195.9L1590.3 195.6L1593.7 195.3L1597.1 195L1600.5 194.7L1603.9 194.3L1607.3 193.8L1610.7 193.2L1614.1 192.4L1617.5 191.7L1620.9 191L1624.3 190.4L1627.7 189.9L1631.1 189.5L1634.5 189.3L1637.9 189.2L1641.3 189L1644.7 188.9L1648.1 188.8L1651.5 188.7L1654.9 188.6L1658.3 188.6L1661.7 188.6L1665.1 188.6L1668.5 188.7L1671.9 188.8L1675.3 188.9L1678.7 189L1682.1 189.1L1685.5 189.2L1688.9 189.3L1692.3 189.4L1695.7 189.5L1699.1 189.5L1702.5 189.4L1705.9 189L1709.3 188.5L1710.7 188.2L1712 187.9L1713.4 187.6L1714.8 187.3L1716.1 186.9L1717.5 186.6L1718.9 186.2L1720.2 185.9L1721.6 185.5L1723 185.2L1724.3 184.8L1725.7 184.5L1727.1 184.2L1728.5 183.9L1729.8 183.7L1731.2 183.5L1732.6 183.3L1733.9 183.1L1735.3 183L1736.7 182.9L1738 182.9L1739.4 182.9L1740.8 182.9L1742.1 183.1L1743.5 183.2L1744.9 183.4L1746.2 183.6L1747.6 183.8L1749 184L1750.3 184.3L1751.7 184.5L1753.1 184.8L1754.4 185L1755.8 185.2L1757.2 185.4L1758.6 185.6L1759.9 185.8L1761.3 185.9L1762.7 185.9L1764 186L1765.4 185.9L1766.8 185.9L1768.1 185.9L1769.5 185.8L1770.9 185.7L1772.2 185.6L1773.6 185.5L1775 185.3L1776.3 185.2L1777.7 185L1779.1 184.8L1780.4 184.6L1781.8 184.4L1783.2 184.1L1784.5 183.9L1785.9 183.6L1787.3 183.3L1788.7 183L1790 182.7L1791.4 182.3L1792.8 182L1794.1 181.6L1795.5 181.2L1796.9 180.8L1798.2 180L1799.6 179L1801 177.8L1802.3 176.4L1803.7 174.8L1804.9 173.3L1806.1 171.8L1807.3 170.2L1808.5 168.6L1809.7 166.8L1810.9 164.8L1812.1 162.4L1813.2 159.9L1814.4 157.3L1815.6 154.6L1816.8 151.8L1818 149L1819.2 146.1L1820.4 143L1821.6 139.8L1822.8 136.5L1824 133.1L1825.2 129.8L1826.4 126.5L1827.6 123.3L1828.8 120.2L1830 116.9L1831.1 113.6L1832.3 110.3L1833.5 107.4L1834.7 104.8L1835.9 102.9L1837.1 101.1L1838.3 99.5L1839.5 98L1840.7 96.8L1841.9 96L1843.1 95.4L1844.3 94.9L1845.5 94.5L1846.7 94.2L1847.9 93.9L1849 93.7L1850.2 93.6L1851.4 93.7L1852.6 94.1L1853.8 94.7L1855 95.4L1856.2 96.1L1857.4 96.8L1858.6 97.5L1859.8 98.3L1861 99.1L1862.2 99.9L1863.4 100.8L1864.6 101.6L1865.7 102.5L1866.9 103.4L1868.1 104.2L1869.3 105.1L1870.5 105.9L1871.7 106.6L1872.9 107.4L1874.1 108.1L1875.3 108.9L1876.5 109.6L1877.7 110.2L1878.9 110.9L1880.1 111.5L1881.3 112.1L1882.5 112.7L1883.6 113.3L1884.8 113.9L1886 114.4L1887.2 114.9L1888.4 115.3L1889.6 115.6L1890.8 116L1892 116.3L1893.2 116.7L1894.4 117L1895.6 117.2L1896.8 117.4L1898 117.5L1899.2 117.6L1900.4 117.6L1901.5 117.5L1902.7 117.2L1903.9 116.9L1905.1 116.5L1906.3 116L1907.5 115.4L1908.7 114.8L1909.9 114.1L1909.9 114.1L1908.7 137.7L1907.5 149.5L1906.3 156.3L1905.1 161.6L1903.9 165.9L1902.7 169.3L1901.5 172L1900.4 174.3L1899.2 176.3L1898 178.2L1896.8 180L1895.6 181.5L1894.4 182.9L1893.2 184.1L1892 185.3L1890.8 186.2L1889.6 187.1L1888.4 187.9L1887.2 188.5L1886 189.1L1884.8 189.7L1883.6 190.2L1882.5 190.6L1881.3 191.1L1880.1 191.4L1878.9 191.8L1877.7 192.1L1876.5 192.4L1875.3 192.7L1874.1 193L1872.9 193.2L1871.7 193.5L1870.5 193.7L1869.3 194L1868.1 194.2L1866.9 194.4L1865.7 194.6L1864.6 194.8L1863.4 195L1862.2 195.2L1861 195.5L1859.8 195.7L1858.6 195.9L1857.4 196.1L1856.2 196.3L1855 196.4L1853.8 196.6L1852.6 196.8L1851.4 196.9L1850.2 197.1L1849 197.3L1847.9 197.4L1846.7 197.6L1845.5 197.7L1844.3 197.9L1843.1 198L1841.9 198.2L1840.7 198.3L1839.5 198.5L1838.3 198.7L1837.1 198.9L1835.9 199L1834.7 199.2L1833.5 199.4L1832.3 199.6L1831.1 199.9L1830 200.1L1828.8 200.3L1827.6 200.6L1826.4 200.9L1825.2 201.1L1824 201.4L1822.8 201.7L1821.6 202L1820.4 202.4L1819.2 202.7L1818 203L1816.8 203.4L1815.6 203.8L1814.4 204.2L1813.2 204.7L1812.1 205.2L1810.9 205.7L1809.7 206.2L1808.5 206.7L1807.3 207.3L1806.1 208L1804.9 208.6L1803.7 209.3L1802.3 210.3L1801 211.5L1799.6 213L1798.2 214.7L1796.9 216.5L1795.5 218.5L1794.1 220.5L1792.8 222.8L1791.4 225.3L1790 228.1L1788.7 231.2L1787.3 234.5L1785.9 238.2L1784.5 242.4L1783.2 247.2L1781.8 252.5L1780.4 258.3L1779.1 264.6L1777.7 271.2L1776.3 278.6L1775 286.9L1773.6 295.9L1772.2 305.3L1770.9 314.8L1769.5 324.5L1768.1 334.9L1766.8 345.8L1765.4 356.5L1764 366.5L1762.7 375.2L1761.3 383.7L1759.9 391.2L1758.6 396.7L1757.2 400L1755.8 400L1754.4 396.6L1753.1 388.1L1751.7 375.9L1750.3 363.8L1749 350.3L1747.6 336.2L1746.2 322.8L1744.9 310.6L1743.5 298.7L1742.1 287.3L1740.8 276.7L1739.4 266.9L1738 257.3L1736.7 248.8L1735.3 242.5L1733.9 238.4L1732.6 235.2L1731.2 232.5L1729.8 230.1L1728.5 227.7L1727.1 225.5L1725.7 223.4L1724.3 221.5L1723 219.9L1721.6 218.6L1720.2 217.5L1718.9 216.5L1717.5 215.7L1716.1 214.9L1714.8 214.2L1713.4 213.5L1712 212.9L1710.7 212.3L1709.3 211.8L1705.9 210.5L1702.5 209.3L1699.1 208.3L1695.7 207.4L1692.3 206.5L1688.9 205.6L1685.5 204.8L1682.1 204.1L1678.7 203.4L1675.3 202.8L1671.9 202.3L1668.5 201.8L1665.1 201.3L1661.7 200.9L1658.3 200.6L1654.9 200.5L1651.5 200.6L1648.1 200.7L1644.7 201L1641.3 201.4L1637.9 201.8L1634.5 202.2L1631.1 202.7L1627.7 203.2L1624.3 203.7L1620.9 204.1L1617.5 204.5L1614.1 204.9L1610.7 205.4L1607.3 205.9L1603.9 206.3L1600.5 206.8L1597.1 207.1L1593.7 207.4L1590.3 207.5L1586.9 207.5L1583.5 207.5L1580.1 207.3L1576.7 207.2L1573.3 207L1569.9 206.8L1566.5 206.6L1563.1 206.4L1559.7 206.2L1556.3 206L1552.9 205.9L1549.5 205.8L1546.1 205.8L1542.7 205.8L1539.3 205.8L1535.9 205.9L1532.5 206L1529.1 206.1L1525.7 206.2L1522.3 206.3L1518.9 206.5L1515.5 206.7L1512.1 206.9L1508.7 207.1" stroke="#440154"/>
</g>
<path d="M1496.9 460.6V468.2M1614.9 460.6V468.2M1732.9 460.6V468.2M1850.9 460.6V468.2M1520.5 460.6V464.9M1544.1 460.6V464.9M1567.7 460.6V464.9M1591.3 460.6V464.9M1638.5 460.6V464.9M1662.1 460.6V464.9M1685.7 460.6V464.9M1709.3 460.6V464.9M1756.5 460.6V464.9M1780.1 460.6V464.9M1803.7 460.6V464.9M1827.3 460.6V464.9M1874.5 460.6V464.9M1898.1 460.6V464.9M1496.9 460.6H1489.3M1496.9 372.43H1489.3M1496.9 284.26H1489.3M1496.9 196.09H1489.3M1496.9 107.92H1489.3M1496.9 19.75H1489.3M1496.9 438.56H1492.6M1496.9 416.52H1492.6M1496.9 394.47H1492.6M1496.9 350.39H1492.6M1496.9 328.35H1492.6M1496.9 306.3H1492.6M1496.9 262.22H1492.6M1496.9 240.18H1492.6M1496.9 218.13H1492.6M1496.9 174.05H1492.6M1496.9 152H1492.6M1496.9 129.96H1492.6M1496.9 85.88H1492.6M1496.9 63.84H1492.6M1496.9 41.79H1492.6" stroke="#1c1c1c" stroke-width="1.9" fill="none"/>
<rect x="1496.9" y="19.75" width="424.8" height="440.85" fill="none" stroke="#1c1c1c" stroke-width="2.1"/>
<text transform="translate(1470.14,501.6) scale(1.0200,1)" font-size="33" font-family="'DejaVu Sans', 'Liberation Sans', sans-serif" font-weight="normal" font-style="normal" fill="#000">0.0</text>
<text transform="translate(1588.5,501.6) scale(1.0200,1)" font-size="33" font-family="'DejaVu Sans', 'Liberation Sans', sans-serif" font-weight="normal" font-style="normal" fill="#000">0.5</text>
<text transform="translate(1705.4,501.6) scale(1.0200,1)" font-size="33" font-family="'DejaVu Sans', 'Liberation Sans', sans-serif" font-weight="normal" font-style="normal" fill="#000">1.0</text>
<text transform="translate(1823.76,501.6) scale(1.0200,1)" font-size="33" font-family="'DejaVu Sans', 'Liberation Sans', sans-serif" font-weight="normal" font-style="normal" fill="#000">1.5</text>
<text transform="translate(1411.95,473.61)" font-size="33" font-family="'DejaVu Sans', 'Liberation Sans', sans-serif" font-weight="normal" font-style="normal" fill="#000">−60</text>
<text transform="translate(1411.95,385.44)" font-size="33" font-family="'DejaVu Sans', 'Liberation Sans', sans-serif" font-weight="normal" font-style="normal" fill="#000">−40</text>
<text transform="translate(1411.95,297.27)" font-size="33" font-family="'DejaVu Sans', 'Liberation Sans', sans-serif" font-weight="normal" font-style="normal" fill="#000">−20</text>
<text transform="translate(1460.6,209.1)" font-size="33" font-family="'DejaVu Sans', 'Liberation Sans', sans-serif" font-weight="normal" font-style="normal" fill="#000">0</text>
<text transform="translate(1439.6,120.93)" font-size="33" font-family="'DejaVu Sans', 'Liberation Sans', sans-serif" font-weight="normal" font-style="normal" fill="#000">20</text>
<text transform="translate(1439.6,32.76)" font-size="33" font-family="'DejaVu Sans', 'Liberation Sans', sans-serif" font-weight="normal" font-style="normal" fill="#000">40</text>
<linearGradient id="gc" x1="0" y1="0" x2="0" y2="1"><stop offset="0.0000" stop-color="#440154"/><stop offset="0.0213" stop-color="#46085c"/><stop offset="0.0426" stop-color="#471063"/><stop offset="0.0638" stop-color="#48186a"/><stop offset="0.0851" stop-color="#481f70"/><stop offset="0.1064" stop-color="#482677"/><stop offset="0.1277" stop-color="#472d7b"/><stop offset="0.1489" stop-color="#463480"/><stop offset="0.1702" stop-color="#443a83"/><stop offset="0.1915" stop-color="#424186"/><stop offset="0.2128" stop-color="#3f4788"/><stop offset="0.2340" stop-color="#3d4d8a"/><stop offset="0.2553" stop-color="#3a538b"/><stop offset="0.2766" stop-color="#38598c"/><stop offset="0.2979" stop-color="#355f8d"/><stop offset="0.3191" stop-color="#32648e"/><stop offset="0.3404" stop-color="#306a8e"/><stop offset="0.3617" stop-color="#2e6f8e"/><stop offset="0.3830" stop-color="#2b748e"/><stop offset="0.4043" stop-color="#29798e"/><stop offset="0.4255" stop-color="#277e8e"/><stop offset="0.4468" stop-color="#25838e"/><stop offset="0.4681" stop-color="#23888e"/><stop offset="0.4894" stop-color="#218e8d"/><stop offset="0.5106" stop-color="#20928c"/><stop offset="0.5319" stop-color="#1f988b"/><stop offset="0.5532" stop-color="#1e9d89"/><stop offset="0.5745" stop-color="#1fa287"/><stop offset="0.5957" stop-color="#22a785"/><stop offset="0.6170" stop-color="#25ac82"/><stop offset="0.6383" stop-color="#2cb17e"/><stop offset="0.6596" stop-color="#32b67a"/><stop offset="0.6809" stop-color="#3bbb75"/><stop offset="0.7021" stop-color="#44bf70"/><stop offset="0.7234" stop-color="#50c46a"/><stop offset="0.7447" stop-color="#5ac864"/><stop offset="0.7660" stop-color="#67cc5c"/><stop offset="0.7872" stop-color="#73d056"/><stop offset="0.8085" stop-color="#7fd34e"/><stop offset="0.8298" stop-color="#8ed645"/><stop offset="0.8511" stop-color="#9bd93c"/><stop offset="0.8723" stop-color="#aadc32"/><stop offset="0.8936" stop-color="#b8de29"/><stop offset="0.9149" stop-color="#c8e020"/><stop offset="0.9362" stop-color="#d5e21a"/><stop offset="0.9574" stop-color="#e5e419"/><stop offset="0.9787" stop-color="#f1e51d"/><stop offset="1.0000" stop-color="#fde725"/></linearGradient>
<rect x="1947.7" y="19.75" width="22.4" height="440.85" fill="url(#gc)" stroke="#222" stroke-width="1.7"/>
<text transform="translate(1984.2,421.62)" font-size="30" font-family="'DejaVu Sans', 'Liberation Sans', sans-serif" font-weight="normal" font-style="normal" fill="#000">2</text>
<text transform="translate(1984.94,324.42)" font-size="30" font-family="'DejaVu Sans', 'Liberation Sans', sans-serif" font-weight="normal" font-style="normal" fill="#000">4</text>
<text transform="translate(1984.31,227.22)" font-size="30" font-family="'DejaVu Sans', 'Liberation Sans', sans-serif" font-weight="normal" font-style="normal" fill="#000">6</text>
<text transform="translate(1984.36,130.02)" font-size="30" font-family="'DejaVu Sans', 'Liberation Sans', sans-serif" font-weight="normal" font-style="normal" fill="#000">8</text>
<text transform="translate(1984.1,32.82) scale(0.9700,1)" font-size="30" font-family="'DejaVu Sans', 'Liberation Sans', sans-serif" font-weight="normal" font-style="normal" fill="#000">10</text>
<path d="M1970.1 410.3h7.3M1970.1 313.1h7.3M1970.1 215.9h7.3M1970.1 118.7h7.3M1970.1 21.5h7.3" stroke="#1c1c1c" stroke-width="1.9" fill="none"/>
<text transform="translate(2038.6,174.61) rotate(90) scale(0.9922,1)" font-size="34" font-family="'DejaVu Sans', 'Liberation Sans', sans-serif" font-weight="normal" font-style="normal" fill="#000">Cycle #</text>
<text transform="translate(1400.87,549.6)" font-size="42.2" font-family="'DejaVu Sans', 'Liberation Sans', sans-serif" font-weight="normal" font-style="italic" fill="#000">E</text>
<text transform="translate(1426.89,555.7) scale(0.9797,1)" font-size="29.2" font-family="'DejaVu Sans', 'Liberation Sans', sans-serif" font-weight="normal" font-style="italic" fill="#000">disk</text>
<text transform="translate(1491.69,555.7) scale(1.0066,1)" font-size="29.2" font-family="'DejaVu Sans', 'Liberation Sans', sans-serif" font-weight="normal" font-style="normal" fill="#000">+</text>
<text transform="translate(1522.47,555.7)" font-size="29.2" font-family="'DejaVu Sans', 'Liberation Sans', sans-serif" font-weight="normal" font-style="italic" fill="#000">ring</text>
<text transform="translate(1581.41,555.7)" font-size="29.2" font-family="'DejaVu Sans', 'Liberation Sans', sans-serif" font-weight="normal" font-style="italic" fill="#000">,</text>
<text transform="translate(1594.67,555.7) scale(1.0260,1)" font-size="29.2" font-family="'DejaVu Sans', 'Liberation Sans', sans-serif" font-weight="normal" font-style="normal" fill="#000">85%</text>
<text transform="translate(1665.69,555.7) scale(0.9874,1)" font-size="29.2" font-family="'DejaVu Sans', 'Liberation Sans', sans-serif" font-weight="normal" font-style="italic" fill="#000">iR</text>
<text transform="translate(1699.03,555.7) scale(1.0205,1)" font-size="29.2" font-family="'DejaVu Sans', 'Liberation Sans', sans-serif" font-weight="normal" font-style="italic" fill="#000">comp.</text>
<text transform="translate(1797.16,549.6) scale(1.0030,1)" font-size="42.2" font-family="'DejaVu Sans', 'Liberation Sans', sans-serif" font-weight="normal" font-style="normal" fill="#000">(V vs RHE)</text>
<text transform="translate(1388.2,372.68) rotate(-90)" font-size="42.2" font-family="'DejaVu Sans', 'Liberation Sans', sans-serif" font-weight="normal" font-style="italic" fill="#000">i</text>
<text transform="translate(1393.6,360.76) rotate(-90) scale(0.9420,1)" font-size="29.2" font-family="'DejaVu Sans', 'Liberation Sans', sans-serif" font-weight="normal" font-style="italic" fill="#000">disk</text>
<text transform="translate(1393.6,295.69) rotate(-90) scale(0.9355,1)" font-size="29.2" font-family="'DejaVu Sans', 'Liberation Sans', sans-serif" font-weight="normal" font-style="normal" fill="#000">+</text>
<text transform="translate(1393.6,265.05) rotate(-90) scale(1.0199,1)" font-size="29.2" font-family="'DejaVu Sans', 'Liberation Sans', sans-serif" font-weight="normal" font-style="italic" fill="#000">ring</text>
<text transform="translate(1388.2,193.03) rotate(-90)" font-size="42.2" font-family="'DejaVu Sans', 'Liberation Sans', sans-serif" font-weight="normal" font-style="normal" fill="#000">(</text>
<text transform="translate(1388.2,174.44) rotate(-90)" font-size="42.2" font-family="'DejaVu Sans', 'Liberation Sans', sans-serif" font-weight="normal" font-style="italic" fill="#000">μ</text>
<text transform="translate(1388.2,145.37) rotate(-90) scale(0.8121,1)" font-size="42.2" font-family="'DejaVu Sans', 'Liberation Sans', sans-serif" font-weight="normal" font-style="normal" fill="#000">A)</text>
<text transform="translate(1368.05,46.8) scale(1.0250,1)" font-size="44" font-family="'Liberation Sans', 'DejaVu Sans', sans-serif" font-weight="bold" font-style="normal" fill="#000">(c)</text>
<text transform="translate(1512.22,443)" font-size="31.1" font-family="'Liberation Sans', 'DejaVu Sans', sans-serif" font-weight="bold" font-style="normal" fill="#000">CO</text>
<text transform="translate(1559.17,449.9)" font-size="19.8" font-family="'Liberation Sans', 'DejaVu Sans', sans-serif" font-weight="bold" font-style="normal" fill="#000">2</text>
<text transform="translate(1576.07,443)" font-size="31.1" font-family="'Liberation Sans', 'DejaVu Sans', sans-serif" font-weight="bold" font-style="normal" fill="#000">purge</text>
<text transform="translate(1657.32,74) scale(1.0012,1)" font-size="40" font-family="'Liberation Sans', 'DejaVu Sans', sans-serif" font-weight="normal" font-style="normal" fill="#000">Au ox.</text>
<text transform="translate(1532.12,339.3) scale(1.0013,1)" font-size="40" font-family="'Liberation Sans', 'DejaVu Sans', sans-serif" font-weight="normal" font-style="normal" fill="#000">Au red.</text>
<text transform="translate(1826.21,301.9) scale(0.9996,1)" font-size="40" font-family="'Liberation Sans', 'DejaVu Sans', sans-serif" font-weight="normal" font-style="normal" fill="#000">OER</text>
<path d="M1748.4 85.7L1784 110.19" stroke="#000" stroke-width="4.6" fill="none"/>
<path d="M1803.2 123.4L1777.31 116.39L1787.4 101.73Z" fill="#000"/>
<path d="M1668.9 323.4L1711.5 323.4" stroke="#000" stroke-width="4.6" fill="none"/>
<path d="M1734.8 323.4L1709.5 332.3L1709.5 314.5Z" fill="#000"/>
<path d="M1907 256.6L1907 214.5" stroke="#000" stroke-width="4.6" fill="none"/>
<path d="M1907 191.2L1915.9 216.5L1898.1 216.5Z" fill="#000"/>
</g>
</svg>
</body></html>
